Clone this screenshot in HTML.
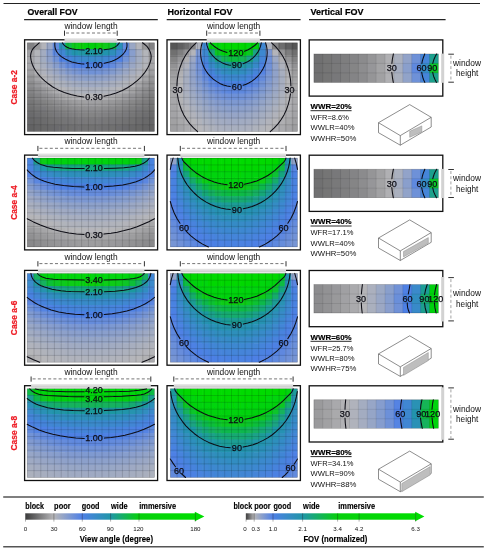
<!DOCTYPE html><html><head><meta charset="utf-8"><title>FOV</title><style>html,body{margin:0;padding:0;background:#fff}svg{display:block}</style></head><body><svg width="488" height="550" viewBox="0 0 488 550" font-family='"Liberation Sans", Arial, sans-serif'>
<defs><linearGradient id="wing" x1="0" y1="0" x2="0" y2="1"><stop offset="0" stop-color="#ebebeb"/><stop offset="1" stop-color="#c6c6c6"/></linearGradient>
<linearGradient id="gang" x1="0" y1="0" x2="1" y2="0"><stop offset="0.0000" stop-color="#3c3c3c"/><stop offset="0.1667" stop-color="#b6b6b9"/><stop offset="0.3333" stop-color="#4e80e6"/><stop offset="0.5000" stop-color="#2096a8"/><stop offset="0.6667" stop-color="#06d00c"/><stop offset="1.0000" stop-color="#00de00"/></linearGradient>
<linearGradient id="gov" x1="0" y1="0" x2="1" y2="0"><stop offset="0.0000" stop-color="#3c3c3c"/><stop offset="0.0476" stop-color="#b6b6b9"/><stop offset="0.1587" stop-color="#4e80e6"/><stop offset="0.3333" stop-color="#2096a8"/><stop offset="0.5397" stop-color="#06d00c"/><stop offset="1.0000" stop-color="#00de00"/></linearGradient>
<filter id="bl" x="-5%" y="-5%" width="110%" height="110%"><feGaussianBlur stdDeviation="0.7"/></filter>
</defs>
<rect width="488" height="550" fill="#fff"/>
<path d="M3.5,3.5H480" stroke="#222" stroke-width="1"/>
<text x="27.5" y="15" font-size="8.9" font-weight="bold" fill="#000" stroke="#000" stroke-width="0.2" textLength="50" lengthAdjust="spacingAndGlyphs">Overall FOV</text>
<text x="167.5" y="15" font-size="8.9" font-weight="bold" fill="#000" stroke="#000" stroke-width="0.2" textLength="65" lengthAdjust="spacingAndGlyphs">Horizontal FOV</text>
<text x="310.4" y="15" font-size="8.9" font-weight="bold" fill="#000" stroke="#000" stroke-width="0.2" textLength="53" lengthAdjust="spacingAndGlyphs">Vertical FOV</text>
<path d="M24.1,19.7H157.8" stroke="#222" stroke-width="1.3"/>
<path d="M166.7,19.7H300.6" stroke="#222" stroke-width="1.3"/>
<path d="M309.0,19.7H445.6" stroke="#222" stroke-width="1.3"/>
<g transform="translate(0,0.00)">
<text transform="translate(17.4,87.3) rotate(-90)" font-size="8.9" font-weight="bold" fill="#ee1c25" stroke="#ee1c25" stroke-width="0.25" text-anchor="middle" textLength="34.5" lengthAdjust="spacingAndGlyphs">Case a-2</text>
<text x="91.0" y="29.1" font-size="8.3" text-anchor="middle" fill="#111" textLength="53.2" lengthAdjust="spacingAndGlyphs">window length</text>
<path d="M66.0,33.0H116.2" stroke="#666" stroke-width="0.9" stroke-dasharray="3 2.2" fill="none"/>
<path d="M64.5,30.6v5.2M117.2,30.6v5.2" stroke="#333" stroke-width="1" fill="none"/>
<text x="233.6" y="29.1" font-size="8.3" text-anchor="middle" fill="#111" textLength="53.2" lengthAdjust="spacingAndGlyphs">window length</text>
<path d="M208.2,33.0H258.9" stroke="#666" stroke-width="0.9" stroke-dasharray="3 2.2" fill="none"/>
<path d="M206.7,30.6v5.2M259.9,30.6v5.2" stroke="#333" stroke-width="1" fill="none"/>
<rect x="24.60" y="39.80" width="133.00" height="94.80" fill="#fff" stroke="#111" stroke-width="1.3"/>
<clipPath id="c1"><rect x="27.20" y="42.80" width="127.30" height="88.80"/></clipPath>
<g clip-path="url(#c1)">
<g filter="url(#bl)">
<path d="M24.2,39.8h10.07v10.04h-10.07z" fill="#828284"/>
<path d="M33.56,39.8h7.07v10.04h-7.07z" fill="#99999b"/>
<path d="M39.93,39.8h7.07v10.04h-7.07z" fill="#b3b4ba"/>
<path d="M46.3,39.8h7.06v10.04h-7.06z" fill="#9aa7c5"/>
<path d="M52.66,39.8h7.07v10.04h-7.07z" fill="#638bdd"/>
<path d="M59.03,39.8h7.06v10.04h-7.06z" fill="#2c90b8"/>
<path d="M65.39,39.8h7.06v10.04h-7.06z" fill="#0fbb45"/>
<path d="M71.75,39.8h7.07v10.04h-7.07z" fill="#09ca1c"/>
<path d="M78.12,39.8h7.06v10.04h-7.06z" fill="#07ce11"/>
<path d="M84.48,39.8h7.07v10.04h-7.07z" fill="#06cf0e"/>
<path d="M90.85,39.8h7.06v10.04h-7.06z" fill="#06cf0e"/>
<path d="M97.22,39.8h7.06v10.04h-7.06z" fill="#07ce11"/>
<path d="M103.58,39.8h7.07v10.04h-7.07z" fill="#09ca1c"/>
<path d="M109.95,39.8h7.06v10.04h-7.06z" fill="#0fbb45"/>
<path d="M116.31,39.8h7.07v10.04h-7.07z" fill="#2c90b8"/>
<path d="M122.68,39.8h7.06v10.04h-7.06z" fill="#638bdd"/>
<path d="M129.04,39.8h7.06v10.04h-7.06z" fill="#9aa7c5"/>
<path d="M135.41,39.8h7.06v10.04h-7.06z" fill="#b3b4ba"/>
<path d="M141.77,39.8h7.06v10.04h-7.06z" fill="#99999b"/>
<path d="M148.13,39.8h9.37v10.04h-9.37z" fill="#828284"/>
<path d="M24.2,49.14h10.07v7.04h-10.07z" fill="#a0a0a3"/>
<path d="M33.56,49.14h7.07v7.04h-7.07z" fill="#b3b5ba"/>
<path d="M39.93,49.14h7.07v7.04h-7.07z" fill="#a3acc1"/>
<path d="M46.3,49.14h7.06v7.04h-7.06z" fill="#889ecd"/>
<path d="M52.66,49.14h7.07v7.04h-7.07z" fill="#5c88e0"/>
<path d="M59.03,49.14h7.06v7.04h-7.06z" fill="#4087d3"/>
<path d="M65.39,49.14h7.06v7.04h-7.06z" fill="#2e8fbb"/>
<path d="M71.75,49.14h7.07v7.04h-7.07z" fill="#2494ad"/>
<path d="M78.12,49.14h7.06v7.04h-7.06z" fill="#2097a5"/>
<path d="M84.48,49.14h7.07v7.04h-7.07z" fill="#1f99a0"/>
<path d="M90.85,49.14h7.06v7.04h-7.06z" fill="#1f99a0"/>
<path d="M97.22,49.14h7.06v7.04h-7.06z" fill="#2097a5"/>
<path d="M103.58,49.14h7.07v7.04h-7.07z" fill="#2494ad"/>
<path d="M109.95,49.14h7.06v7.04h-7.06z" fill="#2e8fbb"/>
<path d="M116.31,49.14h7.07v7.04h-7.07z" fill="#4087d3"/>
<path d="M122.68,49.14h7.06v7.04h-7.06z" fill="#5c88e0"/>
<path d="M129.04,49.14h7.06v7.04h-7.06z" fill="#889ecd"/>
<path d="M135.41,49.14h7.06v7.04h-7.06z" fill="#a3acc1"/>
<path d="M141.77,49.14h7.06v7.04h-7.06z" fill="#b3b5ba"/>
<path d="M148.13,49.14h9.37v7.04h-9.37z" fill="#a0a0a3"/>
<path d="M24.2,55.49h10.07v7.04h-10.07z" fill="#a8a8ab"/>
<path d="M33.56,55.49h7.07v7.04h-7.07z" fill="#b1b3bb"/>
<path d="M39.93,55.49h7.07v7.04h-7.07z" fill="#a2acc1"/>
<path d="M46.3,55.49h7.06v7.04h-7.06z" fill="#8ea1ca"/>
<path d="M52.66,55.49h7.07v7.04h-7.07z" fill="#7293d6"/>
<path d="M59.03,55.49h7.06v7.04h-7.06z" fill="#5182e5"/>
<path d="M65.39,55.49h7.06v7.04h-7.06z" fill="#4684db"/>
<path d="M71.75,55.49h7.07v7.04h-7.07z" fill="#3f87d2"/>
<path d="M78.12,55.49h7.06v7.04h-7.06z" fill="#3c89cd"/>
<path d="M84.48,55.49h7.07v7.04h-7.07z" fill="#3a8acb"/>
<path d="M90.85,55.49h7.06v7.04h-7.06z" fill="#3a8acb"/>
<path d="M97.22,55.49h7.06v7.04h-7.06z" fill="#3c89cd"/>
<path d="M103.58,55.49h7.07v7.04h-7.07z" fill="#3f87d2"/>
<path d="M109.95,55.49h7.06v7.04h-7.06z" fill="#4684db"/>
<path d="M116.31,55.49h7.07v7.04h-7.07z" fill="#5182e5"/>
<path d="M122.68,55.49h7.06v7.04h-7.06z" fill="#7293d6"/>
<path d="M129.04,55.49h7.06v7.04h-7.06z" fill="#8ea1ca"/>
<path d="M135.41,55.49h7.06v7.04h-7.06z" fill="#a2acc1"/>
<path d="M141.77,55.49h7.06v7.04h-7.06z" fill="#b1b3bb"/>
<path d="M148.13,55.49h9.37v7.04h-9.37z" fill="#a8a8ab"/>
<path d="M24.2,61.83h10.07v7.04h-10.07z" fill="#a5a5a8"/>
<path d="M33.56,61.83h7.07v7.04h-7.07z" fill="#b3b5ba"/>
<path d="M39.93,61.83h7.07v7.04h-7.07z" fill="#a8afbf"/>
<path d="M46.3,61.83h7.06v7.04h-7.06z" fill="#9aa7c5"/>
<path d="M52.66,61.83h7.07v7.04h-7.07z" fill="#889ecd"/>
<path d="M59.03,61.83h7.06v7.04h-7.06z" fill="#7594d5"/>
<path d="M65.39,61.83h7.06v7.04h-7.06z" fill="#638bdd"/>
<path d="M71.75,61.83h7.07v7.04h-7.07z" fill="#5483e3"/>
<path d="M78.12,61.83h7.06v7.04h-7.06z" fill="#4d80e5"/>
<path d="M84.48,61.83h7.07v7.04h-7.07z" fill="#4c81e3"/>
<path d="M90.85,61.83h7.06v7.04h-7.06z" fill="#4c81e3"/>
<path d="M97.22,61.83h7.06v7.04h-7.06z" fill="#4d80e5"/>
<path d="M103.58,61.83h7.07v7.04h-7.07z" fill="#5483e3"/>
<path d="M109.95,61.83h7.06v7.04h-7.06z" fill="#638bdd"/>
<path d="M116.31,61.83h7.07v7.04h-7.07z" fill="#7594d5"/>
<path d="M122.68,61.83h7.06v7.04h-7.06z" fill="#889ecd"/>
<path d="M129.04,61.83h7.06v7.04h-7.06z" fill="#9aa7c5"/>
<path d="M135.41,61.83h7.06v7.04h-7.06z" fill="#a8afbf"/>
<path d="M141.77,61.83h7.06v7.04h-7.06z" fill="#b3b5ba"/>
<path d="M148.13,61.83h9.37v7.04h-9.37z" fill="#a5a5a8"/>
<path d="M24.2,68.17h10.07v7.04h-10.07z" fill="#9e9ea1"/>
<path d="M33.56,68.17h7.07v7.04h-7.07z" fill="#b1b1b4"/>
<path d="M39.93,68.17h7.07v7.04h-7.07z" fill="#afb2bc"/>
<path d="M46.3,68.17h7.06v7.04h-7.06z" fill="#a5adc0"/>
<path d="M52.66,68.17h7.07v7.04h-7.07z" fill="#9aa7c5"/>
<path d="M59.03,68.17h7.06v7.04h-7.06z" fill="#8ea1ca"/>
<path d="M65.39,68.17h7.06v7.04h-7.06z" fill="#829bcf"/>
<path d="M71.75,68.17h7.07v7.04h-7.07z" fill="#7996d3"/>
<path d="M78.12,68.17h7.06v7.04h-7.06z" fill="#7393d6"/>
<path d="M84.48,68.17h7.07v7.04h-7.07z" fill="#7092d7"/>
<path d="M90.85,68.17h7.06v7.04h-7.06z" fill="#7092d7"/>
<path d="M97.22,68.17h7.06v7.04h-7.06z" fill="#7393d6"/>
<path d="M103.58,68.17h7.07v7.04h-7.07z" fill="#7996d3"/>
<path d="M109.95,68.17h7.06v7.04h-7.06z" fill="#829bcf"/>
<path d="M116.31,68.17h7.07v7.04h-7.07z" fill="#8ea1ca"/>
<path d="M122.68,68.17h7.06v7.04h-7.06z" fill="#9aa7c5"/>
<path d="M129.04,68.17h7.06v7.04h-7.06z" fill="#a5adc0"/>
<path d="M135.41,68.17h7.06v7.04h-7.06z" fill="#afb2bc"/>
<path d="M141.77,68.17h7.06v7.04h-7.06z" fill="#b1b1b4"/>
<path d="M148.13,68.17h9.37v7.04h-9.37z" fill="#9e9ea1"/>
<path d="M24.2,74.51h10.07v7.04h-10.07z" fill="#969698"/>
<path d="M33.56,74.51h7.07v7.04h-7.07z" fill="#a4a4a7"/>
<path d="M39.93,74.51h7.07v7.04h-7.07z" fill="#b6b6b9"/>
<path d="M46.3,74.51h7.06v7.04h-7.06z" fill="#afb2bc"/>
<path d="M52.66,74.51h7.07v7.04h-7.07z" fill="#a7aebf"/>
<path d="M59.03,74.51h7.06v7.04h-7.06z" fill="#9faac3"/>
<path d="M65.39,74.51h7.06v7.04h-7.06z" fill="#98a6c6"/>
<path d="M71.75,74.51h7.07v7.04h-7.07z" fill="#92a3c9"/>
<path d="M78.12,74.51h7.06v7.04h-7.06z" fill="#8ea1ca"/>
<path d="M84.48,74.51h7.07v7.04h-7.07z" fill="#8ba0cb"/>
<path d="M90.85,74.51h7.06v7.04h-7.06z" fill="#8ba0cb"/>
<path d="M97.22,74.51h7.06v7.04h-7.06z" fill="#8ea1ca"/>
<path d="M103.58,74.51h7.07v7.04h-7.07z" fill="#92a3c9"/>
<path d="M109.95,74.51h7.06v7.04h-7.06z" fill="#98a6c6"/>
<path d="M116.31,74.51h7.07v7.04h-7.07z" fill="#9faac3"/>
<path d="M122.68,74.51h7.06v7.04h-7.06z" fill="#a7aebf"/>
<path d="M129.04,74.51h7.06v7.04h-7.06z" fill="#afb2bc"/>
<path d="M135.41,74.51h7.06v7.04h-7.06z" fill="#b6b6b9"/>
<path d="M141.77,74.51h7.06v7.04h-7.06z" fill="#a4a4a7"/>
<path d="M148.13,74.51h9.37v7.04h-9.37z" fill="#969698"/>
<path d="M24.2,80.86h10.07v7.04h-10.07z" fill="#8d8d8f"/>
<path d="M33.56,80.86h7.07v7.04h-7.07z" fill="#98989b"/>
<path d="M39.93,80.86h7.07v7.04h-7.07z" fill="#a5a5a8"/>
<path d="M46.3,80.86h7.06v7.04h-7.06z" fill="#b4b4b7"/>
<path d="M52.66,80.86h7.07v7.04h-7.07z" fill="#b1b4bb"/>
<path d="M59.03,80.86h7.06v7.04h-7.06z" fill="#acb1bd"/>
<path d="M65.39,80.86h7.06v7.04h-7.06z" fill="#a7aebf"/>
<path d="M71.75,80.86h7.07v7.04h-7.07z" fill="#a3acc1"/>
<path d="M78.12,80.86h7.06v7.04h-7.06z" fill="#a0abc2"/>
<path d="M84.48,80.86h7.07v7.04h-7.07z" fill="#9faac3"/>
<path d="M90.85,80.86h7.06v7.04h-7.06z" fill="#9faac3"/>
<path d="M97.22,80.86h7.06v7.04h-7.06z" fill="#a0abc2"/>
<path d="M103.58,80.86h7.07v7.04h-7.07z" fill="#a3acc1"/>
<path d="M109.95,80.86h7.06v7.04h-7.06z" fill="#a7aebf"/>
<path d="M116.31,80.86h7.07v7.04h-7.07z" fill="#acb1bd"/>
<path d="M122.68,80.86h7.06v7.04h-7.06z" fill="#b1b4bb"/>
<path d="M129.04,80.86h7.06v7.04h-7.06z" fill="#b4b4b7"/>
<path d="M135.41,80.86h7.06v7.04h-7.06z" fill="#a5a5a8"/>
<path d="M141.77,80.86h7.06v7.04h-7.06z" fill="#98989b"/>
<path d="M148.13,80.86h9.37v7.04h-9.37z" fill="#8d8d8f"/>
<path d="M24.2,87.2h10.07v7.04h-10.07z" fill="#848486"/>
<path d="M33.56,87.2h7.07v7.04h-7.07z" fill="#8d8d8f"/>
<path d="M39.93,87.2h7.07v7.04h-7.07z" fill="#97979a"/>
<path d="M46.3,87.2h7.06v7.04h-7.06z" fill="#a2a2a4"/>
<path d="M52.66,87.2h7.07v7.04h-7.07z" fill="#adadb0"/>
<path d="M59.03,87.2h7.06v7.04h-7.06z" fill="#b6b6b9"/>
<path d="M65.39,87.2h7.06v7.04h-7.06z" fill="#b2b4bb"/>
<path d="M71.75,87.2h7.07v7.04h-7.07z" fill="#afb3bc"/>
<path d="M78.12,87.2h7.06v7.04h-7.06z" fill="#adb2bd"/>
<path d="M84.48,87.2h7.07v7.04h-7.07z" fill="#acb1bd"/>
<path d="M90.85,87.2h7.06v7.04h-7.06z" fill="#acb1bd"/>
<path d="M97.22,87.2h7.06v7.04h-7.06z" fill="#adb2bd"/>
<path d="M103.58,87.2h7.07v7.04h-7.07z" fill="#afb3bc"/>
<path d="M109.95,87.2h7.06v7.04h-7.06z" fill="#b2b4bb"/>
<path d="M116.31,87.2h7.07v7.04h-7.07z" fill="#b6b6b9"/>
<path d="M122.68,87.2h7.06v7.04h-7.06z" fill="#adadb0"/>
<path d="M129.04,87.2h7.06v7.04h-7.06z" fill="#a2a2a4"/>
<path d="M135.41,87.2h7.06v7.04h-7.06z" fill="#97979a"/>
<path d="M141.77,87.2h7.06v7.04h-7.06z" fill="#8d8d8f"/>
<path d="M148.13,87.2h9.37v7.04h-9.37z" fill="#848486"/>
<path d="M24.2,93.54h10.07v7.04h-10.07z" fill="#7d7d7e"/>
<path d="M33.56,93.54h7.07v7.04h-7.07z" fill="#848486"/>
<path d="M39.93,93.54h7.07v7.04h-7.07z" fill="#8c8c8e"/>
<path d="M46.3,93.54h7.06v7.04h-7.06z" fill="#939396"/>
<path d="M52.66,93.54h7.07v7.04h-7.07z" fill="#9b9b9e"/>
<path d="M59.03,93.54h7.06v7.04h-7.06z" fill="#a3a3a5"/>
<path d="M65.39,93.54h7.06v7.04h-7.06z" fill="#aaaaac"/>
<path d="M71.75,93.54h7.07v7.04h-7.07z" fill="#afafb2"/>
<path d="M78.12,93.54h7.06v7.04h-7.06z" fill="#b3b3b6"/>
<path d="M84.48,93.54h7.07v7.04h-7.07z" fill="#b5b5b8"/>
<path d="M90.85,93.54h7.06v7.04h-7.06z" fill="#b5b5b8"/>
<path d="M97.22,93.54h7.06v7.04h-7.06z" fill="#b3b3b6"/>
<path d="M103.58,93.54h7.07v7.04h-7.07z" fill="#afafb2"/>
<path d="M109.95,93.54h7.06v7.04h-7.06z" fill="#aaaaac"/>
<path d="M116.31,93.54h7.07v7.04h-7.07z" fill="#a3a3a5"/>
<path d="M122.68,93.54h7.06v7.04h-7.06z" fill="#9b9b9e"/>
<path d="M129.04,93.54h7.06v7.04h-7.06z" fill="#939396"/>
<path d="M135.41,93.54h7.06v7.04h-7.06z" fill="#8c8c8e"/>
<path d="M141.77,93.54h7.06v7.04h-7.06z" fill="#848486"/>
<path d="M148.13,93.54h9.37v7.04h-9.37z" fill="#7d7d7e"/>
<path d="M24.2,99.89h10.07v7.04h-10.07z" fill="#767677"/>
<path d="M33.56,99.89h7.07v7.04h-7.07z" fill="#7c7c7d"/>
<path d="M39.93,99.89h7.07v7.04h-7.07z" fill="#828283"/>
<path d="M46.3,99.89h7.06v7.04h-7.06z" fill="#888889"/>
<path d="M52.66,99.89h7.07v7.04h-7.07z" fill="#8e8e90"/>
<path d="M59.03,99.89h7.06v7.04h-7.06z" fill="#939395"/>
<path d="M65.39,99.89h7.06v7.04h-7.06z" fill="#98989a"/>
<path d="M71.75,99.89h7.07v7.04h-7.07z" fill="#9c9c9e"/>
<path d="M78.12,99.89h7.06v7.04h-7.06z" fill="#9f9fa1"/>
<path d="M84.48,99.89h7.07v7.04h-7.07z" fill="#a0a0a3"/>
<path d="M90.85,99.89h7.06v7.04h-7.06z" fill="#a0a0a3"/>
<path d="M97.22,99.89h7.06v7.04h-7.06z" fill="#9f9fa1"/>
<path d="M103.58,99.89h7.07v7.04h-7.07z" fill="#9c9c9e"/>
<path d="M109.95,99.89h7.06v7.04h-7.06z" fill="#98989a"/>
<path d="M116.31,99.89h7.07v7.04h-7.07z" fill="#939395"/>
<path d="M122.68,99.89h7.06v7.04h-7.06z" fill="#8e8e90"/>
<path d="M129.04,99.89h7.06v7.04h-7.06z" fill="#888889"/>
<path d="M135.41,99.89h7.06v7.04h-7.06z" fill="#828283"/>
<path d="M141.77,99.89h7.06v7.04h-7.06z" fill="#7c7c7d"/>
<path d="M148.13,99.89h9.37v7.04h-9.37z" fill="#767677"/>
<path d="M24.2,106.23h10.07v7.04h-10.07z" fill="#707071"/>
<path d="M33.56,106.23h7.07v7.04h-7.07z" fill="#757576"/>
<path d="M39.93,106.23h7.07v7.04h-7.07z" fill="#79797b"/>
<path d="M46.3,106.23h7.06v7.04h-7.06z" fill="#7e7e7f"/>
<path d="M52.66,106.23h7.07v7.04h-7.07z" fill="#828284"/>
<path d="M59.03,106.23h7.06v7.04h-7.06z" fill="#878788"/>
<path d="M65.39,106.23h7.06v7.04h-7.06z" fill="#8a8a8c"/>
<path d="M71.75,106.23h7.07v7.04h-7.07z" fill="#8d8d8f"/>
<path d="M78.12,106.23h7.06v7.04h-7.06z" fill="#8f8f91"/>
<path d="M84.48,106.23h7.07v7.04h-7.07z" fill="#909092"/>
<path d="M90.85,106.23h7.06v7.04h-7.06z" fill="#909092"/>
<path d="M97.22,106.23h7.06v7.04h-7.06z" fill="#8f8f91"/>
<path d="M103.58,106.23h7.07v7.04h-7.07z" fill="#8d8d8f"/>
<path d="M109.95,106.23h7.06v7.04h-7.06z" fill="#8a8a8c"/>
<path d="M116.31,106.23h7.07v7.04h-7.07z" fill="#878788"/>
<path d="M122.68,106.23h7.06v7.04h-7.06z" fill="#828284"/>
<path d="M129.04,106.23h7.06v7.04h-7.06z" fill="#7e7e7f"/>
<path d="M135.41,106.23h7.06v7.04h-7.06z" fill="#79797b"/>
<path d="M141.77,106.23h7.06v7.04h-7.06z" fill="#757576"/>
<path d="M148.13,106.23h9.37v7.04h-9.37z" fill="#707071"/>
<path d="M24.2,112.57h10.07v7.04h-10.07z" fill="#6b6b6c"/>
<path d="M33.56,112.57h7.07v7.04h-7.07z" fill="#6e6e70"/>
<path d="M39.93,112.57h7.07v7.04h-7.07z" fill="#727273"/>
<path d="M46.3,112.57h7.06v7.04h-7.06z" fill="#767677"/>
<path d="M52.66,112.57h7.07v7.04h-7.07z" fill="#79797b"/>
<path d="M59.03,112.57h7.06v7.04h-7.06z" fill="#7c7c7e"/>
<path d="M65.39,112.57h7.06v7.04h-7.06z" fill="#7f7f81"/>
<path d="M71.75,112.57h7.07v7.04h-7.07z" fill="#818183"/>
<path d="M78.12,112.57h7.06v7.04h-7.06z" fill="#838385"/>
<path d="M84.48,112.57h7.07v7.04h-7.07z" fill="#848485"/>
<path d="M90.85,112.57h7.06v7.04h-7.06z" fill="#848485"/>
<path d="M97.22,112.57h7.06v7.04h-7.06z" fill="#838385"/>
<path d="M103.58,112.57h7.07v7.04h-7.07z" fill="#818183"/>
<path d="M109.95,112.57h7.06v7.04h-7.06z" fill="#7f7f81"/>
<path d="M116.31,112.57h7.07v7.04h-7.07z" fill="#7c7c7e"/>
<path d="M122.68,112.57h7.06v7.04h-7.06z" fill="#79797b"/>
<path d="M129.04,112.57h7.06v7.04h-7.06z" fill="#767677"/>
<path d="M135.41,112.57h7.06v7.04h-7.06z" fill="#727273"/>
<path d="M141.77,112.57h7.06v7.04h-7.06z" fill="#6e6e70"/>
<path d="M148.13,112.57h9.37v7.04h-9.37z" fill="#6b6b6c"/>
<path d="M24.2,118.91h10.07v7.04h-10.07z" fill="#666667"/>
<path d="M33.56,118.91h7.07v7.04h-7.07z" fill="#69696a"/>
<path d="M39.93,118.91h7.07v7.04h-7.07z" fill="#6c6c6d"/>
<path d="M46.3,118.91h7.06v7.04h-7.06z" fill="#6f6f70"/>
<path d="M52.66,118.91h7.07v7.04h-7.07z" fill="#727273"/>
<path d="M59.03,118.91h7.06v7.04h-7.06z" fill="#747476"/>
<path d="M65.39,118.91h7.06v7.04h-7.06z" fill="#767678"/>
<path d="M71.75,118.91h7.07v7.04h-7.07z" fill="#787879"/>
<path d="M78.12,118.91h7.06v7.04h-7.06z" fill="#79797b"/>
<path d="M84.48,118.91h7.07v7.04h-7.07z" fill="#7a7a7b"/>
<path d="M90.85,118.91h7.06v7.04h-7.06z" fill="#7a7a7b"/>
<path d="M97.22,118.91h7.06v7.04h-7.06z" fill="#79797b"/>
<path d="M103.58,118.91h7.07v7.04h-7.07z" fill="#787879"/>
<path d="M109.95,118.91h7.06v7.04h-7.06z" fill="#767678"/>
<path d="M116.31,118.91h7.07v7.04h-7.07z" fill="#747476"/>
<path d="M122.68,118.91h7.06v7.04h-7.06z" fill="#727273"/>
<path d="M129.04,118.91h7.06v7.04h-7.06z" fill="#6f6f70"/>
<path d="M135.41,118.91h7.06v7.04h-7.06z" fill="#6c6c6d"/>
<path d="M141.77,118.91h7.06v7.04h-7.06z" fill="#69696a"/>
<path d="M148.13,118.91h9.37v7.04h-9.37z" fill="#666667"/>
<path d="M24.2,125.26h10.07v9.34h-10.07z" fill="#626263"/>
<path d="M33.56,125.26h7.07v9.34h-7.07z" fill="#656566"/>
<path d="M39.93,125.26h7.07v9.34h-7.07z" fill="#676768"/>
<path d="M46.3,125.26h7.06v9.34h-7.06z" fill="#69696a"/>
<path d="M52.66,125.26h7.07v9.34h-7.07z" fill="#6b6b6d"/>
<path d="M59.03,125.26h7.06v9.34h-7.06z" fill="#6d6d6f"/>
<path d="M65.39,125.26h7.06v9.34h-7.06z" fill="#6f6f70"/>
<path d="M71.75,125.26h7.07v9.34h-7.07z" fill="#707072"/>
<path d="M78.12,125.26h7.06v9.34h-7.06z" fill="#717173"/>
<path d="M84.48,125.26h7.07v9.34h-7.07z" fill="#727273"/>
<path d="M90.85,125.26h7.06v9.34h-7.06z" fill="#727273"/>
<path d="M97.22,125.26h7.06v9.34h-7.06z" fill="#717173"/>
<path d="M103.58,125.26h7.07v9.34h-7.07z" fill="#707072"/>
<path d="M109.95,125.26h7.06v9.34h-7.06z" fill="#6f6f70"/>
<path d="M116.31,125.26h7.07v9.34h-7.07z" fill="#6d6d6f"/>
<path d="M122.68,125.26h7.06v9.34h-7.06z" fill="#6b6b6d"/>
<path d="M129.04,125.26h7.06v9.34h-7.06z" fill="#69696a"/>
<path d="M135.41,125.26h7.06v9.34h-7.06z" fill="#676768"/>
<path d="M141.77,125.26h7.06v9.34h-7.06z" fill="#656566"/>
<path d="M148.13,125.26h9.37v9.34h-9.37z" fill="#626263"/>
</g>
</g>
<path d="M34.00,42.80V131.60M40.80,42.80V131.60M47.60,42.80V131.60M54.40,42.80V131.60M61.20,42.80V131.60M68.00,42.80V131.60M74.80,42.80V131.60M81.60,42.80V131.60M88.40,42.80V131.60M95.20,42.80V131.60M102.00,42.80V131.60M108.80,42.80V131.60M115.60,42.80V131.60M122.40,42.80V131.60M129.20,42.80V131.60M136.00,42.80V131.60M142.80,42.80V131.60M149.60,42.80V131.60M27.20,49.63H154.50M27.20,56.46H154.50M27.20,63.29H154.50M27.20,70.12H154.50M27.20,76.95H154.50M27.20,83.78H154.50M27.20,90.62H154.50M27.20,97.45H154.50M27.20,104.28H154.50M27.20,111.11H154.50M27.20,117.94H154.50M27.20,124.77H154.50" stroke="#000" stroke-opacity="0.2" stroke-width="0.7" fill="none"/>
<rect x="27.20" y="42.80" width="127.30" height="88.80" fill="none" stroke="#000" stroke-opacity="0.3" stroke-width="0.6"/>
<rect x="64.50" y="38.10" width="52.70" height="3.7" fill="url(#wing)"/>
<g fill="none" stroke="#0c0c14" stroke-width="1.05" stroke-linejoin="round" stroke-linecap="round">
<path d="M142.5,42.8L144.2,44L145.8,45.3L147.2,46.7L148.4,48.4L149.4,50.1L150.2,51.9L150.8,53.8L151.1,55.7L151.1,57.6L150.9,59.6L150.4,61.5L149.8,63.4L149,65.3L147.8,67.7L146.4,70.1L144.9,72.3L141.5,76.5L139.7,78.4L137.2,80.7L132.5,84.4L127.5,87.7L122.3,90.5L119.2,91.8L116.1,93L110.4,94.8L103.9,96.2"/>
<path d="M83.8,97L77.2,96.1L70.7,94.6L64.3,92.6L61.3,91.3L58.2,89.9L55.3,88.4L52.5,86.7L47.6,83.2L45,81.1L42.5,78.9L40.2,76.5L38.4,74.4L36.4,71.8L34.9,69.5L33.6,67.2L32.5,64.7L31.6,62.2L31.1,60.2L30.7,57.6L30.6,55.6L30.9,53.7L31.2,52.4L31.9,50.6L32.5,49.5L33.3,48.4L34.7,46.8L39.2,42.8"/>
<path d="M126.8,42.8L127,44.2L127,46.2L126.8,47.5L126.2,49.4L125.6,50.6L124.6,52.2L123.4,53.8L122,55.2L120.5,56.5L118.4,58L116.7,59L114.3,60.2L111.9,61.2L109.4,62L104.2,63.3"/>
<path d="M83.9,64.1L80.7,63.8L77.5,63.3L74.3,62.6L71.8,61.9L68.7,60.7L66.2,59.6L63.9,58.3L61.6,56.9L59.6,55.2L58.3,53.8L57.1,52.2L56.1,50.6L55.4,48.8L55,47L54.8,44.9L54.9,42.8"/>
<path d="M119.3,42.9L118.1,44.5L116.7,45.8L115.2,46.9L113.5,47.8L111.7,48.4L109.3,49L104.1,49.7"/>
<path d="M84.1,50.1L79.6,49.8L75.7,49.4L71.8,48.8L69.4,48.2L67.1,47.2L65.5,46.3L63.6,44.6L62.4,42.9"/>
</g>
<g font-size="9.6" fill="#0c0c14" stroke="#0c0c14" stroke-width="0.25" text-anchor="middle">
<text x="94.1" y="53.5" textLength="17.6" lengthAdjust="spacingAndGlyphs">2.10</text>
<text x="94.1" y="68.2" textLength="17.6" lengthAdjust="spacingAndGlyphs">1.00</text>
<text x="94.1" y="100.2" textLength="17.6" lengthAdjust="spacingAndGlyphs">0.30</text>
</g>
<rect x="167.00" y="39.80" width="133.40" height="94.80" fill="#fff" stroke="#111" stroke-width="1.3"/>
<clipPath id="c2"><rect x="170.30" y="42.80" width="127.20" height="88.80"/></clipPath>
<g clip-path="url(#c2)">
<g filter="url(#bl)">
<path d="M167.3,39.8h10.06v10.04h-10.06z" fill="#565657"/>
<path d="M176.66,39.8h7.06v10.04h-7.06z" fill="#5f5f60"/>
<path d="M183.02,39.8h7.06v10.04h-7.06z" fill="#6d6d6e"/>
<path d="M189.38,39.8h7.06v10.04h-7.06z" fill="#868688"/>
<path d="M195.74,39.8h7.06v10.04h-7.06z" fill="#aeb2bd"/>
<path d="M202.1,39.8h7.06v10.04h-7.06z" fill="#3f87d2"/>
<path d="M208.46,39.8h7.06v10.04h-7.06z" fill="#06d00c"/>
<path d="M214.82,39.8h7.06v10.04h-7.06z" fill="#04d507"/>
<path d="M221.18,39.8h7.06v10.04h-7.06z" fill="#03d706"/>
<path d="M227.54,39.8h7.06v10.04h-7.06z" fill="#03d805"/>
<path d="M233.9,39.8h7.06v10.04h-7.06z" fill="#03d805"/>
<path d="M240.26,39.8h7.06v10.04h-7.06z" fill="#03d706"/>
<path d="M246.62,39.8h7.06v10.04h-7.06z" fill="#04d507"/>
<path d="M252.98,39.8h7.06v10.04h-7.06z" fill="#06d00c"/>
<path d="M259.34,39.8h7.06v10.04h-7.06z" fill="#3f87d2"/>
<path d="M265.7,39.8h7.06v10.04h-7.06z" fill="#aeb2bd"/>
<path d="M272.06,39.8h7.06v10.04h-7.06z" fill="#868688"/>
<path d="M278.42,39.8h7.06v10.04h-7.06z" fill="#6d6d6e"/>
<path d="M284.78,39.8h7.06v10.04h-7.06z" fill="#5f5f60"/>
<path d="M291.14,39.8h9.36v10.04h-9.36z" fill="#565657"/>
<path d="M167.3,49.14h10.06v7.04h-10.06z" fill="#6f6f70"/>
<path d="M176.66,49.14h7.06v7.04h-7.06z" fill="#7e7e7f"/>
<path d="M183.02,49.14h7.06v7.04h-7.06z" fill="#959597"/>
<path d="M189.38,49.14h7.06v7.04h-7.06z" fill="#b3b4ba"/>
<path d="M195.74,49.14h7.06v7.04h-7.06z" fill="#7d98d2"/>
<path d="M202.1,49.14h7.06v7.04h-7.06z" fill="#3e88d0"/>
<path d="M208.46,49.14h7.06v7.04h-7.06z" fill="#1aa384"/>
<path d="M214.82,49.14h7.06v7.04h-7.06z" fill="#0ac723"/>
<path d="M221.18,49.14h7.06v7.04h-7.06z" fill="#05d10b"/>
<path d="M227.54,49.14h7.06v7.04h-7.06z" fill="#05d20a"/>
<path d="M233.9,49.14h7.06v7.04h-7.06z" fill="#05d20a"/>
<path d="M240.26,49.14h7.06v7.04h-7.06z" fill="#05d10b"/>
<path d="M246.62,49.14h7.06v7.04h-7.06z" fill="#0ac723"/>
<path d="M252.98,49.14h7.06v7.04h-7.06z" fill="#1aa384"/>
<path d="M259.34,49.14h7.06v7.04h-7.06z" fill="#3e88d0"/>
<path d="M265.7,49.14h7.06v7.04h-7.06z" fill="#7d98d2"/>
<path d="M272.06,49.14h7.06v7.04h-7.06z" fill="#b3b4ba"/>
<path d="M278.42,49.14h7.06v7.04h-7.06z" fill="#959597"/>
<path d="M284.78,49.14h7.06v7.04h-7.06z" fill="#7e7e7f"/>
<path d="M291.14,49.14h9.36v7.04h-9.36z" fill="#6f6f70"/>
<path d="M167.3,55.49h10.06v7.04h-10.06z" fill="#838384"/>
<path d="M176.66,55.49h7.06v7.04h-7.06z" fill="#959597"/>
<path d="M183.02,55.49h7.06v7.04h-7.06z" fill="#afafb2"/>
<path d="M189.38,55.49h7.06v7.04h-7.06z" fill="#9ca8c4"/>
<path d="M195.74,55.49h7.06v7.04h-7.06z" fill="#6f91d8"/>
<path d="M202.1,55.49h7.06v7.04h-7.06z" fill="#4485d8"/>
<path d="M208.46,55.49h7.06v7.04h-7.06z" fill="#2a91b5"/>
<path d="M214.82,55.49h7.06v7.04h-7.06z" fill="#1aa483"/>
<path d="M221.18,55.49h7.06v7.04h-7.06z" fill="#12b456"/>
<path d="M227.54,55.49h7.06v7.04h-7.06z" fill="#0fbc41"/>
<path d="M233.9,55.49h7.06v7.04h-7.06z" fill="#0fbc41"/>
<path d="M240.26,55.49h7.06v7.04h-7.06z" fill="#12b456"/>
<path d="M246.62,55.49h7.06v7.04h-7.06z" fill="#1aa483"/>
<path d="M252.98,55.49h7.06v7.04h-7.06z" fill="#2a91b5"/>
<path d="M259.34,55.49h7.06v7.04h-7.06z" fill="#4485d8"/>
<path d="M265.7,55.49h7.06v7.04h-7.06z" fill="#6f91d8"/>
<path d="M272.06,55.49h7.06v7.04h-7.06z" fill="#9ca8c4"/>
<path d="M278.42,55.49h7.06v7.04h-7.06z" fill="#afafb2"/>
<path d="M284.78,55.49h7.06v7.04h-7.06z" fill="#959597"/>
<path d="M291.14,55.49h9.36v7.04h-9.36z" fill="#838384"/>
<path d="M167.3,61.83h10.06v7.04h-10.06z" fill="#929294"/>
<path d="M176.66,61.83h7.06v7.04h-7.06z" fill="#a5a5a8"/>
<path d="M183.02,61.83h7.06v7.04h-7.06z" fill="#afb2bc"/>
<path d="M189.38,61.83h7.06v7.04h-7.06z" fill="#92a3c8"/>
<path d="M195.74,61.83h7.06v7.04h-7.06z" fill="#6f91d8"/>
<path d="M202.1,61.83h7.06v7.04h-7.06z" fill="#4b82e1"/>
<path d="M208.46,61.83h7.06v7.04h-7.06z" fill="#398ac9"/>
<path d="M214.82,61.83h7.06v7.04h-7.06z" fill="#2a91b5"/>
<path d="M221.18,61.83h7.06v7.04h-7.06z" fill="#2097a6"/>
<path d="M227.54,61.83h7.06v7.04h-7.06z" fill="#1d9d95"/>
<path d="M233.9,61.83h7.06v7.04h-7.06z" fill="#1d9d95"/>
<path d="M240.26,61.83h7.06v7.04h-7.06z" fill="#2097a6"/>
<path d="M246.62,61.83h7.06v7.04h-7.06z" fill="#2a91b5"/>
<path d="M252.98,61.83h7.06v7.04h-7.06z" fill="#398ac9"/>
<path d="M259.34,61.83h7.06v7.04h-7.06z" fill="#4b82e1"/>
<path d="M265.7,61.83h7.06v7.04h-7.06z" fill="#6f91d8"/>
<path d="M272.06,61.83h7.06v7.04h-7.06z" fill="#92a3c8"/>
<path d="M278.42,61.83h7.06v7.04h-7.06z" fill="#afb2bc"/>
<path d="M284.78,61.83h7.06v7.04h-7.06z" fill="#a5a5a8"/>
<path d="M291.14,61.83h9.36v7.04h-9.36z" fill="#929294"/>
<path d="M167.3,68.17h10.06v7.04h-10.06z" fill="#9c9c9e"/>
<path d="M176.66,68.17h7.06v7.04h-7.06z" fill="#afafb2"/>
<path d="M183.02,68.17h7.06v7.04h-7.06z" fill="#a8afbf"/>
<path d="M189.38,68.17h7.06v7.04h-7.06z" fill="#90a2c9"/>
<path d="M195.74,68.17h7.06v7.04h-7.06z" fill="#7494d6"/>
<path d="M202.1,68.17h7.06v7.04h-7.06z" fill="#5684e3"/>
<path d="M208.46,68.17h7.06v7.04h-7.06z" fill="#4585d9"/>
<path d="M214.82,68.17h7.06v7.04h-7.06z" fill="#3a8acb"/>
<path d="M221.18,68.17h7.06v7.04h-7.06z" fill="#328dc0"/>
<path d="M227.54,68.17h7.06v7.04h-7.06z" fill="#2e8fbb"/>
<path d="M233.9,68.17h7.06v7.04h-7.06z" fill="#2e8fbb"/>
<path d="M240.26,68.17h7.06v7.04h-7.06z" fill="#328dc0"/>
<path d="M246.62,68.17h7.06v7.04h-7.06z" fill="#3a8acb"/>
<path d="M252.98,68.17h7.06v7.04h-7.06z" fill="#4585d9"/>
<path d="M259.34,68.17h7.06v7.04h-7.06z" fill="#5684e3"/>
<path d="M265.7,68.17h7.06v7.04h-7.06z" fill="#7494d6"/>
<path d="M272.06,68.17h7.06v7.04h-7.06z" fill="#90a2c9"/>
<path d="M278.42,68.17h7.06v7.04h-7.06z" fill="#a8afbf"/>
<path d="M284.78,68.17h7.06v7.04h-7.06z" fill="#afafb2"/>
<path d="M291.14,68.17h9.36v7.04h-9.36z" fill="#9c9c9e"/>
<path d="M167.3,74.51h10.06v7.04h-10.06z" fill="#a3a3a5"/>
<path d="M176.66,74.51h7.06v7.04h-7.06z" fill="#b4b4b7"/>
<path d="M183.02,74.51h7.06v7.04h-7.06z" fill="#a6aec0"/>
<path d="M189.38,74.51h7.06v7.04h-7.06z" fill="#92a3c9"/>
<path d="M195.74,74.51h7.06v7.04h-7.06z" fill="#7c98d2"/>
<path d="M202.1,74.51h7.06v7.04h-7.06z" fill="#658cdc"/>
<path d="M208.46,74.51h7.06v7.04h-7.06z" fill="#4f80e6"/>
<path d="M214.82,74.51h7.06v7.04h-7.06z" fill="#4684db"/>
<path d="M221.18,74.51h7.06v7.04h-7.06z" fill="#4087d4"/>
<path d="M227.54,74.51h7.06v7.04h-7.06z" fill="#3d88cf"/>
<path d="M233.9,74.51h7.06v7.04h-7.06z" fill="#3d88cf"/>
<path d="M240.26,74.51h7.06v7.04h-7.06z" fill="#4087d4"/>
<path d="M246.62,74.51h7.06v7.04h-7.06z" fill="#4684db"/>
<path d="M252.98,74.51h7.06v7.04h-7.06z" fill="#4f80e6"/>
<path d="M259.34,74.51h7.06v7.04h-7.06z" fill="#658cdc"/>
<path d="M265.7,74.51h7.06v7.04h-7.06z" fill="#7c98d2"/>
<path d="M272.06,74.51h7.06v7.04h-7.06z" fill="#92a3c9"/>
<path d="M278.42,74.51h7.06v7.04h-7.06z" fill="#a6aec0"/>
<path d="M284.78,74.51h7.06v7.04h-7.06z" fill="#b4b4b7"/>
<path d="M291.14,74.51h9.36v7.04h-9.36z" fill="#a3a3a5"/>
<path d="M167.3,80.86h10.06v7.04h-10.06z" fill="#a7a7a9"/>
<path d="M176.66,80.86h7.06v7.04h-7.06z" fill="#b6b6b9"/>
<path d="M183.02,80.86h7.06v7.04h-7.06z" fill="#a7aec0"/>
<path d="M189.38,80.86h7.06v7.04h-7.06z" fill="#96a5c7"/>
<path d="M195.74,80.86h7.06v7.04h-7.06z" fill="#849ccf"/>
<path d="M202.1,80.86h7.06v7.04h-7.06z" fill="#7293d6"/>
<path d="M208.46,80.86h7.06v7.04h-7.06z" fill="#618ade"/>
<path d="M214.82,80.86h7.06v7.04h-7.06z" fill="#5483e4"/>
<path d="M221.18,80.86h7.06v7.04h-7.06z" fill="#4c81e3"/>
<path d="M227.54,80.86h7.06v7.04h-7.06z" fill="#4a82e0"/>
<path d="M233.9,80.86h7.06v7.04h-7.06z" fill="#4a82e0"/>
<path d="M240.26,80.86h7.06v7.04h-7.06z" fill="#4c81e3"/>
<path d="M246.62,80.86h7.06v7.04h-7.06z" fill="#5483e4"/>
<path d="M252.98,80.86h7.06v7.04h-7.06z" fill="#618ade"/>
<path d="M259.34,80.86h7.06v7.04h-7.06z" fill="#7293d6"/>
<path d="M265.7,80.86h7.06v7.04h-7.06z" fill="#849ccf"/>
<path d="M272.06,80.86h7.06v7.04h-7.06z" fill="#96a5c7"/>
<path d="M278.42,80.86h7.06v7.04h-7.06z" fill="#a7aec0"/>
<path d="M284.78,80.86h7.06v7.04h-7.06z" fill="#b6b6b9"/>
<path d="M291.14,80.86h9.36v7.04h-9.36z" fill="#a7a7a9"/>
<path d="M167.3,87.2h10.06v7.04h-10.06z" fill="#a8a8ab"/>
<path d="M176.66,87.2h7.06v7.04h-7.06z" fill="#b6b6b9"/>
<path d="M183.02,87.2h7.06v7.04h-7.06z" fill="#a9afbf"/>
<path d="M189.38,87.2h7.06v7.04h-7.06z" fill="#9ba8c5"/>
<path d="M195.74,87.2h7.06v7.04h-7.06z" fill="#8ca0cb"/>
<path d="M202.1,87.2h7.06v7.04h-7.06z" fill="#7e99d1"/>
<path d="M208.46,87.2h7.06v7.04h-7.06z" fill="#7192d7"/>
<path d="M214.82,87.2h7.06v7.04h-7.06z" fill="#678ddb"/>
<path d="M221.18,87.2h7.06v7.04h-7.06z" fill="#5f89df"/>
<path d="M227.54,87.2h7.06v7.04h-7.06z" fill="#5b87e0"/>
<path d="M233.9,87.2h7.06v7.04h-7.06z" fill="#5b87e0"/>
<path d="M240.26,87.2h7.06v7.04h-7.06z" fill="#5f89df"/>
<path d="M246.62,87.2h7.06v7.04h-7.06z" fill="#678ddb"/>
<path d="M252.98,87.2h7.06v7.04h-7.06z" fill="#7192d7"/>
<path d="M259.34,87.2h7.06v7.04h-7.06z" fill="#7e99d1"/>
<path d="M265.7,87.2h7.06v7.04h-7.06z" fill="#8ca0cb"/>
<path d="M272.06,87.2h7.06v7.04h-7.06z" fill="#9ba8c5"/>
<path d="M278.42,87.2h7.06v7.04h-7.06z" fill="#a9afbf"/>
<path d="M284.78,87.2h7.06v7.04h-7.06z" fill="#b6b6b9"/>
<path d="M291.14,87.2h9.36v7.04h-9.36z" fill="#a8a8ab"/>
<path d="M167.3,93.54h10.06v7.04h-10.06z" fill="#a8a8ab"/>
<path d="M176.66,93.54h7.06v7.04h-7.06z" fill="#b4b4b7"/>
<path d="M183.02,93.54h7.06v7.04h-7.06z" fill="#acb1bd"/>
<path d="M189.38,93.54h7.06v7.04h-7.06z" fill="#a0abc2"/>
<path d="M195.74,93.54h7.06v7.04h-7.06z" fill="#95a5c7"/>
<path d="M202.1,93.54h7.06v7.04h-7.06z" fill="#899fcc"/>
<path d="M208.46,93.54h7.06v7.04h-7.06z" fill="#7f9ad1"/>
<path d="M214.82,93.54h7.06v7.04h-7.06z" fill="#7795d4"/>
<path d="M221.18,93.54h7.06v7.04h-7.06z" fill="#7192d7"/>
<path d="M227.54,93.54h7.06v7.04h-7.06z" fill="#6e91d8"/>
<path d="M233.9,93.54h7.06v7.04h-7.06z" fill="#6e91d8"/>
<path d="M240.26,93.54h7.06v7.04h-7.06z" fill="#7192d7"/>
<path d="M246.62,93.54h7.06v7.04h-7.06z" fill="#7795d4"/>
<path d="M252.98,93.54h7.06v7.04h-7.06z" fill="#7f9ad1"/>
<path d="M259.34,93.54h7.06v7.04h-7.06z" fill="#899fcc"/>
<path d="M265.7,93.54h7.06v7.04h-7.06z" fill="#95a5c7"/>
<path d="M272.06,93.54h7.06v7.04h-7.06z" fill="#a0abc2"/>
<path d="M278.42,93.54h7.06v7.04h-7.06z" fill="#acb1bd"/>
<path d="M284.78,93.54h7.06v7.04h-7.06z" fill="#b4b4b7"/>
<path d="M291.14,93.54h9.36v7.04h-9.36z" fill="#a8a8ab"/>
<path d="M167.3,99.89h10.06v7.04h-10.06z" fill="#a7a7aa"/>
<path d="M176.66,99.89h7.06v7.04h-7.06z" fill="#b2b2b5"/>
<path d="M183.02,99.89h7.06v7.04h-7.06z" fill="#b0b3bc"/>
<path d="M189.38,99.89h7.06v7.04h-7.06z" fill="#a6aec0"/>
<path d="M195.74,99.89h7.06v7.04h-7.06z" fill="#9ca9c4"/>
<path d="M202.1,99.89h7.06v7.04h-7.06z" fill="#93a4c8"/>
<path d="M208.46,99.89h7.06v7.04h-7.06z" fill="#8ba0cc"/>
<path d="M214.82,99.89h7.06v7.04h-7.06z" fill="#859cce"/>
<path d="M221.18,99.89h7.06v7.04h-7.06z" fill="#809ad0"/>
<path d="M227.54,99.89h7.06v7.04h-7.06z" fill="#7e99d1"/>
<path d="M233.9,99.89h7.06v7.04h-7.06z" fill="#7e99d1"/>
<path d="M240.26,99.89h7.06v7.04h-7.06z" fill="#809ad0"/>
<path d="M246.62,99.89h7.06v7.04h-7.06z" fill="#859cce"/>
<path d="M252.98,99.89h7.06v7.04h-7.06z" fill="#8ba0cc"/>
<path d="M259.34,99.89h7.06v7.04h-7.06z" fill="#93a4c8"/>
<path d="M265.7,99.89h7.06v7.04h-7.06z" fill="#9ca9c4"/>
<path d="M272.06,99.89h7.06v7.04h-7.06z" fill="#a6aec0"/>
<path d="M278.42,99.89h7.06v7.04h-7.06z" fill="#b0b3bc"/>
<path d="M284.78,99.89h7.06v7.04h-7.06z" fill="#b2b2b5"/>
<path d="M291.14,99.89h9.36v7.04h-9.36z" fill="#a7a7aa"/>
<path d="M167.3,106.23h10.06v7.04h-10.06z" fill="#a5a5a8"/>
<path d="M176.66,106.23h7.06v7.04h-7.06z" fill="#afafb2"/>
<path d="M183.02,106.23h7.06v7.04h-7.06z" fill="#b4b5ba"/>
<path d="M189.38,106.23h7.06v7.04h-7.06z" fill="#acb1bd"/>
<path d="M195.74,106.23h7.06v7.04h-7.06z" fill="#a4adc1"/>
<path d="M202.1,106.23h7.06v7.04h-7.06z" fill="#9ca9c4"/>
<path d="M208.46,106.23h7.06v7.04h-7.06z" fill="#96a5c7"/>
<path d="M214.82,106.23h7.06v7.04h-7.06z" fill="#90a2c9"/>
<path d="M221.18,106.23h7.06v7.04h-7.06z" fill="#8da1cb"/>
<path d="M227.54,106.23h7.06v7.04h-7.06z" fill="#8ba0cc"/>
<path d="M233.9,106.23h7.06v7.04h-7.06z" fill="#8ba0cc"/>
<path d="M240.26,106.23h7.06v7.04h-7.06z" fill="#8da1cb"/>
<path d="M246.62,106.23h7.06v7.04h-7.06z" fill="#90a2c9"/>
<path d="M252.98,106.23h7.06v7.04h-7.06z" fill="#96a5c7"/>
<path d="M259.34,106.23h7.06v7.04h-7.06z" fill="#9ca9c4"/>
<path d="M265.7,106.23h7.06v7.04h-7.06z" fill="#a4adc1"/>
<path d="M272.06,106.23h7.06v7.04h-7.06z" fill="#acb1bd"/>
<path d="M278.42,106.23h7.06v7.04h-7.06z" fill="#b4b5ba"/>
<path d="M284.78,106.23h7.06v7.04h-7.06z" fill="#afafb2"/>
<path d="M291.14,106.23h9.36v7.04h-9.36z" fill="#a5a5a8"/>
<path d="M167.3,112.57h10.06v7.04h-10.06z" fill="#a3a3a6"/>
<path d="M176.66,112.57h7.06v7.04h-7.06z" fill="#ababae"/>
<path d="M183.02,112.57h7.06v7.04h-7.06z" fill="#b4b4b6"/>
<path d="M189.38,112.57h7.06v7.04h-7.06z" fill="#b1b3bb"/>
<path d="M195.74,112.57h7.06v7.04h-7.06z" fill="#aab0be"/>
<path d="M202.1,112.57h7.06v7.04h-7.06z" fill="#a4adc1"/>
<path d="M208.46,112.57h7.06v7.04h-7.06z" fill="#9faac3"/>
<path d="M214.82,112.57h7.06v7.04h-7.06z" fill="#9ba8c5"/>
<path d="M221.18,112.57h7.06v7.04h-7.06z" fill="#98a6c6"/>
<path d="M227.54,112.57h7.06v7.04h-7.06z" fill="#96a5c7"/>
<path d="M233.9,112.57h7.06v7.04h-7.06z" fill="#96a5c7"/>
<path d="M240.26,112.57h7.06v7.04h-7.06z" fill="#98a6c6"/>
<path d="M246.62,112.57h7.06v7.04h-7.06z" fill="#9ba8c5"/>
<path d="M252.98,112.57h7.06v7.04h-7.06z" fill="#9faac3"/>
<path d="M259.34,112.57h7.06v7.04h-7.06z" fill="#a4adc1"/>
<path d="M265.7,112.57h7.06v7.04h-7.06z" fill="#aab0be"/>
<path d="M272.06,112.57h7.06v7.04h-7.06z" fill="#b1b3bb"/>
<path d="M278.42,112.57h7.06v7.04h-7.06z" fill="#b4b4b6"/>
<path d="M284.78,112.57h7.06v7.04h-7.06z" fill="#ababae"/>
<path d="M291.14,112.57h9.36v7.04h-9.36z" fill="#a3a3a6"/>
<path d="M167.3,118.91h10.06v7.04h-10.06z" fill="#a1a1a3"/>
<path d="M176.66,118.91h7.06v7.04h-7.06z" fill="#a8a8aa"/>
<path d="M183.02,118.91h7.06v7.04h-7.06z" fill="#afafb2"/>
<path d="M189.38,118.91h7.06v7.04h-7.06z" fill="#b6b6b9"/>
<path d="M195.74,118.91h7.06v7.04h-7.06z" fill="#b1b3bb"/>
<path d="M202.1,118.91h7.06v7.04h-7.06z" fill="#abb1be"/>
<path d="M208.46,118.91h7.06v7.04h-7.06z" fill="#a7aebf"/>
<path d="M214.82,118.91h7.06v7.04h-7.06z" fill="#a3acc1"/>
<path d="M221.18,118.91h7.06v7.04h-7.06z" fill="#a1abc2"/>
<path d="M227.54,118.91h7.06v7.04h-7.06z" fill="#a0aac3"/>
<path d="M233.9,118.91h7.06v7.04h-7.06z" fill="#a0aac3"/>
<path d="M240.26,118.91h7.06v7.04h-7.06z" fill="#a1abc2"/>
<path d="M246.62,118.91h7.06v7.04h-7.06z" fill="#a3acc1"/>
<path d="M252.98,118.91h7.06v7.04h-7.06z" fill="#a7aebf"/>
<path d="M259.34,118.91h7.06v7.04h-7.06z" fill="#abb1be"/>
<path d="M265.7,118.91h7.06v7.04h-7.06z" fill="#b1b3bb"/>
<path d="M272.06,118.91h7.06v7.04h-7.06z" fill="#b6b6b9"/>
<path d="M278.42,118.91h7.06v7.04h-7.06z" fill="#afafb2"/>
<path d="M284.78,118.91h7.06v7.04h-7.06z" fill="#a8a8aa"/>
<path d="M291.14,118.91h9.36v7.04h-9.36z" fill="#a1a1a3"/>
<path d="M167.3,125.26h10.06v9.34h-10.06z" fill="#9e9ea0"/>
<path d="M176.66,125.26h7.06v9.34h-7.06z" fill="#a4a4a7"/>
<path d="M183.02,125.26h7.06v9.34h-7.06z" fill="#aaaaad"/>
<path d="M189.38,125.26h7.06v9.34h-7.06z" fill="#b0b0b3"/>
<path d="M195.74,125.26h7.06v9.34h-7.06z" fill="#b6b6b9"/>
<path d="M202.1,125.26h7.06v9.34h-7.06z" fill="#b2b4bb"/>
<path d="M208.46,125.26h7.06v9.34h-7.06z" fill="#aeb2bc"/>
<path d="M214.82,125.26h7.06v9.34h-7.06z" fill="#abb0be"/>
<path d="M221.18,125.26h7.06v9.34h-7.06z" fill="#a9afbf"/>
<path d="M227.54,125.26h7.06v9.34h-7.06z" fill="#a8afbf"/>
<path d="M233.9,125.26h7.06v9.34h-7.06z" fill="#a8afbf"/>
<path d="M240.26,125.26h7.06v9.34h-7.06z" fill="#a9afbf"/>
<path d="M246.62,125.26h7.06v9.34h-7.06z" fill="#abb0be"/>
<path d="M252.98,125.26h7.06v9.34h-7.06z" fill="#aeb2bc"/>
<path d="M259.34,125.26h7.06v9.34h-7.06z" fill="#b2b4bb"/>
<path d="M265.7,125.26h7.06v9.34h-7.06z" fill="#b6b6b9"/>
<path d="M272.06,125.26h7.06v9.34h-7.06z" fill="#b0b0b3"/>
<path d="M278.42,125.26h7.06v9.34h-7.06z" fill="#aaaaad"/>
<path d="M284.78,125.26h7.06v9.34h-7.06z" fill="#a4a4a7"/>
<path d="M291.14,125.26h9.36v9.34h-9.36z" fill="#9e9ea0"/>
</g>
</g>
<path d="M177.10,42.80V131.60M183.90,42.80V131.60M190.70,42.80V131.60M197.50,42.80V131.60M204.30,42.80V131.60M211.10,42.80V131.60M217.90,42.80V131.60M224.70,42.80V131.60M231.50,42.80V131.60M238.30,42.80V131.60M245.10,42.80V131.60M251.90,42.80V131.60M258.70,42.80V131.60M265.50,42.80V131.60M272.30,42.80V131.60M279.10,42.80V131.60M285.90,42.80V131.60M292.70,42.80V131.60M170.30,49.63H297.50M170.30,56.46H297.50M170.30,63.29H297.50M170.30,70.12H297.50M170.30,76.95H297.50M170.30,83.78H297.50M170.30,90.62H297.50M170.30,97.45H297.50M170.30,104.28H297.50M170.30,111.11H297.50M170.30,117.94H297.50M170.30,124.77H297.50" stroke="#000" stroke-opacity="0.2" stroke-width="0.7" fill="none"/>
<rect x="170.30" y="42.80" width="127.20" height="88.80" fill="none" stroke="#000" stroke-opacity="0.3" stroke-width="0.6"/>
<rect x="206.70" y="38.10" width="53.20" height="3.7" fill="url(#wing)"/>
<g fill="none" stroke="#0c0c14" stroke-width="1.05" stroke-linejoin="round" stroke-linecap="round">
<path d="M271.6,42.9L275.6,46.7L277.6,49L279.5,51.3L281.2,53.8L282.8,56.3L285.6,61.6L287.7,67.2L288.6,70.1L289.5,73.6L290.5,79.5L290.7,82.4L290.9,86"/>
<path d="M290.5,93.8L289.5,99.7L288.1,104.9L286.3,110L284,114.9L281.2,119.5L278,123.9L274.3,127.9L270.2,131.6"/>
<path d="M197.6,131.6L193.5,127.9L189.8,123.9L186.6,119.5L183.8,114.9L181.5,110L179.7,104.9L178.3,99.7L177.3,93.8"/>
<path d="M176.9,86L177.1,82.4L177.3,79.5L178.3,73.6L179.2,70.1L180.1,67.2L182.2,61.6L185,56.3L186.6,53.8L188.3,51.3L190.2,49L192.2,46.7L196.2,42.9"/>
<path d="M265.6,42.8L266.5,46L267,49.2L267.2,52.5L267,55.8L266.5,59.1L265.7,62.3L264.4,66L262.9,69L261.2,71.8L259.3,74.5L257.1,76.9L254.6,79.1L252,81.1L249.2,82.8L246.2,84.2L243.1,85.3"/>
<path d="M230.3,86.6L227.1,86L223.4,85L219.8,83.4L216.4,81.4L213.2,79.1L210.3,76.4L207.7,73.4L205.9,70.7L204.2,67.8L202.7,64.2L201.5,60.4L200.9,57.2L200.6,53.2L200.7,49.9L201.3,46L202.2,42.8"/>
<path d="M261.3,42.8L260.5,46.4L259.4,49.2L257.7,52.4L255.5,55.3L253,57.9L250.1,60.2L247,62.1L243.1,63.8"/>
<path d="M230.6,65.2L228.8,65L226.4,64.4L222.5,62.9L218.7,60.9L216.7,59.5L214.8,57.9L213.1,56.2L211.5,54.3L210.1,52.4L209.2,50.8L208.1,48.6L207.5,46.9L206.9,45.2L206.5,42.8"/>
<path d="M257.5,42.8L254.7,45.5L251.5,47.8L248.1,49.7L244.5,51.3"/>
<path d="M227,52.4L222.7,51.1L220.7,50.2L218.2,49L215.8,47.5L214,46.2L211.9,44.4L210.3,42.8"/>
</g>
<g font-size="9.6" fill="#0c0c14" stroke="#0c0c14" stroke-width="0.25" text-anchor="middle">
<text x="235.9" y="55.7" textLength="15.2" lengthAdjust="spacingAndGlyphs">120</text>
<text x="236.9" y="67.8" textLength="10.1" lengthAdjust="spacingAndGlyphs">90</text>
<text x="236.9" y="90.3" textLength="10.1" lengthAdjust="spacingAndGlyphs">60</text>
<text x="177.5" y="93.4" textLength="10.1" lengthAdjust="spacingAndGlyphs">30</text>
<text x="289.5" y="93.4" textLength="10.1" lengthAdjust="spacingAndGlyphs">30</text>
</g>
<rect x="309.20" y="39.90" width="133.60" height="56.20" fill="#fff" stroke="#111" stroke-width="1.3"/>
<rect x="441.2" y="53.60" width="3" height="29.20" fill="#d2d2d2"/>
<clipPath id="c3"><rect x="313.90" y="53.90" width="124.50" height="28.50"/></clipPath>
<g clip-path="url(#c3)">
<g filter="url(#bl)">
<path d="M310.9,50.9h12.59v13.2h-12.59z" fill="#707071"/>
<path d="M322.79,50.9h9.59v13.2h-9.59z" fill="#747475"/>
<path d="M331.69,50.9h9.59v13.2h-9.59z" fill="#78787a"/>
<path d="M340.58,50.9h9.59v13.2h-9.59z" fill="#7e7e7f"/>
<path d="M349.47,50.9h9.59v13.2h-9.59z" fill="#848486"/>
<path d="M358.36,50.9h9.59v13.2h-9.59z" fill="#8b8b8d"/>
<path d="M367.26,50.9h9.59v13.2h-9.59z" fill="#959597"/>
<path d="M376.15,50.9h9.59v13.2h-9.59z" fill="#a1a1a3"/>
<path d="M385.04,50.9h9.59v13.2h-9.59z" fill="#b0b0b3"/>
<path d="M393.94,50.9h9.59v13.2h-9.59z" fill="#aab0be"/>
<path d="M402.83,50.9h9.59v13.2h-9.59z" fill="#92a3c9"/>
<path d="M411.72,50.9h9.59v13.2h-9.59z" fill="#6e91d8"/>
<path d="M420.61,50.9h9.59v13.2h-9.59z" fill="#4485d8"/>
<path d="M429.51,50.9h11.89v13.2h-11.89z" fill="#1ca08d"/>
<path d="M310.9,63.4h12.59v10.2h-12.59z" fill="#707071"/>
<path d="M322.79,63.4h9.59v10.2h-9.59z" fill="#747475"/>
<path d="M331.69,63.4h9.59v10.2h-9.59z" fill="#79797a"/>
<path d="M340.58,63.4h9.59v10.2h-9.59z" fill="#7e7e80"/>
<path d="M349.47,63.4h9.59v10.2h-9.59z" fill="#858586"/>
<path d="M358.36,63.4h9.59v10.2h-9.59z" fill="#8d8d8f"/>
<path d="M367.26,63.4h9.59v10.2h-9.59z" fill="#969699"/>
<path d="M376.15,63.4h9.59v10.2h-9.59z" fill="#a3a3a5"/>
<path d="M385.04,63.4h9.59v10.2h-9.59z" fill="#b3b3b6"/>
<path d="M393.94,63.4h9.59v10.2h-9.59z" fill="#a5adc0"/>
<path d="M402.83,63.4h9.59v10.2h-9.59z" fill="#8a9fcc"/>
<path d="M411.72,63.4h9.59v10.2h-9.59z" fill="#5f89df"/>
<path d="M420.61,63.4h9.59v10.2h-9.59z" fill="#368cc5"/>
<path d="M429.51,63.4h11.89v10.2h-11.89z" fill="#0bc52a"/>
<path d="M310.9,72.9h12.59v12.5h-12.59z" fill="#707071"/>
<path d="M322.79,72.9h9.59v12.5h-9.59z" fill="#747475"/>
<path d="M331.69,72.9h9.59v12.5h-9.59z" fill="#78787a"/>
<path d="M340.58,72.9h9.59v12.5h-9.59z" fill="#7e7e7f"/>
<path d="M349.47,72.9h9.59v12.5h-9.59z" fill="#848486"/>
<path d="M358.36,72.9h9.59v12.5h-9.59z" fill="#8b8b8d"/>
<path d="M367.26,72.9h9.59v12.5h-9.59z" fill="#959597"/>
<path d="M376.15,72.9h9.59v12.5h-9.59z" fill="#a1a1a3"/>
<path d="M385.04,72.9h9.59v12.5h-9.59z" fill="#b0b0b3"/>
<path d="M393.94,72.9h9.59v12.5h-9.59z" fill="#aab0be"/>
<path d="M402.83,72.9h9.59v12.5h-9.59z" fill="#91a3c9"/>
<path d="M411.72,72.9h9.59v12.5h-9.59z" fill="#6e91d8"/>
<path d="M420.61,72.9h9.59v12.5h-9.59z" fill="#4485d8"/>
<path d="M429.51,72.9h11.89v12.5h-11.89z" fill="#1ba18b"/>
</g>
</g>
<path d="M322.79,53.90V82.40M331.69,53.90V82.40M340.58,53.90V82.40M349.47,53.90V82.40M358.36,53.90V82.40M367.26,53.90V82.40M376.15,53.90V82.40M385.04,53.90V82.40M393.94,53.90V82.40M402.83,53.90V82.40M411.72,53.90V82.40M420.61,53.90V82.40M429.51,53.90V82.40M313.90,63.40H438.40M313.90,72.90H438.40" stroke="#000" stroke-opacity="0.13" stroke-width="0.7" fill="none"/>
<rect x="313.90" y="53.90" width="124.50" height="28.50" fill="none" stroke="#000" stroke-opacity="0.3" stroke-width="0.6"/>
<g fill="none" stroke="#0c0c14" stroke-width="1.05" stroke-linejoin="round" stroke-linecap="round">
<path d="M393.3,82.4L392.4,77.3L391.8,72.2"/>
<path d="M391.9,63.4L392.4,59L393.4,53.9"/>
<path d="M424.8,82.4L423.5,79.5L422.8,77.3L422.1,74.4L421.7,72.2"/>
<path d="M421.9,63.4L422.3,61.2L423.1,58.3L424.8,53.9"/>
<path d="M436.5,82.4L435,79.5L434,77.3L433.3,75.1L432.7,72.2"/>
<path d="M432.8,63.4L433.4,61.2L434.1,59L435.4,56.1L436.7,53.9"/>
</g>
<g font-size="9.6" fill="#0c0c14" stroke="#0c0c14" stroke-width="0.25" text-anchor="middle">
<text x="391.7" y="71.3" textLength="10.1" lengthAdjust="spacingAndGlyphs">30</text>
<text x="421.5" y="71.3" textLength="10.1" lengthAdjust="spacingAndGlyphs">60</text>
<text x="432.3" y="71.3" textLength="10.1" lengthAdjust="spacingAndGlyphs">90</text>
</g>
<path d="M450.9,55.7V81.2" stroke="#8a8a8a" stroke-width="0.8" stroke-dasharray="3 2.2" fill="none"/>
<path d="M448.3,54.2h5.6M448.3,82.2h5.6" stroke="#333" stroke-width="1" fill="none"/>
<text x="467" y="65.8" font-size="8.6" text-anchor="middle" fill="#111" textLength="28" lengthAdjust="spacingAndGlyphs">window</text>
<text x="467.2" y="76.4" font-size="8.6" text-anchor="middle" fill="#111" textLength="22.4" lengthAdjust="spacingAndGlyphs">height</text>
<text x="310.5" y="109.2" font-size="8.1" font-weight="bold" fill="#000" stroke="#000" stroke-width="0.2" textLength="41.1" lengthAdjust="spacingAndGlyphs">WWR=20%</text>
<path d="M310.5,110.7h41.1" stroke="#111" stroke-width="0.9"/>
<text x="310.5" y="120.0" font-size="8.1" fill="#111" textLength="38.3" lengthAdjust="spacingAndGlyphs">WFR=8.6%</text>
<text x="310.5" y="130.4" font-size="8.1" fill="#111" textLength="44" lengthAdjust="spacingAndGlyphs">WWLR=40%</text>
<text x="310.5" y="140.8" font-size="8.1" fill="#111" textLength="45.9" lengthAdjust="spacingAndGlyphs">WWHR=50%</text>
<path d="M378.5,122.7L409.7,104.6L431.2,117.3L400.3,135.6ZM378.5,122.7L378.5,132.7L400.3,145.2L431.2,127.0M400.3,135.6L400.3,145.2" fill="#fff" stroke="#505050" stroke-width="0.65" stroke-linejoin="round"/>
<path d="M431.2,117.3L431.2,127.0" fill="none" stroke="#505050" stroke-width="0.65"/>
<path d="M409.7,131.3L421.8,125.9L421.8,131.9L409.7,137.3Z" fill="#bebebe" stroke="#909090" stroke-width="0.5"/>
</g>
<g transform="translate(0,115.30)">
<text transform="translate(17.4,87.3) rotate(-90)" font-size="8.9" font-weight="bold" fill="#ee1c25" stroke="#ee1c25" stroke-width="0.25" text-anchor="middle" textLength="34.5" lengthAdjust="spacingAndGlyphs">Case a-4</text>
<text x="91.0" y="29.1" font-size="8.3" text-anchor="middle" fill="#111" textLength="53.2" lengthAdjust="spacingAndGlyphs">window length</text>
<path d="M39.4,33.0H143.4" stroke="#666" stroke-width="0.9" stroke-dasharray="3 2.2" fill="none"/>
<path d="M37.9,30.6v5.2M144.4,30.6v5.2" stroke="#333" stroke-width="1" fill="none"/>
<text x="233.6" y="29.1" font-size="8.3" text-anchor="middle" fill="#111" textLength="53.2" lengthAdjust="spacingAndGlyphs">window length</text>
<path d="M181.8,33.0H285.0" stroke="#666" stroke-width="0.9" stroke-dasharray="3 2.2" fill="none"/>
<path d="M180.3,30.6v5.2M286.0,30.6v5.2" stroke="#333" stroke-width="1" fill="none"/>
<rect x="24.60" y="39.80" width="133.00" height="94.80" fill="#fff" stroke="#111" stroke-width="1.3"/>
<clipPath id="c4"><rect x="27.20" y="42.80" width="127.30" height="88.80"/></clipPath>
<g clip-path="url(#c4)">
<g filter="url(#bl)">
<path d="M24.2,39.8h10.07v10.04h-10.07z" fill="#4883de"/>
<path d="M33.56,39.8h7.07v10.04h-7.07z" fill="#1ba08d"/>
<path d="M39.93,39.8h7.07v10.04h-7.07z" fill="#08cc16"/>
<path d="M46.3,39.8h7.06v10.04h-7.06z" fill="#06d10b"/>
<path d="M52.66,39.8h7.07v10.04h-7.07z" fill="#05d10b"/>
<path d="M59.03,39.8h7.06v10.04h-7.06z" fill="#05d10b"/>
<path d="M65.39,39.8h7.06v10.04h-7.06z" fill="#05d10b"/>
<path d="M71.75,39.8h7.07v10.04h-7.07z" fill="#05d20b"/>
<path d="M78.12,39.8h7.06v10.04h-7.06z" fill="#05d20b"/>
<path d="M84.48,39.8h7.07v10.04h-7.07z" fill="#05d20b"/>
<path d="M90.85,39.8h7.06v10.04h-7.06z" fill="#05d20b"/>
<path d="M97.22,39.8h7.06v10.04h-7.06z" fill="#05d20b"/>
<path d="M103.58,39.8h7.07v10.04h-7.07z" fill="#05d20b"/>
<path d="M109.95,39.8h7.06v10.04h-7.06z" fill="#05d10b"/>
<path d="M116.31,39.8h7.07v10.04h-7.07z" fill="#05d10b"/>
<path d="M122.68,39.8h7.06v10.04h-7.06z" fill="#05d10b"/>
<path d="M129.04,39.8h7.06v10.04h-7.06z" fill="#06d10b"/>
<path d="M135.41,39.8h7.06v10.04h-7.06z" fill="#08cc16"/>
<path d="M141.77,39.8h7.06v10.04h-7.06z" fill="#1ba08d"/>
<path d="M148.13,39.8h9.37v10.04h-9.37z" fill="#4883de"/>
<path d="M24.2,49.14h10.07v7.04h-10.07z" fill="#4883de"/>
<path d="M33.56,49.14h7.07v7.04h-7.07z" fill="#348cc3"/>
<path d="M39.93,49.14h7.07v7.04h-7.07z" fill="#2395ac"/>
<path d="M46.3,49.14h7.06v7.04h-7.06z" fill="#1d9d96"/>
<path d="M52.66,49.14h7.07v7.04h-7.07z" fill="#1ba289"/>
<path d="M59.03,49.14h7.06v7.04h-7.06z" fill="#1aa483"/>
<path d="M65.39,49.14h7.06v7.04h-7.06z" fill="#19a57f"/>
<path d="M71.75,49.14h7.07v7.04h-7.07z" fill="#19a67d"/>
<path d="M78.12,49.14h7.06v7.04h-7.06z" fill="#19a67c"/>
<path d="M84.48,49.14h7.07v7.04h-7.07z" fill="#19a77c"/>
<path d="M90.85,49.14h7.06v7.04h-7.06z" fill="#19a77c"/>
<path d="M97.22,49.14h7.06v7.04h-7.06z" fill="#19a67c"/>
<path d="M103.58,49.14h7.07v7.04h-7.07z" fill="#19a67d"/>
<path d="M109.95,49.14h7.06v7.04h-7.06z" fill="#19a57f"/>
<path d="M116.31,49.14h7.07v7.04h-7.07z" fill="#1aa483"/>
<path d="M122.68,49.14h7.06v7.04h-7.06z" fill="#1ba289"/>
<path d="M129.04,49.14h7.06v7.04h-7.06z" fill="#1d9d96"/>
<path d="M135.41,49.14h7.06v7.04h-7.06z" fill="#2395ac"/>
<path d="M141.77,49.14h7.06v7.04h-7.06z" fill="#348cc3"/>
<path d="M148.13,49.14h9.37v7.04h-9.37z" fill="#4883de"/>
<path d="M24.2,55.49h10.07v7.04h-10.07z" fill="#5684e2"/>
<path d="M33.56,55.49h7.07v7.04h-7.07z" fill="#4684db"/>
<path d="M39.93,55.49h7.07v7.04h-7.07z" fill="#3d88cf"/>
<path d="M46.3,55.49h7.06v7.04h-7.06z" fill="#378bc7"/>
<path d="M52.66,55.49h7.07v7.04h-7.07z" fill="#338dc1"/>
<path d="M59.03,55.49h7.06v7.04h-7.06z" fill="#308ebe"/>
<path d="M65.39,55.49h7.06v7.04h-7.06z" fill="#2f8fbc"/>
<path d="M71.75,55.49h7.07v7.04h-7.07z" fill="#2e8fbb"/>
<path d="M78.12,55.49h7.06v7.04h-7.06z" fill="#2e8fba"/>
<path d="M84.48,55.49h7.07v7.04h-7.07z" fill="#2d90ba"/>
<path d="M90.85,55.49h7.06v7.04h-7.06z" fill="#2d90ba"/>
<path d="M97.22,55.49h7.06v7.04h-7.06z" fill="#2e8fba"/>
<path d="M103.58,55.49h7.07v7.04h-7.07z" fill="#2e8fbb"/>
<path d="M109.95,55.49h7.06v7.04h-7.06z" fill="#2f8fbc"/>
<path d="M116.31,55.49h7.07v7.04h-7.07z" fill="#308ebe"/>
<path d="M122.68,55.49h7.06v7.04h-7.06z" fill="#338dc1"/>
<path d="M129.04,55.49h7.06v7.04h-7.06z" fill="#378bc7"/>
<path d="M135.41,55.49h7.06v7.04h-7.06z" fill="#3d88cf"/>
<path d="M141.77,55.49h7.06v7.04h-7.06z" fill="#4684db"/>
<path d="M148.13,55.49h9.37v7.04h-9.37z" fill="#5684e2"/>
<path d="M24.2,61.83h10.07v7.04h-10.07z" fill="#7092d7"/>
<path d="M33.56,61.83h7.07v7.04h-7.07z" fill="#5b87e0"/>
<path d="M39.93,61.83h7.07v7.04h-7.07z" fill="#4c81e4"/>
<path d="M46.3,61.83h7.06v7.04h-7.06z" fill="#4883de"/>
<path d="M52.66,61.83h7.07v7.04h-7.07z" fill="#4584d9"/>
<path d="M59.03,61.83h7.06v7.04h-7.06z" fill="#4385d7"/>
<path d="M65.39,61.83h7.06v7.04h-7.06z" fill="#4186d5"/>
<path d="M71.75,61.83h7.07v7.04h-7.07z" fill="#4087d4"/>
<path d="M78.12,61.83h7.06v7.04h-7.06z" fill="#4087d3"/>
<path d="M84.48,61.83h7.07v7.04h-7.07z" fill="#4087d2"/>
<path d="M90.85,61.83h7.06v7.04h-7.06z" fill="#4087d2"/>
<path d="M97.22,61.83h7.06v7.04h-7.06z" fill="#4087d3"/>
<path d="M103.58,61.83h7.07v7.04h-7.07z" fill="#4087d4"/>
<path d="M109.95,61.83h7.06v7.04h-7.06z" fill="#4186d5"/>
<path d="M116.31,61.83h7.07v7.04h-7.07z" fill="#4385d7"/>
<path d="M122.68,61.83h7.06v7.04h-7.06z" fill="#4584d9"/>
<path d="M129.04,61.83h7.06v7.04h-7.06z" fill="#4883de"/>
<path d="M135.41,61.83h7.06v7.04h-7.06z" fill="#4c81e4"/>
<path d="M141.77,61.83h7.06v7.04h-7.06z" fill="#5b87e0"/>
<path d="M148.13,61.83h9.37v7.04h-9.37z" fill="#7092d7"/>
<path d="M24.2,68.17h10.07v7.04h-10.07z" fill="#849cce"/>
<path d="M33.56,68.17h7.07v7.04h-7.07z" fill="#7795d4"/>
<path d="M39.93,68.17h7.07v7.04h-7.07z" fill="#6a8eda"/>
<path d="M46.3,68.17h7.06v7.04h-7.06z" fill="#5f89df"/>
<path d="M52.66,68.17h7.07v7.04h-7.07z" fill="#5684e2"/>
<path d="M59.03,68.17h7.06v7.04h-7.06z" fill="#5081e5"/>
<path d="M65.39,68.17h7.06v7.04h-7.06z" fill="#4d80e5"/>
<path d="M71.75,68.17h7.07v7.04h-7.07z" fill="#4d81e4"/>
<path d="M78.12,68.17h7.06v7.04h-7.06z" fill="#4c81e3"/>
<path d="M84.48,68.17h7.07v7.04h-7.07z" fill="#4c81e3"/>
<path d="M90.85,68.17h7.06v7.04h-7.06z" fill="#4c81e3"/>
<path d="M97.22,68.17h7.06v7.04h-7.06z" fill="#4c81e3"/>
<path d="M103.58,68.17h7.07v7.04h-7.07z" fill="#4d81e4"/>
<path d="M109.95,68.17h7.06v7.04h-7.06z" fill="#4d80e5"/>
<path d="M116.31,68.17h7.07v7.04h-7.07z" fill="#5081e5"/>
<path d="M122.68,68.17h7.06v7.04h-7.06z" fill="#5684e2"/>
<path d="M129.04,68.17h7.06v7.04h-7.06z" fill="#5f89df"/>
<path d="M135.41,68.17h7.06v7.04h-7.06z" fill="#6a8eda"/>
<path d="M141.77,68.17h7.06v7.04h-7.06z" fill="#7795d4"/>
<path d="M148.13,68.17h9.37v7.04h-9.37z" fill="#849cce"/>
<path d="M24.2,74.51h10.07v7.04h-10.07z" fill="#94a4c8"/>
<path d="M33.56,74.51h7.07v7.04h-7.07z" fill="#8a9fcc"/>
<path d="M39.93,74.51h7.07v7.04h-7.07z" fill="#819bd0"/>
<path d="M46.3,74.51h7.06v7.04h-7.06z" fill="#7997d3"/>
<path d="M52.66,74.51h7.07v7.04h-7.07z" fill="#7393d6"/>
<path d="M59.03,74.51h7.06v7.04h-7.06z" fill="#6e91d8"/>
<path d="M65.39,74.51h7.06v7.04h-7.06z" fill="#6a8fda"/>
<path d="M71.75,74.51h7.07v7.04h-7.07z" fill="#678ddb"/>
<path d="M78.12,74.51h7.06v7.04h-7.06z" fill="#668cdc"/>
<path d="M84.48,74.51h7.07v7.04h-7.07z" fill="#658cdc"/>
<path d="M90.85,74.51h7.06v7.04h-7.06z" fill="#658cdc"/>
<path d="M97.22,74.51h7.06v7.04h-7.06z" fill="#668cdc"/>
<path d="M103.58,74.51h7.07v7.04h-7.07z" fill="#678ddb"/>
<path d="M109.95,74.51h7.06v7.04h-7.06z" fill="#6a8fda"/>
<path d="M116.31,74.51h7.07v7.04h-7.07z" fill="#6e91d8"/>
<path d="M122.68,74.51h7.06v7.04h-7.06z" fill="#7393d6"/>
<path d="M129.04,74.51h7.06v7.04h-7.06z" fill="#7997d3"/>
<path d="M135.41,74.51h7.06v7.04h-7.06z" fill="#819bd0"/>
<path d="M141.77,74.51h7.06v7.04h-7.06z" fill="#8a9fcc"/>
<path d="M148.13,74.51h9.37v7.04h-9.37z" fill="#94a4c8"/>
<path d="M24.2,80.86h10.07v7.04h-10.07z" fill="#a0aac3"/>
<path d="M33.56,80.86h7.07v7.04h-7.07z" fill="#99a7c6"/>
<path d="M39.93,80.86h7.07v7.04h-7.07z" fill="#92a3c8"/>
<path d="M46.3,80.86h7.06v7.04h-7.06z" fill="#8ca0cb"/>
<path d="M52.66,80.86h7.07v7.04h-7.07z" fill="#879ecd"/>
<path d="M59.03,80.86h7.06v7.04h-7.06z" fill="#839ccf"/>
<path d="M65.39,80.86h7.06v7.04h-7.06z" fill="#809ad0"/>
<path d="M71.75,80.86h7.07v7.04h-7.07z" fill="#7e99d1"/>
<path d="M78.12,80.86h7.06v7.04h-7.06z" fill="#7d98d2"/>
<path d="M84.48,80.86h7.07v7.04h-7.07z" fill="#7c98d2"/>
<path d="M90.85,80.86h7.06v7.04h-7.06z" fill="#7c98d2"/>
<path d="M97.22,80.86h7.06v7.04h-7.06z" fill="#7d98d2"/>
<path d="M103.58,80.86h7.07v7.04h-7.07z" fill="#7e99d1"/>
<path d="M109.95,80.86h7.06v7.04h-7.06z" fill="#809ad0"/>
<path d="M116.31,80.86h7.07v7.04h-7.07z" fill="#839ccf"/>
<path d="M122.68,80.86h7.06v7.04h-7.06z" fill="#879ecd"/>
<path d="M129.04,80.86h7.06v7.04h-7.06z" fill="#8ca0cb"/>
<path d="M135.41,80.86h7.06v7.04h-7.06z" fill="#92a3c8"/>
<path d="M141.77,80.86h7.06v7.04h-7.06z" fill="#99a7c6"/>
<path d="M148.13,80.86h9.37v7.04h-9.37z" fill="#a0aac3"/>
<path d="M24.2,87.2h10.07v7.04h-10.07z" fill="#a9afbf"/>
<path d="M33.56,87.2h7.07v7.04h-7.07z" fill="#a4adc1"/>
<path d="M39.93,87.2h7.07v7.04h-7.07z" fill="#9faac3"/>
<path d="M46.3,87.2h7.06v7.04h-7.06z" fill="#9ba8c5"/>
<path d="M52.66,87.2h7.07v7.04h-7.07z" fill="#97a6c7"/>
<path d="M59.03,87.2h7.06v7.04h-7.06z" fill="#93a4c8"/>
<path d="M65.39,87.2h7.06v7.04h-7.06z" fill="#91a3c9"/>
<path d="M71.75,87.2h7.07v7.04h-7.07z" fill="#8fa2ca"/>
<path d="M78.12,87.2h7.06v7.04h-7.06z" fill="#8ea1ca"/>
<path d="M84.48,87.2h7.07v7.04h-7.07z" fill="#8da1cb"/>
<path d="M90.85,87.2h7.06v7.04h-7.06z" fill="#8da1cb"/>
<path d="M97.22,87.2h7.06v7.04h-7.06z" fill="#8ea1ca"/>
<path d="M103.58,87.2h7.07v7.04h-7.07z" fill="#8fa2ca"/>
<path d="M109.95,87.2h7.06v7.04h-7.06z" fill="#91a3c9"/>
<path d="M116.31,87.2h7.07v7.04h-7.07z" fill="#93a4c8"/>
<path d="M122.68,87.2h7.06v7.04h-7.06z" fill="#97a6c7"/>
<path d="M129.04,87.2h7.06v7.04h-7.06z" fill="#9ba8c5"/>
<path d="M135.41,87.2h7.06v7.04h-7.06z" fill="#9faac3"/>
<path d="M141.77,87.2h7.06v7.04h-7.06z" fill="#a4adc1"/>
<path d="M148.13,87.2h9.37v7.04h-9.37z" fill="#a9afbf"/>
<path d="M24.2,93.54h10.07v7.04h-10.07z" fill="#b1b3bb"/>
<path d="M33.56,93.54h7.07v7.04h-7.07z" fill="#adb1bd"/>
<path d="M39.93,93.54h7.07v7.04h-7.07z" fill="#a9afbf"/>
<path d="M46.3,93.54h7.06v7.04h-7.06z" fill="#a5adc0"/>
<path d="M52.66,93.54h7.07v7.04h-7.07z" fill="#a2acc1"/>
<path d="M59.03,93.54h7.06v7.04h-7.06z" fill="#a0aac3"/>
<path d="M65.39,93.54h7.06v7.04h-7.06z" fill="#9ea9c3"/>
<path d="M71.75,93.54h7.07v7.04h-7.07z" fill="#9ca9c4"/>
<path d="M78.12,93.54h7.06v7.04h-7.06z" fill="#9ba8c5"/>
<path d="M84.48,93.54h7.07v7.04h-7.07z" fill="#9ba8c5"/>
<path d="M90.85,93.54h7.06v7.04h-7.06z" fill="#9ba8c5"/>
<path d="M97.22,93.54h7.06v7.04h-7.06z" fill="#9ba8c5"/>
<path d="M103.58,93.54h7.07v7.04h-7.07z" fill="#9ca9c4"/>
<path d="M109.95,93.54h7.06v7.04h-7.06z" fill="#9ea9c3"/>
<path d="M116.31,93.54h7.07v7.04h-7.07z" fill="#a0aac3"/>
<path d="M122.68,93.54h7.06v7.04h-7.06z" fill="#a2acc1"/>
<path d="M129.04,93.54h7.06v7.04h-7.06z" fill="#a5adc0"/>
<path d="M135.41,93.54h7.06v7.04h-7.06z" fill="#a9afbf"/>
<path d="M141.77,93.54h7.06v7.04h-7.06z" fill="#adb1bd"/>
<path d="M148.13,93.54h9.37v7.04h-9.37z" fill="#b1b3bb"/>
<path d="M24.2,99.89h10.07v7.04h-10.07z" fill="#b4b4b7"/>
<path d="M33.56,99.89h7.07v7.04h-7.07z" fill="#b4b5ba"/>
<path d="M39.93,99.89h7.07v7.04h-7.07z" fill="#b1b3bb"/>
<path d="M46.3,99.89h7.06v7.04h-7.06z" fill="#aeb2bc"/>
<path d="M52.66,99.89h7.07v7.04h-7.07z" fill="#acb1be"/>
<path d="M59.03,99.89h7.06v7.04h-7.06z" fill="#aab0be"/>
<path d="M65.39,99.89h7.06v7.04h-7.06z" fill="#a8afbf"/>
<path d="M71.75,99.89h7.07v7.04h-7.07z" fill="#a7aec0"/>
<path d="M78.12,99.89h7.06v7.04h-7.06z" fill="#a6aec0"/>
<path d="M84.48,99.89h7.07v7.04h-7.07z" fill="#a5adc0"/>
<path d="M90.85,99.89h7.06v7.04h-7.06z" fill="#a5adc0"/>
<path d="M97.22,99.89h7.06v7.04h-7.06z" fill="#a6aec0"/>
<path d="M103.58,99.89h7.07v7.04h-7.07z" fill="#a7aec0"/>
<path d="M109.95,99.89h7.06v7.04h-7.06z" fill="#a8afbf"/>
<path d="M116.31,99.89h7.07v7.04h-7.07z" fill="#aab0be"/>
<path d="M122.68,99.89h7.06v7.04h-7.06z" fill="#acb1be"/>
<path d="M129.04,99.89h7.06v7.04h-7.06z" fill="#aeb2bc"/>
<path d="M135.41,99.89h7.06v7.04h-7.06z" fill="#b1b3bb"/>
<path d="M141.77,99.89h7.06v7.04h-7.06z" fill="#b4b5ba"/>
<path d="M148.13,99.89h9.37v7.04h-9.37z" fill="#b4b4b7"/>
<path d="M24.2,106.23h10.07v7.04h-10.07z" fill="#a6a6a8"/>
<path d="M33.56,106.23h7.07v7.04h-7.07z" fill="#adadaf"/>
<path d="M39.93,106.23h7.07v7.04h-7.07z" fill="#b3b3b6"/>
<path d="M46.3,106.23h7.06v7.04h-7.06z" fill="#b5b5b9"/>
<path d="M52.66,106.23h7.07v7.04h-7.07z" fill="#b3b4ba"/>
<path d="M59.03,106.23h7.06v7.04h-7.06z" fill="#b1b4bb"/>
<path d="M65.39,106.23h7.06v7.04h-7.06z" fill="#b0b3bc"/>
<path d="M71.75,106.23h7.07v7.04h-7.07z" fill="#afb2bc"/>
<path d="M78.12,106.23h7.06v7.04h-7.06z" fill="#aeb2bc"/>
<path d="M84.48,106.23h7.07v7.04h-7.07z" fill="#aeb2bd"/>
<path d="M90.85,106.23h7.06v7.04h-7.06z" fill="#aeb2bd"/>
<path d="M97.22,106.23h7.06v7.04h-7.06z" fill="#aeb2bc"/>
<path d="M103.58,106.23h7.07v7.04h-7.07z" fill="#afb2bc"/>
<path d="M109.95,106.23h7.06v7.04h-7.06z" fill="#b0b3bc"/>
<path d="M116.31,106.23h7.07v7.04h-7.07z" fill="#b1b4bb"/>
<path d="M122.68,106.23h7.06v7.04h-7.06z" fill="#b3b4ba"/>
<path d="M129.04,106.23h7.06v7.04h-7.06z" fill="#b5b5b9"/>
<path d="M135.41,106.23h7.06v7.04h-7.06z" fill="#b3b3b6"/>
<path d="M141.77,106.23h7.06v7.04h-7.06z" fill="#adadaf"/>
<path d="M148.13,106.23h9.37v7.04h-9.37z" fill="#a6a6a8"/>
<path d="M24.2,112.57h10.07v7.04h-10.07z" fill="#9a9a9c"/>
<path d="M33.56,112.57h7.07v7.04h-7.07z" fill="#a0a0a2"/>
<path d="M39.93,112.57h7.07v7.04h-7.07z" fill="#a5a5a7"/>
<path d="M46.3,112.57h7.06v7.04h-7.06z" fill="#aaaaac"/>
<path d="M52.66,112.57h7.07v7.04h-7.07z" fill="#aeaeb1"/>
<path d="M59.03,112.57h7.06v7.04h-7.06z" fill="#b2b2b4"/>
<path d="M65.39,112.57h7.06v7.04h-7.06z" fill="#b5b5b8"/>
<path d="M71.75,112.57h7.07v7.04h-7.07z" fill="#b6b6b9"/>
<path d="M78.12,112.57h7.06v7.04h-7.06z" fill="#b5b6b9"/>
<path d="M84.48,112.57h7.07v7.04h-7.07z" fill="#b5b5ba"/>
<path d="M90.85,112.57h7.06v7.04h-7.06z" fill="#b5b5ba"/>
<path d="M97.22,112.57h7.06v7.04h-7.06z" fill="#b5b6b9"/>
<path d="M103.58,112.57h7.07v7.04h-7.07z" fill="#b6b6b9"/>
<path d="M109.95,112.57h7.06v7.04h-7.06z" fill="#b5b5b8"/>
<path d="M116.31,112.57h7.07v7.04h-7.07z" fill="#b2b2b4"/>
<path d="M122.68,112.57h7.06v7.04h-7.06z" fill="#aeaeb1"/>
<path d="M129.04,112.57h7.06v7.04h-7.06z" fill="#aaaaac"/>
<path d="M135.41,112.57h7.06v7.04h-7.06z" fill="#a5a5a7"/>
<path d="M141.77,112.57h7.06v7.04h-7.06z" fill="#a0a0a2"/>
<path d="M148.13,112.57h9.37v7.04h-9.37z" fill="#9a9a9c"/>
<path d="M24.2,118.91h10.07v7.04h-10.07z" fill="#909092"/>
<path d="M33.56,118.91h7.07v7.04h-7.07z" fill="#959597"/>
<path d="M39.93,118.91h7.07v7.04h-7.07z" fill="#99999b"/>
<path d="M46.3,118.91h7.06v7.04h-7.06z" fill="#9d9d9f"/>
<path d="M52.66,118.91h7.07v7.04h-7.07z" fill="#a0a0a3"/>
<path d="M59.03,118.91h7.06v7.04h-7.06z" fill="#a3a3a6"/>
<path d="M65.39,118.91h7.06v7.04h-7.06z" fill="#a6a6a8"/>
<path d="M71.75,118.91h7.07v7.04h-7.07z" fill="#a8a8aa"/>
<path d="M78.12,118.91h7.06v7.04h-7.06z" fill="#a9a9ac"/>
<path d="M84.48,118.91h7.07v7.04h-7.07z" fill="#aaaaac"/>
<path d="M90.85,118.91h7.06v7.04h-7.06z" fill="#aaaaac"/>
<path d="M97.22,118.91h7.06v7.04h-7.06z" fill="#a9a9ac"/>
<path d="M103.58,118.91h7.07v7.04h-7.07z" fill="#a8a8aa"/>
<path d="M109.95,118.91h7.06v7.04h-7.06z" fill="#a6a6a8"/>
<path d="M116.31,118.91h7.07v7.04h-7.07z" fill="#a3a3a6"/>
<path d="M122.68,118.91h7.06v7.04h-7.06z" fill="#a0a0a3"/>
<path d="M129.04,118.91h7.06v7.04h-7.06z" fill="#9d9d9f"/>
<path d="M135.41,118.91h7.06v7.04h-7.06z" fill="#99999b"/>
<path d="M141.77,118.91h7.06v7.04h-7.06z" fill="#959597"/>
<path d="M148.13,118.91h9.37v7.04h-9.37z" fill="#909092"/>
<path d="M24.2,125.26h10.07v9.34h-10.07z" fill="#88888a"/>
<path d="M33.56,125.26h7.07v9.34h-7.07z" fill="#8b8b8d"/>
<path d="M39.93,125.26h7.07v9.34h-7.07z" fill="#8f8f91"/>
<path d="M46.3,125.26h7.06v9.34h-7.06z" fill="#929294"/>
<path d="M52.66,125.26h7.07v9.34h-7.07z" fill="#959597"/>
<path d="M59.03,125.26h7.06v9.34h-7.06z" fill="#97979a"/>
<path d="M65.39,125.26h7.06v9.34h-7.06z" fill="#99999c"/>
<path d="M71.75,125.26h7.07v9.34h-7.07z" fill="#9b9b9d"/>
<path d="M78.12,125.26h7.06v9.34h-7.06z" fill="#9c9c9e"/>
<path d="M84.48,125.26h7.07v9.34h-7.07z" fill="#9d9d9f"/>
<path d="M90.85,125.26h7.06v9.34h-7.06z" fill="#9d9d9f"/>
<path d="M97.22,125.26h7.06v9.34h-7.06z" fill="#9c9c9e"/>
<path d="M103.58,125.26h7.07v9.34h-7.07z" fill="#9b9b9d"/>
<path d="M109.95,125.26h7.06v9.34h-7.06z" fill="#99999c"/>
<path d="M116.31,125.26h7.07v9.34h-7.07z" fill="#97979a"/>
<path d="M122.68,125.26h7.06v9.34h-7.06z" fill="#959597"/>
<path d="M129.04,125.26h7.06v9.34h-7.06z" fill="#929294"/>
<path d="M135.41,125.26h7.06v9.34h-7.06z" fill="#8f8f91"/>
<path d="M141.77,125.26h7.06v9.34h-7.06z" fill="#8b8b8d"/>
<path d="M148.13,125.26h9.37v9.34h-9.37z" fill="#88888a"/>
</g>
</g>
<path d="M34.00,42.80V131.60M40.80,42.80V131.60M47.60,42.80V131.60M54.40,42.80V131.60M61.20,42.80V131.60M68.00,42.80V131.60M74.80,42.80V131.60M81.60,42.80V131.60M88.40,42.80V131.60M95.20,42.80V131.60M102.00,42.80V131.60M108.80,42.80V131.60M115.60,42.80V131.60M122.40,42.80V131.60M129.20,42.80V131.60M136.00,42.80V131.60M142.80,42.80V131.60M149.60,42.80V131.60M27.20,49.63H154.50M27.20,56.46H154.50M27.20,63.29H154.50M27.20,70.12H154.50M27.20,76.95H154.50M27.20,83.78H154.50M27.20,90.62H154.50M27.20,97.45H154.50M27.20,104.28H154.50M27.20,111.11H154.50M27.20,117.94H154.50M27.20,124.77H154.50" stroke="#000" stroke-opacity="0.2" stroke-width="0.7" fill="none"/>
<rect x="27.20" y="42.80" width="127.30" height="88.80" fill="none" stroke="#000" stroke-opacity="0.3" stroke-width="0.6"/>
<rect x="37.90" y="38.10" width="106.50" height="3.7" fill="url(#wing)"/>
<g fill="none" stroke="#0c0c14" stroke-width="1.05" stroke-linejoin="round" stroke-linecap="round">
<path d="M154.5,103.4L148.8,106.4L143,109L137.1,111.4L130.4,113.6L124.2,115.3L117.3,116.9L111,117.9L104,118.8"/>
<path d="M84.1,119.3L76.4,118.7L68.8,117.7L61.2,116.2L54.4,114.5L47,112.2L40.4,109.8L33.4,106.6L27.2,103.4"/>
<path d="M154.5,54.6L153.8,55.6L151.4,58L149.3,59.6L146.7,61.5L144.4,62.8L141.6,64.3L139.2,65.3L136.1,66.5L129.8,68.2L122.7,69.6L113.5,70.8L104.3,71.5"/>
<path d="M84,71.7L73.4,71.3L63.6,70.3L55.1,68.9L51.3,68L47.5,67L44.4,66L41.3,64.8L38.4,63.4L35.6,61.9L32.9,60L30.8,58.4L28.4,56.1L27.5,55.1L27.2,54.6"/>
<path d="M149.2,42.9L148.4,44L146.9,45.5L145.3,46.8L143.5,47.9L141.7,48.8L139.7,49.6L135.1,50.9L130.3,51.8L124,52.5L114.9,52.9L104.4,53.2"/>
<path d="M84.2,53.3L72.4,53.1L62.6,52.8L53.5,52L47.2,51.1L42.6,49.8L40.7,49.1L38.8,48.2L37.1,47.2L35.4,46L33.9,44.5L32.4,42.9"/>
</g>
<g font-size="9.6" fill="#0c0c14" stroke="#0c0c14" stroke-width="0.25" text-anchor="middle">
<text x="94.1" y="56.2" textLength="17.6" lengthAdjust="spacingAndGlyphs">2.10</text>
<text x="94.1" y="74.8" textLength="17.6" lengthAdjust="spacingAndGlyphs">1.00</text>
<text x="94.1" y="122.8" textLength="17.6" lengthAdjust="spacingAndGlyphs">0.30</text>
</g>
<rect x="167.00" y="39.80" width="133.40" height="94.80" fill="#fff" stroke="#111" stroke-width="1.3"/>
<clipPath id="c5"><rect x="170.30" y="42.80" width="127.20" height="88.80"/></clipPath>
<g clip-path="url(#c5)">
<g filter="url(#bl)">
<path d="M167.3,39.8h10.06v10.04h-10.06z" fill="#91a3c9"/>
<path d="M176.66,39.8h7.06v10.04h-7.06z" fill="#2693b0"/>
<path d="M183.02,39.8h7.06v10.04h-7.06z" fill="#05d30a"/>
<path d="M189.38,39.8h7.06v10.04h-7.06z" fill="#03d706"/>
<path d="M195.74,39.8h7.06v10.04h-7.06z" fill="#02d904"/>
<path d="M202.1,39.8h7.06v10.04h-7.06z" fill="#02da04"/>
<path d="M208.46,39.8h7.06v10.04h-7.06z" fill="#02da03"/>
<path d="M214.82,39.8h7.06v10.04h-7.06z" fill="#01db03"/>
<path d="M221.18,39.8h7.06v10.04h-7.06z" fill="#01db03"/>
<path d="M227.54,39.8h7.06v10.04h-7.06z" fill="#01db03"/>
<path d="M233.9,39.8h7.06v10.04h-7.06z" fill="#01db03"/>
<path d="M240.26,39.8h7.06v10.04h-7.06z" fill="#01db03"/>
<path d="M246.62,39.8h7.06v10.04h-7.06z" fill="#01db03"/>
<path d="M252.98,39.8h7.06v10.04h-7.06z" fill="#02da03"/>
<path d="M259.34,39.8h7.06v10.04h-7.06z" fill="#02da04"/>
<path d="M265.7,39.8h7.06v10.04h-7.06z" fill="#02d904"/>
<path d="M272.06,39.8h7.06v10.04h-7.06z" fill="#03d706"/>
<path d="M278.42,39.8h7.06v10.04h-7.06z" fill="#05d30a"/>
<path d="M284.78,39.8h7.06v10.04h-7.06z" fill="#2693b0"/>
<path d="M291.14,39.8h9.36v10.04h-9.36z" fill="#91a3c9"/>
<path d="M167.3,49.14h10.06v7.04h-10.06z" fill="#5a86e1"/>
<path d="M176.66,49.14h7.06v7.04h-7.06z" fill="#2b91b6"/>
<path d="M183.02,49.14h7.06v7.04h-7.06z" fill="#0fbc42"/>
<path d="M189.38,49.14h7.06v7.04h-7.06z" fill="#05d20a"/>
<path d="M195.74,49.14h7.06v7.04h-7.06z" fill="#04d408"/>
<path d="M202.1,49.14h7.06v7.04h-7.06z" fill="#03d607"/>
<path d="M208.46,49.14h7.06v7.04h-7.06z" fill="#03d706"/>
<path d="M214.82,49.14h7.06v7.04h-7.06z" fill="#03d706"/>
<path d="M221.18,49.14h7.06v7.04h-7.06z" fill="#03d805"/>
<path d="M227.54,49.14h7.06v7.04h-7.06z" fill="#03d805"/>
<path d="M233.9,49.14h7.06v7.04h-7.06z" fill="#03d805"/>
<path d="M240.26,49.14h7.06v7.04h-7.06z" fill="#03d805"/>
<path d="M246.62,49.14h7.06v7.04h-7.06z" fill="#03d706"/>
<path d="M252.98,49.14h7.06v7.04h-7.06z" fill="#03d706"/>
<path d="M259.34,49.14h7.06v7.04h-7.06z" fill="#03d607"/>
<path d="M265.7,49.14h7.06v7.04h-7.06z" fill="#04d408"/>
<path d="M272.06,49.14h7.06v7.04h-7.06z" fill="#05d20a"/>
<path d="M278.42,49.14h7.06v7.04h-7.06z" fill="#0fbc42"/>
<path d="M284.78,49.14h7.06v7.04h-7.06z" fill="#2b91b6"/>
<path d="M291.14,49.14h9.36v7.04h-9.36z" fill="#5a86e1"/>
<path d="M167.3,55.49h10.06v7.04h-10.06z" fill="#4b81e2"/>
<path d="M176.66,55.49h7.06v7.04h-7.06z" fill="#2f8fbd"/>
<path d="M183.02,55.49h7.06v7.04h-7.06z" fill="#19a57f"/>
<path d="M189.38,55.49h7.06v7.04h-7.06z" fill="#0cc232"/>
<path d="M195.74,55.49h7.06v7.04h-7.06z" fill="#06d10b"/>
<path d="M202.1,55.49h7.06v7.04h-7.06z" fill="#05d20a"/>
<path d="M208.46,55.49h7.06v7.04h-7.06z" fill="#04d409"/>
<path d="M214.82,55.49h7.06v7.04h-7.06z" fill="#04d408"/>
<path d="M221.18,55.49h7.06v7.04h-7.06z" fill="#04d508"/>
<path d="M227.54,55.49h7.06v7.04h-7.06z" fill="#04d508"/>
<path d="M233.9,55.49h7.06v7.04h-7.06z" fill="#04d508"/>
<path d="M240.26,55.49h7.06v7.04h-7.06z" fill="#04d508"/>
<path d="M246.62,55.49h7.06v7.04h-7.06z" fill="#04d408"/>
<path d="M252.98,55.49h7.06v7.04h-7.06z" fill="#04d409"/>
<path d="M259.34,55.49h7.06v7.04h-7.06z" fill="#05d20a"/>
<path d="M265.7,55.49h7.06v7.04h-7.06z" fill="#06d10b"/>
<path d="M272.06,55.49h7.06v7.04h-7.06z" fill="#0cc232"/>
<path d="M278.42,55.49h7.06v7.04h-7.06z" fill="#19a57f"/>
<path d="M284.78,55.49h7.06v7.04h-7.06z" fill="#2f8fbd"/>
<path d="M291.14,55.49h9.36v7.04h-9.36z" fill="#4b81e2"/>
<path d="M167.3,61.83h10.06v7.04h-10.06z" fill="#4982df"/>
<path d="M176.66,61.83h7.06v7.04h-7.06z" fill="#348cc3"/>
<path d="M183.02,61.83h7.06v7.04h-7.06z" fill="#2096a7"/>
<path d="M189.38,61.83h7.06v7.04h-7.06z" fill="#16ad6a"/>
<path d="M195.74,61.83h7.06v7.04h-7.06z" fill="#0ebf3a"/>
<path d="M202.1,61.83h7.06v7.04h-7.06z" fill="#08cd15"/>
<path d="M208.46,61.83h7.06v7.04h-7.06z" fill="#06d10b"/>
<path d="M214.82,61.83h7.06v7.04h-7.06z" fill="#05d20b"/>
<path d="M221.18,61.83h7.06v7.04h-7.06z" fill="#05d20a"/>
<path d="M227.54,61.83h7.06v7.04h-7.06z" fill="#05d20a"/>
<path d="M233.9,61.83h7.06v7.04h-7.06z" fill="#05d20a"/>
<path d="M240.26,61.83h7.06v7.04h-7.06z" fill="#05d20a"/>
<path d="M246.62,61.83h7.06v7.04h-7.06z" fill="#05d20b"/>
<path d="M252.98,61.83h7.06v7.04h-7.06z" fill="#06d10b"/>
<path d="M259.34,61.83h7.06v7.04h-7.06z" fill="#08cd15"/>
<path d="M265.7,61.83h7.06v7.04h-7.06z" fill="#0ebf3a"/>
<path d="M272.06,61.83h7.06v7.04h-7.06z" fill="#16ad6a"/>
<path d="M278.42,61.83h7.06v7.04h-7.06z" fill="#2096a7"/>
<path d="M284.78,61.83h7.06v7.04h-7.06z" fill="#348cc3"/>
<path d="M291.14,61.83h9.36v7.04h-9.36z" fill="#4982df"/>
<path d="M167.3,68.17h10.06v7.04h-10.06z" fill="#4982e0"/>
<path d="M176.66,68.17h7.06v7.04h-7.06z" fill="#398aca"/>
<path d="M183.02,68.17h7.06v7.04h-7.06z" fill="#2992b4"/>
<path d="M189.38,68.17h7.06v7.04h-7.06z" fill="#1d9d95"/>
<path d="M195.74,68.17h7.06v7.04h-7.06z" fill="#16ac6c"/>
<path d="M202.1,68.17h7.06v7.04h-7.06z" fill="#10b94b"/>
<path d="M208.46,68.17h7.06v7.04h-7.06z" fill="#0cc232"/>
<path d="M214.82,68.17h7.06v7.04h-7.06z" fill="#09c820"/>
<path d="M221.18,68.17h7.06v7.04h-7.06z" fill="#08cd15"/>
<path d="M227.54,68.17h7.06v7.04h-7.06z" fill="#07cf10"/>
<path d="M233.9,68.17h7.06v7.04h-7.06z" fill="#07cf10"/>
<path d="M240.26,68.17h7.06v7.04h-7.06z" fill="#08cd15"/>
<path d="M246.62,68.17h7.06v7.04h-7.06z" fill="#09c820"/>
<path d="M252.98,68.17h7.06v7.04h-7.06z" fill="#0cc232"/>
<path d="M259.34,68.17h7.06v7.04h-7.06z" fill="#10b94b"/>
<path d="M265.7,68.17h7.06v7.04h-7.06z" fill="#16ac6c"/>
<path d="M272.06,68.17h7.06v7.04h-7.06z" fill="#1d9d95"/>
<path d="M278.42,68.17h7.06v7.04h-7.06z" fill="#2992b4"/>
<path d="M284.78,68.17h7.06v7.04h-7.06z" fill="#398aca"/>
<path d="M291.14,68.17h9.36v7.04h-9.36z" fill="#4982e0"/>
<path d="M167.3,74.51h10.06v7.04h-10.06z" fill="#4b82e2"/>
<path d="M176.66,74.51h7.06v7.04h-7.06z" fill="#3e88d0"/>
<path d="M183.02,74.51h7.06v7.04h-7.06z" fill="#318ebf"/>
<path d="M189.38,74.51h7.06v7.04h-7.06z" fill="#2594af"/>
<path d="M195.74,74.51h7.06v7.04h-7.06z" fill="#1d9d95"/>
<path d="M202.1,74.51h7.06v7.04h-7.06z" fill="#18a878"/>
<path d="M208.46,74.51h7.06v7.04h-7.06z" fill="#14b062"/>
<path d="M214.82,74.51h7.06v7.04h-7.06z" fill="#12b651"/>
<path d="M221.18,74.51h7.06v7.04h-7.06z" fill="#10ba46"/>
<path d="M227.54,74.51h7.06v7.04h-7.06z" fill="#0fbc41"/>
<path d="M233.9,74.51h7.06v7.04h-7.06z" fill="#0fbc41"/>
<path d="M240.26,74.51h7.06v7.04h-7.06z" fill="#10ba46"/>
<path d="M246.62,74.51h7.06v7.04h-7.06z" fill="#12b651"/>
<path d="M252.98,74.51h7.06v7.04h-7.06z" fill="#14b062"/>
<path d="M259.34,74.51h7.06v7.04h-7.06z" fill="#18a878"/>
<path d="M265.7,74.51h7.06v7.04h-7.06z" fill="#1d9d95"/>
<path d="M272.06,74.51h7.06v7.04h-7.06z" fill="#2594af"/>
<path d="M278.42,74.51h7.06v7.04h-7.06z" fill="#318ebf"/>
<path d="M284.78,74.51h7.06v7.04h-7.06z" fill="#3e88d0"/>
<path d="M291.14,74.51h9.36v7.04h-9.36z" fill="#4b82e2"/>
<path d="M167.3,80.86h10.06v7.04h-10.06z" fill="#4d80e5"/>
<path d="M176.66,80.86h7.06v7.04h-7.06z" fill="#4286d6"/>
<path d="M183.02,80.86h7.06v7.04h-7.06z" fill="#388bc8"/>
<path d="M189.38,80.86h7.06v7.04h-7.06z" fill="#2e8fba"/>
<path d="M195.74,80.86h7.06v7.04h-7.06z" fill="#2594af"/>
<path d="M202.1,80.86h7.06v7.04h-7.06z" fill="#1f999f"/>
<path d="M208.46,80.86h7.06v7.04h-7.06z" fill="#1ba18b"/>
<path d="M214.82,80.86h7.06v7.04h-7.06z" fill="#19a67c"/>
<path d="M221.18,80.86h7.06v7.04h-7.06z" fill="#17aa72"/>
<path d="M227.54,80.86h7.06v7.04h-7.06z" fill="#16ac6e"/>
<path d="M233.9,80.86h7.06v7.04h-7.06z" fill="#16ac6e"/>
<path d="M240.26,80.86h7.06v7.04h-7.06z" fill="#17aa72"/>
<path d="M246.62,80.86h7.06v7.04h-7.06z" fill="#19a67c"/>
<path d="M252.98,80.86h7.06v7.04h-7.06z" fill="#1ba18b"/>
<path d="M259.34,80.86h7.06v7.04h-7.06z" fill="#1f999f"/>
<path d="M265.7,80.86h7.06v7.04h-7.06z" fill="#2594af"/>
<path d="M272.06,80.86h7.06v7.04h-7.06z" fill="#2e8fba"/>
<path d="M278.42,80.86h7.06v7.04h-7.06z" fill="#388bc8"/>
<path d="M284.78,80.86h7.06v7.04h-7.06z" fill="#4286d6"/>
<path d="M291.14,80.86h9.36v7.04h-9.36z" fill="#4d80e5"/>
<path d="M167.3,87.2h10.06v7.04h-10.06z" fill="#5282e4"/>
<path d="M176.66,87.2h7.06v7.04h-7.06z" fill="#4784dc"/>
<path d="M183.02,87.2h7.06v7.04h-7.06z" fill="#3e88d0"/>
<path d="M189.38,87.2h7.06v7.04h-7.06z" fill="#358cc5"/>
<path d="M195.74,87.2h7.06v7.04h-7.06z" fill="#2e8fbb"/>
<path d="M202.1,87.2h7.06v7.04h-7.06z" fill="#2792b2"/>
<path d="M208.46,87.2h7.06v7.04h-7.06z" fill="#2295ab"/>
<path d="M214.82,87.2h7.06v7.04h-7.06z" fill="#1f98a2"/>
<path d="M221.18,87.2h7.06v7.04h-7.06z" fill="#1e9b99"/>
<path d="M227.54,87.2h7.06v7.04h-7.06z" fill="#1d9d95"/>
<path d="M233.9,87.2h7.06v7.04h-7.06z" fill="#1d9d95"/>
<path d="M240.26,87.2h7.06v7.04h-7.06z" fill="#1e9b99"/>
<path d="M246.62,87.2h7.06v7.04h-7.06z" fill="#1f98a2"/>
<path d="M252.98,87.2h7.06v7.04h-7.06z" fill="#2295ab"/>
<path d="M259.34,87.2h7.06v7.04h-7.06z" fill="#2792b2"/>
<path d="M265.7,87.2h7.06v7.04h-7.06z" fill="#2e8fbb"/>
<path d="M272.06,87.2h7.06v7.04h-7.06z" fill="#358cc5"/>
<path d="M278.42,87.2h7.06v7.04h-7.06z" fill="#3e88d0"/>
<path d="M284.78,87.2h7.06v7.04h-7.06z" fill="#4784dc"/>
<path d="M291.14,87.2h9.36v7.04h-9.36z" fill="#5282e4"/>
<path d="M167.3,93.54h10.06v7.04h-10.06z" fill="#5885e2"/>
<path d="M176.66,93.54h7.06v7.04h-7.06z" fill="#4b82e2"/>
<path d="M183.02,93.54h7.06v7.04h-7.06z" fill="#4385d7"/>
<path d="M189.38,93.54h7.06v7.04h-7.06z" fill="#3c89ce"/>
<path d="M195.74,93.54h7.06v7.04h-7.06z" fill="#368cc5"/>
<path d="M202.1,93.54h7.06v7.04h-7.06z" fill="#308ebe"/>
<path d="M208.46,93.54h7.06v7.04h-7.06z" fill="#2c90b8"/>
<path d="M214.82,93.54h7.06v7.04h-7.06z" fill="#2892b3"/>
<path d="M221.18,93.54h7.06v7.04h-7.06z" fill="#2693b0"/>
<path d="M227.54,93.54h7.06v7.04h-7.06z" fill="#2594ae"/>
<path d="M233.9,93.54h7.06v7.04h-7.06z" fill="#2594ae"/>
<path d="M240.26,93.54h7.06v7.04h-7.06z" fill="#2693b0"/>
<path d="M246.62,93.54h7.06v7.04h-7.06z" fill="#2892b3"/>
<path d="M252.98,93.54h7.06v7.04h-7.06z" fill="#2c90b8"/>
<path d="M259.34,93.54h7.06v7.04h-7.06z" fill="#308ebe"/>
<path d="M265.7,93.54h7.06v7.04h-7.06z" fill="#368cc5"/>
<path d="M272.06,93.54h7.06v7.04h-7.06z" fill="#3c89ce"/>
<path d="M278.42,93.54h7.06v7.04h-7.06z" fill="#4385d7"/>
<path d="M284.78,93.54h7.06v7.04h-7.06z" fill="#4b82e2"/>
<path d="M291.14,93.54h9.36v7.04h-9.36z" fill="#5885e2"/>
<path d="M167.3,99.89h10.06v7.04h-10.06z" fill="#5e89df"/>
<path d="M176.66,99.89h7.06v7.04h-7.06z" fill="#4f81e5"/>
<path d="M183.02,99.89h7.06v7.04h-7.06z" fill="#4883de"/>
<path d="M189.38,99.89h7.06v7.04h-7.06z" fill="#4286d6"/>
<path d="M195.74,99.89h7.06v7.04h-7.06z" fill="#3d88cf"/>
<path d="M202.1,99.89h7.06v7.04h-7.06z" fill="#388bc8"/>
<path d="M208.46,99.89h7.06v7.04h-7.06z" fill="#348cc3"/>
<path d="M214.82,99.89h7.06v7.04h-7.06z" fill="#318ebf"/>
<path d="M221.18,99.89h7.06v7.04h-7.06z" fill="#2f8fbc"/>
<path d="M227.54,99.89h7.06v7.04h-7.06z" fill="#2e8fbb"/>
<path d="M233.9,99.89h7.06v7.04h-7.06z" fill="#2e8fbb"/>
<path d="M240.26,99.89h7.06v7.04h-7.06z" fill="#2f8fbc"/>
<path d="M246.62,99.89h7.06v7.04h-7.06z" fill="#318ebf"/>
<path d="M252.98,99.89h7.06v7.04h-7.06z" fill="#348cc3"/>
<path d="M259.34,99.89h7.06v7.04h-7.06z" fill="#388bc8"/>
<path d="M265.7,99.89h7.06v7.04h-7.06z" fill="#3d88cf"/>
<path d="M272.06,99.89h7.06v7.04h-7.06z" fill="#4286d6"/>
<path d="M278.42,99.89h7.06v7.04h-7.06z" fill="#4883de"/>
<path d="M284.78,99.89h7.06v7.04h-7.06z" fill="#4f81e5"/>
<path d="M291.14,99.89h9.36v7.04h-9.36z" fill="#5e89df"/>
<path d="M167.3,106.23h10.06v7.04h-10.06z" fill="#658cdc"/>
<path d="M176.66,106.23h7.06v7.04h-7.06z" fill="#5885e2"/>
<path d="M183.02,106.23h7.06v7.04h-7.06z" fill="#4d81e4"/>
<path d="M189.38,106.23h7.06v7.04h-7.06z" fill="#4883dd"/>
<path d="M195.74,106.23h7.06v7.04h-7.06z" fill="#4385d7"/>
<path d="M202.1,106.23h7.06v7.04h-7.06z" fill="#3f87d1"/>
<path d="M208.46,106.23h7.06v7.04h-7.06z" fill="#3b89cd"/>
<path d="M214.82,106.23h7.06v7.04h-7.06z" fill="#398ac9"/>
<path d="M221.18,106.23h7.06v7.04h-7.06z" fill="#378bc7"/>
<path d="M227.54,106.23h7.06v7.04h-7.06z" fill="#368bc6"/>
<path d="M233.9,106.23h7.06v7.04h-7.06z" fill="#368bc6"/>
<path d="M240.26,106.23h7.06v7.04h-7.06z" fill="#378bc7"/>
<path d="M246.62,106.23h7.06v7.04h-7.06z" fill="#398ac9"/>
<path d="M252.98,106.23h7.06v7.04h-7.06z" fill="#3b89cd"/>
<path d="M259.34,106.23h7.06v7.04h-7.06z" fill="#3f87d1"/>
<path d="M265.7,106.23h7.06v7.04h-7.06z" fill="#4385d7"/>
<path d="M272.06,106.23h7.06v7.04h-7.06z" fill="#4883dd"/>
<path d="M278.42,106.23h7.06v7.04h-7.06z" fill="#4d81e4"/>
<path d="M284.78,106.23h7.06v7.04h-7.06z" fill="#5885e2"/>
<path d="M291.14,106.23h9.36v7.04h-9.36z" fill="#658cdc"/>
<path d="M167.3,112.57h10.06v7.04h-10.06z" fill="#6b8fd9"/>
<path d="M176.66,112.57h7.06v7.04h-7.06z" fill="#6089de"/>
<path d="M183.02,112.57h7.06v7.04h-7.06z" fill="#5584e3"/>
<path d="M189.38,112.57h7.06v7.04h-7.06z" fill="#4d81e4"/>
<path d="M195.74,112.57h7.06v7.04h-7.06z" fill="#4983df"/>
<path d="M202.1,112.57h7.06v7.04h-7.06z" fill="#4584da"/>
<path d="M208.46,112.57h7.06v7.04h-7.06z" fill="#4286d6"/>
<path d="M214.82,112.57h7.06v7.04h-7.06z" fill="#4087d3"/>
<path d="M221.18,112.57h7.06v7.04h-7.06z" fill="#3e88d1"/>
<path d="M227.54,112.57h7.06v7.04h-7.06z" fill="#3d88d0"/>
<path d="M233.9,112.57h7.06v7.04h-7.06z" fill="#3d88d0"/>
<path d="M240.26,112.57h7.06v7.04h-7.06z" fill="#3e88d1"/>
<path d="M246.62,112.57h7.06v7.04h-7.06z" fill="#4087d3"/>
<path d="M252.98,112.57h7.06v7.04h-7.06z" fill="#4286d6"/>
<path d="M259.34,112.57h7.06v7.04h-7.06z" fill="#4584da"/>
<path d="M265.7,112.57h7.06v7.04h-7.06z" fill="#4983df"/>
<path d="M272.06,112.57h7.06v7.04h-7.06z" fill="#4d81e4"/>
<path d="M278.42,112.57h7.06v7.04h-7.06z" fill="#5584e3"/>
<path d="M284.78,112.57h7.06v7.04h-7.06z" fill="#6089de"/>
<path d="M291.14,112.57h9.36v7.04h-9.36z" fill="#6b8fd9"/>
<path d="M167.3,118.91h10.06v7.04h-10.06z" fill="#7192d7"/>
<path d="M176.66,118.91h7.06v7.04h-7.06z" fill="#678ddb"/>
<path d="M183.02,118.91h7.06v7.04h-7.06z" fill="#5e88df"/>
<path d="M189.38,118.91h7.06v7.04h-7.06z" fill="#5584e3"/>
<path d="M195.74,118.91h7.06v7.04h-7.06z" fill="#4e80e5"/>
<path d="M202.1,118.91h7.06v7.04h-7.06z" fill="#4b82e1"/>
<path d="M208.46,118.91h7.06v7.04h-7.06z" fill="#4883de"/>
<path d="M214.82,118.91h7.06v7.04h-7.06z" fill="#4684db"/>
<path d="M221.18,118.91h7.06v7.04h-7.06z" fill="#4584d9"/>
<path d="M227.54,118.91h7.06v7.04h-7.06z" fill="#4485d9"/>
<path d="M233.9,118.91h7.06v7.04h-7.06z" fill="#4485d9"/>
<path d="M240.26,118.91h7.06v7.04h-7.06z" fill="#4584d9"/>
<path d="M246.62,118.91h7.06v7.04h-7.06z" fill="#4684db"/>
<path d="M252.98,118.91h7.06v7.04h-7.06z" fill="#4883de"/>
<path d="M259.34,118.91h7.06v7.04h-7.06z" fill="#4b82e1"/>
<path d="M265.7,118.91h7.06v7.04h-7.06z" fill="#4e80e5"/>
<path d="M272.06,118.91h7.06v7.04h-7.06z" fill="#5584e3"/>
<path d="M278.42,118.91h7.06v7.04h-7.06z" fill="#5e88df"/>
<path d="M284.78,118.91h7.06v7.04h-7.06z" fill="#678ddb"/>
<path d="M291.14,118.91h9.36v7.04h-9.36z" fill="#7192d7"/>
<path d="M167.3,125.26h10.06v9.34h-10.06z" fill="#7795d4"/>
<path d="M176.66,125.26h7.06v9.34h-7.06z" fill="#6f91d8"/>
<path d="M183.02,125.26h7.06v9.34h-7.06z" fill="#668ddb"/>
<path d="M189.38,125.26h7.06v9.34h-7.06z" fill="#5f89df"/>
<path d="M195.74,125.26h7.06v9.34h-7.06z" fill="#5885e2"/>
<path d="M202.1,125.26h7.06v9.34h-7.06z" fill="#5282e4"/>
<path d="M208.46,125.26h7.06v9.34h-7.06z" fill="#4d80e5"/>
<path d="M214.82,125.26h7.06v9.34h-7.06z" fill="#4c81e3"/>
<path d="M221.18,125.26h7.06v9.34h-7.06z" fill="#4b82e1"/>
<path d="M227.54,125.26h7.06v9.34h-7.06z" fill="#4a82e1"/>
<path d="M233.9,125.26h7.06v9.34h-7.06z" fill="#4a82e1"/>
<path d="M240.26,125.26h7.06v9.34h-7.06z" fill="#4b82e1"/>
<path d="M246.62,125.26h7.06v9.34h-7.06z" fill="#4c81e3"/>
<path d="M252.98,125.26h7.06v9.34h-7.06z" fill="#4d80e5"/>
<path d="M259.34,125.26h7.06v9.34h-7.06z" fill="#5282e4"/>
<path d="M265.7,125.26h7.06v9.34h-7.06z" fill="#5885e2"/>
<path d="M272.06,125.26h7.06v9.34h-7.06z" fill="#5f89df"/>
<path d="M278.42,125.26h7.06v9.34h-7.06z" fill="#668ddb"/>
<path d="M284.78,125.26h7.06v9.34h-7.06z" fill="#6f91d8"/>
<path d="M291.14,125.26h9.36v9.34h-9.36z" fill="#7795d4"/>
</g>
</g>
<path d="M177.10,42.80V131.60M183.90,42.80V131.60M190.70,42.80V131.60M197.50,42.80V131.60M204.30,42.80V131.60M211.10,42.80V131.60M217.90,42.80V131.60M224.70,42.80V131.60M231.50,42.80V131.60M238.30,42.80V131.60M245.10,42.80V131.60M251.90,42.80V131.60M258.70,42.80V131.60M265.50,42.80V131.60M272.30,42.80V131.60M279.10,42.80V131.60M285.90,42.80V131.60M292.70,42.80V131.60M170.30,49.63H297.50M170.30,56.46H297.50M170.30,63.29H297.50M170.30,70.12H297.50M170.30,76.95H297.50M170.30,83.78H297.50M170.30,90.62H297.50M170.30,97.45H297.50M170.30,104.28H297.50M170.30,111.11H297.50M170.30,117.94H297.50M170.30,124.77H297.50" stroke="#000" stroke-opacity="0.2" stroke-width="0.7" fill="none"/>
<rect x="170.30" y="42.80" width="127.20" height="88.80" fill="none" stroke="#000" stroke-opacity="0.3" stroke-width="0.6"/>
<rect x="180.30" y="38.10" width="105.70" height="3.7" fill="url(#wing)"/>
<g fill="none" stroke="#0c0c14" stroke-width="1.05" stroke-linejoin="round" stroke-linecap="round">
<path d="M294.7,42.8L296.3,48.2L297.5,54.1"/>
<path d="M170.3,54.1L171.4,48.5L173.1,42.8"/>
<path d="M297.5,86.2L295.8,92L293.7,97.5L291,102.9L287.8,108"/>
<path d="M281.9,115.5L279.5,118.1L276.9,120.5L274.1,122.8L271.2,125L268.3,127L265.2,128.8L262,130.4L259.3,131.6"/>
<path d="M208.5,131.6L205.8,130.4L202.6,128.8L199.5,127L196.6,125L193.7,122.8L190.9,120.5L188.3,118.1L185.9,115.5"/>
<path d="M180,108L176.8,102.9L174.1,97.5L172,92L170.3,86.2"/>
<path d="M290.1,42.8L289.5,47.3L288.6,51.8L287.3,56.2L285.6,60.5L283.5,64.6L281.2,68.6L278.5,72.3L275.5,75.8L272.3,79.1L268.8,82.1L265,84.8L261.1,87.2L257,89.2L252.1,91.2L247.7,92.5L243.3,93.5"/>
<path d="M230.3,94.3L225.8,93.8L220.7,92.7L215.7,91.2L210.8,89.2L206.2,86.8L201.7,84L197.6,80.8L194.2,77.7L190.6,73.8L187.3,69.7L184.5,65.3L182.4,61.2L180.4,56.3L179.1,51.9L178.3,47.3L177.8,42.8"/>
<path d="M285.9,42.8L285.5,44.1L284.9,45.2L284.2,46.2L282.9,47.6L274.9,55L271.9,57.3L268.2,59.9L265.5,61.5L262.6,63L256.8,65.6L250.7,67.5L244.4,68.9"/>
<path d="M227.2,69.4L224,69L220.9,68.4L217.7,67.7L214.1,66.6L211,65.5L207.5,64.1L204,62.4L201.2,60.8L195.9,57.4L193.3,55.4L190.9,53.3L184,46.7L182.6,44.7L181.9,42.8"/>
</g>
<g font-size="9.6" fill="#0c0c14" stroke="#0c0c14" stroke-width="0.25" text-anchor="middle">
<text x="235.9" y="72.3" textLength="15.2" lengthAdjust="spacingAndGlyphs">120</text>
<text x="236.9" y="97.8" textLength="10.1" lengthAdjust="spacingAndGlyphs">90</text>
<text x="184.0" y="115.3" textLength="10.1" lengthAdjust="spacingAndGlyphs">60</text>
<text x="283.6" y="115.3" textLength="10.1" lengthAdjust="spacingAndGlyphs">60</text>
</g>
<rect x="309.20" y="39.90" width="133.60" height="56.20" fill="#fff" stroke="#111" stroke-width="1.3"/>
<rect x="441.2" y="53.60" width="3" height="29.20" fill="#d2d2d2"/>
<clipPath id="c6"><rect x="313.90" y="53.90" width="124.50" height="28.50"/></clipPath>
<g clip-path="url(#c6)">
<g filter="url(#bl)">
<path d="M310.9,50.9h12.59v13.2h-12.59z" fill="#707071"/>
<path d="M322.79,50.9h9.59v13.2h-9.59z" fill="#747475"/>
<path d="M331.69,50.9h9.59v13.2h-9.59z" fill="#78787a"/>
<path d="M340.58,50.9h9.59v13.2h-9.59z" fill="#7e7e7f"/>
<path d="M349.47,50.9h9.59v13.2h-9.59z" fill="#848486"/>
<path d="M358.36,50.9h9.59v13.2h-9.59z" fill="#8b8b8d"/>
<path d="M367.26,50.9h9.59v13.2h-9.59z" fill="#959597"/>
<path d="M376.15,50.9h9.59v13.2h-9.59z" fill="#a1a1a3"/>
<path d="M385.04,50.9h9.59v13.2h-9.59z" fill="#b0b0b3"/>
<path d="M393.94,50.9h9.59v13.2h-9.59z" fill="#aab0be"/>
<path d="M402.83,50.9h9.59v13.2h-9.59z" fill="#92a3c9"/>
<path d="M411.72,50.9h9.59v13.2h-9.59z" fill="#6e91d8"/>
<path d="M420.61,50.9h9.59v13.2h-9.59z" fill="#4485d8"/>
<path d="M429.51,50.9h11.89v13.2h-11.89z" fill="#1ca08d"/>
<path d="M310.9,63.4h12.59v10.2h-12.59z" fill="#707071"/>
<path d="M322.79,63.4h9.59v10.2h-9.59z" fill="#747475"/>
<path d="M331.69,63.4h9.59v10.2h-9.59z" fill="#79797a"/>
<path d="M340.58,63.4h9.59v10.2h-9.59z" fill="#7e7e80"/>
<path d="M349.47,63.4h9.59v10.2h-9.59z" fill="#858586"/>
<path d="M358.36,63.4h9.59v10.2h-9.59z" fill="#8d8d8f"/>
<path d="M367.26,63.4h9.59v10.2h-9.59z" fill="#969699"/>
<path d="M376.15,63.4h9.59v10.2h-9.59z" fill="#a3a3a5"/>
<path d="M385.04,63.4h9.59v10.2h-9.59z" fill="#b3b3b6"/>
<path d="M393.94,63.4h9.59v10.2h-9.59z" fill="#a5adc0"/>
<path d="M402.83,63.4h9.59v10.2h-9.59z" fill="#8a9fcc"/>
<path d="M411.72,63.4h9.59v10.2h-9.59z" fill="#5f89df"/>
<path d="M420.61,63.4h9.59v10.2h-9.59z" fill="#368cc5"/>
<path d="M429.51,63.4h11.89v10.2h-11.89z" fill="#0bc52a"/>
<path d="M310.9,72.9h12.59v12.5h-12.59z" fill="#707071"/>
<path d="M322.79,72.9h9.59v12.5h-9.59z" fill="#747475"/>
<path d="M331.69,72.9h9.59v12.5h-9.59z" fill="#78787a"/>
<path d="M340.58,72.9h9.59v12.5h-9.59z" fill="#7e7e7f"/>
<path d="M349.47,72.9h9.59v12.5h-9.59z" fill="#848486"/>
<path d="M358.36,72.9h9.59v12.5h-9.59z" fill="#8b8b8d"/>
<path d="M367.26,72.9h9.59v12.5h-9.59z" fill="#959597"/>
<path d="M376.15,72.9h9.59v12.5h-9.59z" fill="#a1a1a3"/>
<path d="M385.04,72.9h9.59v12.5h-9.59z" fill="#b0b0b3"/>
<path d="M393.94,72.9h9.59v12.5h-9.59z" fill="#aab0be"/>
<path d="M402.83,72.9h9.59v12.5h-9.59z" fill="#91a3c9"/>
<path d="M411.72,72.9h9.59v12.5h-9.59z" fill="#6e91d8"/>
<path d="M420.61,72.9h9.59v12.5h-9.59z" fill="#4485d8"/>
<path d="M429.51,72.9h11.89v12.5h-11.89z" fill="#1ba18b"/>
</g>
</g>
<path d="M322.79,53.90V82.40M331.69,53.90V82.40M340.58,53.90V82.40M349.47,53.90V82.40M358.36,53.90V82.40M367.26,53.90V82.40M376.15,53.90V82.40M385.04,53.90V82.40M393.94,53.90V82.40M402.83,53.90V82.40M411.72,53.90V82.40M420.61,53.90V82.40M429.51,53.90V82.40M313.90,63.40H438.40M313.90,72.90H438.40" stroke="#000" stroke-opacity="0.13" stroke-width="0.7" fill="none"/>
<rect x="313.90" y="53.90" width="124.50" height="28.50" fill="none" stroke="#000" stroke-opacity="0.3" stroke-width="0.6"/>
<g fill="none" stroke="#0c0c14" stroke-width="1.05" stroke-linejoin="round" stroke-linecap="round">
<path d="M393.3,82.4L392.4,77.3L391.8,72.2"/>
<path d="M391.9,63.4L392.4,59L393.4,53.9"/>
<path d="M424.8,82.4L423.5,79.5L422.8,77.3L422.1,74.4L421.7,72.2"/>
<path d="M421.9,63.4L422.3,61.2L423.1,58.3L424.8,53.9"/>
<path d="M436.5,82.4L435,79.5L434,77.3L433.3,75.1L432.7,72.2"/>
<path d="M432.8,63.4L433.4,61.2L434.1,59L435.4,56.1L436.7,53.9"/>
</g>
<g font-size="9.6" fill="#0c0c14" stroke="#0c0c14" stroke-width="0.25" text-anchor="middle">
<text x="391.7" y="71.3" textLength="10.1" lengthAdjust="spacingAndGlyphs">30</text>
<text x="421.5" y="71.3" textLength="10.1" lengthAdjust="spacingAndGlyphs">60</text>
<text x="432.3" y="71.3" textLength="10.1" lengthAdjust="spacingAndGlyphs">90</text>
</g>
<path d="M450.9,55.7V81.2" stroke="#8a8a8a" stroke-width="0.8" stroke-dasharray="3 2.2" fill="none"/>
<path d="M448.3,54.2h5.6M448.3,82.2h5.6" stroke="#333" stroke-width="1" fill="none"/>
<text x="467" y="65.8" font-size="8.6" text-anchor="middle" fill="#111" textLength="28" lengthAdjust="spacingAndGlyphs">window</text>
<text x="467.2" y="76.4" font-size="8.6" text-anchor="middle" fill="#111" textLength="22.4" lengthAdjust="spacingAndGlyphs">height</text>
<text x="310.5" y="109.2" font-size="8.1" font-weight="bold" fill="#000" stroke="#000" stroke-width="0.2" textLength="41.1" lengthAdjust="spacingAndGlyphs">WWR=40%</text>
<path d="M310.5,110.7h41.1" stroke="#111" stroke-width="0.9"/>
<text x="310.5" y="120.0" font-size="8.1" fill="#111" textLength="43" lengthAdjust="spacingAndGlyphs">WFR=17.1%</text>
<text x="310.5" y="130.4" font-size="8.1" fill="#111" textLength="44" lengthAdjust="spacingAndGlyphs">WWLR=40%</text>
<text x="310.5" y="140.8" font-size="8.1" fill="#111" textLength="45.9" lengthAdjust="spacingAndGlyphs">WWHR=50%</text>
<path d="M378.5,122.7L409.7,104.6L431.2,117.3L400.3,135.6ZM378.5,122.7L378.5,132.7L400.3,145.2L431.2,127.0M400.3,135.6L400.3,145.2" fill="#fff" stroke="#505050" stroke-width="0.65" stroke-linejoin="round"/>
<path d="M431.2,117.3L431.2,127.0" fill="none" stroke="#505050" stroke-width="0.65"/>
<path d="M403.5,136.2L428.3,122.3L428.3,128.0L403.5,141.6Z" fill="#bebebe" stroke="#909090" stroke-width="0.5"/>
</g>
<g transform="translate(0,230.60)">
<text transform="translate(17.4,87.3) rotate(-90)" font-size="8.9" font-weight="bold" fill="#ee1c25" stroke="#ee1c25" stroke-width="0.25" text-anchor="middle" textLength="34.5" lengthAdjust="spacingAndGlyphs">Case a-6</text>
<text x="91.0" y="29.1" font-size="8.3" text-anchor="middle" fill="#111" textLength="53.2" lengthAdjust="spacingAndGlyphs">window length</text>
<path d="M39.4,33.0H143.4" stroke="#666" stroke-width="0.9" stroke-dasharray="3 2.2" fill="none"/>
<path d="M37.9,30.6v5.2M144.4,30.6v5.2" stroke="#333" stroke-width="1" fill="none"/>
<text x="233.6" y="29.1" font-size="8.3" text-anchor="middle" fill="#111" textLength="53.2" lengthAdjust="spacingAndGlyphs">window length</text>
<path d="M181.8,33.0H285.0" stroke="#666" stroke-width="0.9" stroke-dasharray="3 2.2" fill="none"/>
<path d="M180.3,30.6v5.2M286.0,30.6v5.2" stroke="#333" stroke-width="1" fill="none"/>
<rect x="24.60" y="39.80" width="133.00" height="94.80" fill="#fff" stroke="#111" stroke-width="1.3"/>
<clipPath id="c7"><rect x="27.20" y="42.80" width="127.30" height="88.80"/></clipPath>
<g clip-path="url(#c7)">
<g filter="url(#bl)">
<path d="M24.2,39.8h10.07v10.04h-10.07z" fill="#4186d5"/>
<path d="M33.56,39.8h7.07v10.04h-7.07z" fill="#14b15f"/>
<path d="M39.93,39.8h7.07v10.04h-7.07z" fill="#05d30a"/>
<path d="M46.3,39.8h7.06v10.04h-7.06z" fill="#04d508"/>
<path d="M52.66,39.8h7.07v10.04h-7.07z" fill="#04d507"/>
<path d="M59.03,39.8h7.06v10.04h-7.06z" fill="#04d607"/>
<path d="M65.39,39.8h7.06v10.04h-7.06z" fill="#04d607"/>
<path d="M71.75,39.8h7.07v10.04h-7.07z" fill="#03d607"/>
<path d="M78.12,39.8h7.06v10.04h-7.06z" fill="#03d607"/>
<path d="M84.48,39.8h7.07v10.04h-7.07z" fill="#03d607"/>
<path d="M90.85,39.8h7.06v10.04h-7.06z" fill="#03d607"/>
<path d="M97.22,39.8h7.06v10.04h-7.06z" fill="#03d607"/>
<path d="M103.58,39.8h7.07v10.04h-7.07z" fill="#03d607"/>
<path d="M109.95,39.8h7.06v10.04h-7.06z" fill="#04d607"/>
<path d="M116.31,39.8h7.07v10.04h-7.07z" fill="#04d607"/>
<path d="M122.68,39.8h7.06v10.04h-7.06z" fill="#04d507"/>
<path d="M129.04,39.8h7.06v10.04h-7.06z" fill="#04d508"/>
<path d="M135.41,39.8h7.06v10.04h-7.06z" fill="#05d30a"/>
<path d="M141.77,39.8h7.06v10.04h-7.06z" fill="#14b15f"/>
<path d="M148.13,39.8h9.37v10.04h-9.37z" fill="#4186d5"/>
<path d="M24.2,49.14h10.07v7.04h-10.07z" fill="#3a8acb"/>
<path d="M33.56,49.14h7.07v7.04h-7.07z" fill="#2097a5"/>
<path d="M39.93,49.14h7.07v7.04h-7.07z" fill="#14b160"/>
<path d="M46.3,49.14h7.06v7.04h-7.06z" fill="#0dbf39"/>
<path d="M52.66,49.14h7.07v7.04h-7.07z" fill="#0ac626"/>
<path d="M59.03,49.14h7.06v7.04h-7.06z" fill="#09ca1c"/>
<path d="M65.39,49.14h7.06v7.04h-7.06z" fill="#08cc16"/>
<path d="M71.75,49.14h7.07v7.04h-7.07z" fill="#07cd13"/>
<path d="M78.12,49.14h7.06v7.04h-7.06z" fill="#07ce12"/>
<path d="M84.48,49.14h7.07v7.04h-7.07z" fill="#07ce11"/>
<path d="M90.85,49.14h7.06v7.04h-7.06z" fill="#07ce11"/>
<path d="M97.22,49.14h7.06v7.04h-7.06z" fill="#07ce12"/>
<path d="M103.58,49.14h7.07v7.04h-7.07z" fill="#07cd13"/>
<path d="M109.95,49.14h7.06v7.04h-7.06z" fill="#08cc16"/>
<path d="M116.31,49.14h7.07v7.04h-7.07z" fill="#09ca1c"/>
<path d="M122.68,49.14h7.06v7.04h-7.06z" fill="#0ac626"/>
<path d="M129.04,49.14h7.06v7.04h-7.06z" fill="#0dbf39"/>
<path d="M135.41,49.14h7.06v7.04h-7.06z" fill="#14b160"/>
<path d="M141.77,49.14h7.06v7.04h-7.06z" fill="#2097a5"/>
<path d="M148.13,49.14h9.37v7.04h-9.37z" fill="#3a8acb"/>
<path d="M24.2,55.49h10.07v7.04h-10.07z" fill="#4286d5"/>
<path d="M33.56,55.49h7.07v7.04h-7.07z" fill="#338dc2"/>
<path d="M39.93,55.49h7.07v7.04h-7.07z" fill="#2693b0"/>
<path d="M46.3,55.49h7.06v7.04h-7.06z" fill="#1f999f"/>
<path d="M52.66,55.49h7.07v7.04h-7.07z" fill="#1ca08e"/>
<path d="M59.03,55.49h7.06v7.04h-7.06z" fill="#1aa384"/>
<path d="M65.39,55.49h7.06v7.04h-7.06z" fill="#19a67e"/>
<path d="M71.75,55.49h7.07v7.04h-7.07z" fill="#18a77a"/>
<path d="M78.12,55.49h7.06v7.04h-7.06z" fill="#18a878"/>
<path d="M84.48,55.49h7.07v7.04h-7.07z" fill="#18a877"/>
<path d="M90.85,55.49h7.06v7.04h-7.06z" fill="#18a877"/>
<path d="M97.22,55.49h7.06v7.04h-7.06z" fill="#18a878"/>
<path d="M103.58,55.49h7.07v7.04h-7.07z" fill="#18a77a"/>
<path d="M109.95,55.49h7.06v7.04h-7.06z" fill="#19a67e"/>
<path d="M116.31,55.49h7.07v7.04h-7.07z" fill="#1aa384"/>
<path d="M122.68,55.49h7.06v7.04h-7.06z" fill="#1ca08e"/>
<path d="M129.04,55.49h7.06v7.04h-7.06z" fill="#1f999f"/>
<path d="M135.41,55.49h7.06v7.04h-7.06z" fill="#2693b0"/>
<path d="M141.77,55.49h7.06v7.04h-7.06z" fill="#338dc2"/>
<path d="M148.13,55.49h9.37v7.04h-9.37z" fill="#4286d5"/>
<path d="M24.2,61.83h10.07v7.04h-10.07z" fill="#4a82e1"/>
<path d="M33.56,61.83h7.07v7.04h-7.07z" fill="#4286d5"/>
<path d="M39.93,61.83h7.07v7.04h-7.07z" fill="#3a8acb"/>
<path d="M46.3,61.83h7.06v7.04h-7.06z" fill="#338dc2"/>
<path d="M52.66,61.83h7.07v7.04h-7.07z" fill="#2f8fbc"/>
<path d="M59.03,61.83h7.06v7.04h-7.06z" fill="#2c90b8"/>
<path d="M65.39,61.83h7.06v7.04h-7.06z" fill="#2a91b5"/>
<path d="M71.75,61.83h7.07v7.04h-7.07z" fill="#2892b3"/>
<path d="M78.12,61.83h7.06v7.04h-7.06z" fill="#2792b2"/>
<path d="M84.48,61.83h7.07v7.04h-7.07z" fill="#2793b2"/>
<path d="M90.85,61.83h7.06v7.04h-7.06z" fill="#2793b2"/>
<path d="M97.22,61.83h7.06v7.04h-7.06z" fill="#2792b2"/>
<path d="M103.58,61.83h7.07v7.04h-7.07z" fill="#2892b3"/>
<path d="M109.95,61.83h7.06v7.04h-7.06z" fill="#2a91b5"/>
<path d="M116.31,61.83h7.07v7.04h-7.07z" fill="#2c90b8"/>
<path d="M122.68,61.83h7.06v7.04h-7.06z" fill="#2f8fbc"/>
<path d="M129.04,61.83h7.06v7.04h-7.06z" fill="#338dc2"/>
<path d="M135.41,61.83h7.06v7.04h-7.06z" fill="#3a8acb"/>
<path d="M141.77,61.83h7.06v7.04h-7.06z" fill="#4286d5"/>
<path d="M148.13,61.83h9.37v7.04h-9.37z" fill="#4a82e1"/>
<path d="M24.2,68.17h10.07v7.04h-10.07z" fill="#5b87e0"/>
<path d="M33.56,68.17h7.07v7.04h-7.07z" fill="#4c81e3"/>
<path d="M39.93,68.17h7.07v7.04h-7.07z" fill="#4783dc"/>
<path d="M46.3,68.17h7.06v7.04h-7.06z" fill="#4286d6"/>
<path d="M52.66,68.17h7.07v7.04h-7.07z" fill="#3f87d2"/>
<path d="M59.03,68.17h7.06v7.04h-7.06z" fill="#3c89ce"/>
<path d="M65.39,68.17h7.06v7.04h-7.06z" fill="#3a89cc"/>
<path d="M71.75,68.17h7.07v7.04h-7.07z" fill="#398aca"/>
<path d="M78.12,68.17h7.06v7.04h-7.06z" fill="#388ac9"/>
<path d="M84.48,68.17h7.07v7.04h-7.07z" fill="#388bc8"/>
<path d="M90.85,68.17h7.06v7.04h-7.06z" fill="#388bc8"/>
<path d="M97.22,68.17h7.06v7.04h-7.06z" fill="#388ac9"/>
<path d="M103.58,68.17h7.07v7.04h-7.07z" fill="#398aca"/>
<path d="M109.95,68.17h7.06v7.04h-7.06z" fill="#3a89cc"/>
<path d="M116.31,68.17h7.07v7.04h-7.07z" fill="#3c89ce"/>
<path d="M122.68,68.17h7.06v7.04h-7.06z" fill="#3f87d2"/>
<path d="M129.04,68.17h7.06v7.04h-7.06z" fill="#4286d6"/>
<path d="M135.41,68.17h7.06v7.04h-7.06z" fill="#4783dc"/>
<path d="M141.77,68.17h7.06v7.04h-7.06z" fill="#4c81e3"/>
<path d="M148.13,68.17h9.37v7.04h-9.37z" fill="#5b87e0"/>
<path d="M24.2,74.51h10.07v7.04h-10.07z" fill="#7092d7"/>
<path d="M33.56,74.51h7.07v7.04h-7.07z" fill="#628bdd"/>
<path d="M39.93,74.51h7.07v7.04h-7.07z" fill="#5584e3"/>
<path d="M46.3,74.51h7.06v7.04h-7.06z" fill="#4d81e4"/>
<path d="M52.66,74.51h7.07v7.04h-7.07z" fill="#4a82e1"/>
<path d="M59.03,74.51h7.06v7.04h-7.06z" fill="#4883de"/>
<path d="M65.39,74.51h7.06v7.04h-7.06z" fill="#4684dc"/>
<path d="M71.75,74.51h7.07v7.04h-7.07z" fill="#4584da"/>
<path d="M78.12,74.51h7.06v7.04h-7.06z" fill="#4584d9"/>
<path d="M84.48,74.51h7.07v7.04h-7.07z" fill="#4485d9"/>
<path d="M90.85,74.51h7.06v7.04h-7.06z" fill="#4485d9"/>
<path d="M97.22,74.51h7.06v7.04h-7.06z" fill="#4584d9"/>
<path d="M103.58,74.51h7.07v7.04h-7.07z" fill="#4584da"/>
<path d="M109.95,74.51h7.06v7.04h-7.06z" fill="#4684dc"/>
<path d="M116.31,74.51h7.07v7.04h-7.07z" fill="#4883de"/>
<path d="M122.68,74.51h7.06v7.04h-7.06z" fill="#4a82e1"/>
<path d="M129.04,74.51h7.06v7.04h-7.06z" fill="#4d81e4"/>
<path d="M135.41,74.51h7.06v7.04h-7.06z" fill="#5584e3"/>
<path d="M141.77,74.51h7.06v7.04h-7.06z" fill="#628bdd"/>
<path d="M148.13,74.51h9.37v7.04h-9.37z" fill="#7092d7"/>
<path d="M24.2,80.86h10.07v7.04h-10.07z" fill="#819bd0"/>
<path d="M33.56,80.86h7.07v7.04h-7.07z" fill="#7795d4"/>
<path d="M39.93,80.86h7.07v7.04h-7.07z" fill="#6d90d9"/>
<path d="M46.3,80.86h7.06v7.04h-7.06z" fill="#658cdc"/>
<path d="M52.66,80.86h7.07v7.04h-7.07z" fill="#5d88df"/>
<path d="M59.03,80.86h7.06v7.04h-7.06z" fill="#5785e2"/>
<path d="M65.39,80.86h7.06v7.04h-7.06z" fill="#5382e4"/>
<path d="M71.75,80.86h7.07v7.04h-7.07z" fill="#4f81e5"/>
<path d="M78.12,80.86h7.06v7.04h-7.06z" fill="#4e80e6"/>
<path d="M84.48,80.86h7.07v7.04h-7.07z" fill="#4d80e5"/>
<path d="M90.85,80.86h7.06v7.04h-7.06z" fill="#4d80e5"/>
<path d="M97.22,80.86h7.06v7.04h-7.06z" fill="#4e80e6"/>
<path d="M103.58,80.86h7.07v7.04h-7.07z" fill="#4f81e5"/>
<path d="M109.95,80.86h7.06v7.04h-7.06z" fill="#5382e4"/>
<path d="M116.31,80.86h7.07v7.04h-7.07z" fill="#5785e2"/>
<path d="M122.68,80.86h7.06v7.04h-7.06z" fill="#5d88df"/>
<path d="M129.04,80.86h7.06v7.04h-7.06z" fill="#658cdc"/>
<path d="M135.41,80.86h7.06v7.04h-7.06z" fill="#6d90d9"/>
<path d="M141.77,80.86h7.06v7.04h-7.06z" fill="#7795d4"/>
<path d="M148.13,80.86h9.37v7.04h-9.37z" fill="#819bd0"/>
<path d="M24.2,87.2h10.07v7.04h-10.07z" fill="#8ea1ca"/>
<path d="M33.56,87.2h7.07v7.04h-7.07z" fill="#879dcd"/>
<path d="M39.93,87.2h7.07v7.04h-7.07z" fill="#7f9ad1"/>
<path d="M46.3,87.2h7.06v7.04h-7.06z" fill="#7996d3"/>
<path d="M52.66,87.2h7.07v7.04h-7.07z" fill="#7393d6"/>
<path d="M59.03,87.2h7.06v7.04h-7.06z" fill="#6e91d8"/>
<path d="M65.39,87.2h7.06v7.04h-7.06z" fill="#6b8fda"/>
<path d="M71.75,87.2h7.07v7.04h-7.07z" fill="#688ddb"/>
<path d="M78.12,87.2h7.06v7.04h-7.06z" fill="#668ddc"/>
<path d="M84.48,87.2h7.07v7.04h-7.07z" fill="#658cdc"/>
<path d="M90.85,87.2h7.06v7.04h-7.06z" fill="#658cdc"/>
<path d="M97.22,87.2h7.06v7.04h-7.06z" fill="#668ddc"/>
<path d="M103.58,87.2h7.07v7.04h-7.07z" fill="#688ddb"/>
<path d="M109.95,87.2h7.06v7.04h-7.06z" fill="#6b8fda"/>
<path d="M116.31,87.2h7.07v7.04h-7.07z" fill="#6e91d8"/>
<path d="M122.68,87.2h7.06v7.04h-7.06z" fill="#7393d6"/>
<path d="M129.04,87.2h7.06v7.04h-7.06z" fill="#7996d3"/>
<path d="M135.41,87.2h7.06v7.04h-7.06z" fill="#7f9ad1"/>
<path d="M141.77,87.2h7.06v7.04h-7.06z" fill="#879dcd"/>
<path d="M148.13,87.2h9.37v7.04h-9.37z" fill="#8ea1ca"/>
<path d="M24.2,93.54h10.07v7.04h-10.07z" fill="#99a7c5"/>
<path d="M33.56,93.54h7.07v7.04h-7.07z" fill="#93a4c8"/>
<path d="M39.93,93.54h7.07v7.04h-7.07z" fill="#8ea1ca"/>
<path d="M46.3,93.54h7.06v7.04h-7.06z" fill="#899ecd"/>
<path d="M52.66,93.54h7.07v7.04h-7.07z" fill="#849ccf"/>
<path d="M59.03,93.54h7.06v7.04h-7.06z" fill="#809ad0"/>
<path d="M65.39,93.54h7.06v7.04h-7.06z" fill="#7d99d2"/>
<path d="M71.75,93.54h7.07v7.04h-7.07z" fill="#7b97d3"/>
<path d="M78.12,93.54h7.06v7.04h-7.06z" fill="#7997d3"/>
<path d="M84.48,93.54h7.07v7.04h-7.07z" fill="#7996d4"/>
<path d="M90.85,93.54h7.06v7.04h-7.06z" fill="#7996d4"/>
<path d="M97.22,93.54h7.06v7.04h-7.06z" fill="#7997d3"/>
<path d="M103.58,93.54h7.07v7.04h-7.07z" fill="#7b97d3"/>
<path d="M109.95,93.54h7.06v7.04h-7.06z" fill="#7d99d2"/>
<path d="M116.31,93.54h7.07v7.04h-7.07z" fill="#809ad0"/>
<path d="M122.68,93.54h7.06v7.04h-7.06z" fill="#849ccf"/>
<path d="M129.04,93.54h7.06v7.04h-7.06z" fill="#899ecd"/>
<path d="M135.41,93.54h7.06v7.04h-7.06z" fill="#8ea1ca"/>
<path d="M141.77,93.54h7.06v7.04h-7.06z" fill="#93a4c8"/>
<path d="M148.13,93.54h9.37v7.04h-9.37z" fill="#99a7c5"/>
<path d="M24.2,99.89h10.07v7.04h-10.07z" fill="#a2acc2"/>
<path d="M33.56,99.89h7.07v7.04h-7.07z" fill="#9ea9c4"/>
<path d="M39.93,99.89h7.07v7.04h-7.07z" fill="#99a7c5"/>
<path d="M46.3,99.89h7.06v7.04h-7.06z" fill="#95a5c7"/>
<path d="M52.66,99.89h7.07v7.04h-7.07z" fill="#91a3c9"/>
<path d="M59.03,99.89h7.06v7.04h-7.06z" fill="#8ea1ca"/>
<path d="M65.39,99.89h7.06v7.04h-7.06z" fill="#8ca0cb"/>
<path d="M71.75,99.89h7.07v7.04h-7.07z" fill="#8a9fcc"/>
<path d="M78.12,99.89h7.06v7.04h-7.06z" fill="#899fcd"/>
<path d="M84.48,99.89h7.07v7.04h-7.07z" fill="#889ecd"/>
<path d="M90.85,99.89h7.06v7.04h-7.06z" fill="#889ecd"/>
<path d="M97.22,99.89h7.06v7.04h-7.06z" fill="#899fcd"/>
<path d="M103.58,99.89h7.07v7.04h-7.07z" fill="#8a9fcc"/>
<path d="M109.95,99.89h7.06v7.04h-7.06z" fill="#8ca0cb"/>
<path d="M116.31,99.89h7.07v7.04h-7.07z" fill="#8ea1ca"/>
<path d="M122.68,99.89h7.06v7.04h-7.06z" fill="#91a3c9"/>
<path d="M129.04,99.89h7.06v7.04h-7.06z" fill="#95a5c7"/>
<path d="M135.41,99.89h7.06v7.04h-7.06z" fill="#99a7c5"/>
<path d="M141.77,99.89h7.06v7.04h-7.06z" fill="#9ea9c4"/>
<path d="M148.13,99.89h9.37v7.04h-9.37z" fill="#a2acc2"/>
<path d="M24.2,106.23h10.07v7.04h-10.07z" fill="#aab0be"/>
<path d="M33.56,106.23h7.07v7.04h-7.07z" fill="#a6aec0"/>
<path d="M39.93,106.23h7.07v7.04h-7.07z" fill="#a2acc1"/>
<path d="M46.3,106.23h7.06v7.04h-7.06z" fill="#9faac3"/>
<path d="M52.66,106.23h7.07v7.04h-7.07z" fill="#9ca9c4"/>
<path d="M59.03,106.23h7.06v7.04h-7.06z" fill="#9aa7c5"/>
<path d="M65.39,106.23h7.06v7.04h-7.06z" fill="#98a6c6"/>
<path d="M71.75,106.23h7.07v7.04h-7.07z" fill="#96a6c7"/>
<path d="M78.12,106.23h7.06v7.04h-7.06z" fill="#95a5c7"/>
<path d="M84.48,106.23h7.07v7.04h-7.07z" fill="#95a5c7"/>
<path d="M90.85,106.23h7.06v7.04h-7.06z" fill="#95a5c7"/>
<path d="M97.22,106.23h7.06v7.04h-7.06z" fill="#95a5c7"/>
<path d="M103.58,106.23h7.07v7.04h-7.07z" fill="#96a6c7"/>
<path d="M109.95,106.23h7.06v7.04h-7.06z" fill="#98a6c6"/>
<path d="M116.31,106.23h7.07v7.04h-7.07z" fill="#9aa7c5"/>
<path d="M122.68,106.23h7.06v7.04h-7.06z" fill="#9ca9c4"/>
<path d="M129.04,106.23h7.06v7.04h-7.06z" fill="#9faac3"/>
<path d="M135.41,106.23h7.06v7.04h-7.06z" fill="#a2acc1"/>
<path d="M141.77,106.23h7.06v7.04h-7.06z" fill="#a6aec0"/>
<path d="M148.13,106.23h9.37v7.04h-9.37z" fill="#aab0be"/>
<path d="M24.2,112.57h10.07v7.04h-10.07z" fill="#b0b3bc"/>
<path d="M33.56,112.57h7.07v7.04h-7.07z" fill="#adb1bd"/>
<path d="M39.93,112.57h7.07v7.04h-7.07z" fill="#aab0be"/>
<path d="M46.3,112.57h7.06v7.04h-7.06z" fill="#a7aebf"/>
<path d="M52.66,112.57h7.07v7.04h-7.07z" fill="#a5adc0"/>
<path d="M59.03,112.57h7.06v7.04h-7.06z" fill="#a3acc1"/>
<path d="M65.39,112.57h7.06v7.04h-7.06z" fill="#a1abc2"/>
<path d="M71.75,112.57h7.07v7.04h-7.07z" fill="#a0abc2"/>
<path d="M78.12,112.57h7.06v7.04h-7.06z" fill="#9faac3"/>
<path d="M84.48,112.57h7.07v7.04h-7.07z" fill="#9faac3"/>
<path d="M90.85,112.57h7.06v7.04h-7.06z" fill="#9faac3"/>
<path d="M97.22,112.57h7.06v7.04h-7.06z" fill="#9faac3"/>
<path d="M103.58,112.57h7.07v7.04h-7.07z" fill="#a0abc2"/>
<path d="M109.95,112.57h7.06v7.04h-7.06z" fill="#a1abc2"/>
<path d="M116.31,112.57h7.07v7.04h-7.07z" fill="#a3acc1"/>
<path d="M122.68,112.57h7.06v7.04h-7.06z" fill="#a5adc0"/>
<path d="M129.04,112.57h7.06v7.04h-7.06z" fill="#a7aebf"/>
<path d="M135.41,112.57h7.06v7.04h-7.06z" fill="#aab0be"/>
<path d="M141.77,112.57h7.06v7.04h-7.06z" fill="#adb1bd"/>
<path d="M148.13,112.57h9.37v7.04h-9.37z" fill="#b0b3bc"/>
<path d="M24.2,118.91h10.07v7.04h-10.07z" fill="#b5b6b9"/>
<path d="M33.56,118.91h7.07v7.04h-7.07z" fill="#b3b4ba"/>
<path d="M39.93,118.91h7.07v7.04h-7.07z" fill="#b0b3bb"/>
<path d="M46.3,118.91h7.06v7.04h-7.06z" fill="#aeb2bc"/>
<path d="M52.66,118.91h7.07v7.04h-7.07z" fill="#acb1bd"/>
<path d="M59.03,118.91h7.06v7.04h-7.06z" fill="#abb0be"/>
<path d="M65.39,118.91h7.06v7.04h-7.06z" fill="#a9afbe"/>
<path d="M71.75,118.91h7.07v7.04h-7.07z" fill="#a8afbf"/>
<path d="M78.12,118.91h7.06v7.04h-7.06z" fill="#a8afbf"/>
<path d="M84.48,118.91h7.07v7.04h-7.07z" fill="#a7aebf"/>
<path d="M90.85,118.91h7.06v7.04h-7.06z" fill="#a7aebf"/>
<path d="M97.22,118.91h7.06v7.04h-7.06z" fill="#a8afbf"/>
<path d="M103.58,118.91h7.07v7.04h-7.07z" fill="#a8afbf"/>
<path d="M109.95,118.91h7.06v7.04h-7.06z" fill="#a9afbe"/>
<path d="M116.31,118.91h7.07v7.04h-7.07z" fill="#abb0be"/>
<path d="M122.68,118.91h7.06v7.04h-7.06z" fill="#acb1bd"/>
<path d="M129.04,118.91h7.06v7.04h-7.06z" fill="#aeb2bc"/>
<path d="M135.41,118.91h7.06v7.04h-7.06z" fill="#b0b3bb"/>
<path d="M141.77,118.91h7.06v7.04h-7.06z" fill="#b3b4ba"/>
<path d="M148.13,118.91h9.37v7.04h-9.37z" fill="#b5b6b9"/>
<path d="M24.2,125.26h10.07v9.34h-10.07z" fill="#acacaf"/>
<path d="M33.56,125.26h7.07v9.34h-7.07z" fill="#b2b2b4"/>
<path d="M39.93,125.26h7.07v9.34h-7.07z" fill="#b6b6b9"/>
<path d="M46.3,125.26h7.06v9.34h-7.06z" fill="#b4b5ba"/>
<path d="M52.66,125.26h7.07v9.34h-7.07z" fill="#b2b4bb"/>
<path d="M59.03,125.26h7.06v9.34h-7.06z" fill="#b1b3bb"/>
<path d="M65.39,125.26h7.06v9.34h-7.06z" fill="#b0b3bc"/>
<path d="M71.75,125.26h7.07v9.34h-7.07z" fill="#afb2bc"/>
<path d="M78.12,125.26h7.06v9.34h-7.06z" fill="#afb2bc"/>
<path d="M84.48,125.26h7.07v9.34h-7.07z" fill="#aeb2bc"/>
<path d="M90.85,125.26h7.06v9.34h-7.06z" fill="#aeb2bc"/>
<path d="M97.22,125.26h7.06v9.34h-7.06z" fill="#afb2bc"/>
<path d="M103.58,125.26h7.07v9.34h-7.07z" fill="#afb2bc"/>
<path d="M109.95,125.26h7.06v9.34h-7.06z" fill="#b0b3bc"/>
<path d="M116.31,125.26h7.07v9.34h-7.07z" fill="#b1b3bb"/>
<path d="M122.68,125.26h7.06v9.34h-7.06z" fill="#b2b4bb"/>
<path d="M129.04,125.26h7.06v9.34h-7.06z" fill="#b4b5ba"/>
<path d="M135.41,125.26h7.06v9.34h-7.06z" fill="#b6b6b9"/>
<path d="M141.77,125.26h7.06v9.34h-7.06z" fill="#b2b2b4"/>
<path d="M148.13,125.26h9.37v9.34h-9.37z" fill="#acacaf"/>
</g>
</g>
<path d="M34.00,42.80V131.60M40.80,42.80V131.60M47.60,42.80V131.60M54.40,42.80V131.60M61.20,42.80V131.60M68.00,42.80V131.60M74.80,42.80V131.60M81.60,42.80V131.60M88.40,42.80V131.60M95.20,42.80V131.60M102.00,42.80V131.60M108.80,42.80V131.60M115.60,42.80V131.60M122.40,42.80V131.60M129.20,42.80V131.60M136.00,42.80V131.60M142.80,42.80V131.60M149.60,42.80V131.60M27.20,49.63H154.50M27.20,56.46H154.50M27.20,63.29H154.50M27.20,70.12H154.50M27.20,76.95H154.50M27.20,83.78H154.50M27.20,90.62H154.50M27.20,97.45H154.50M27.20,104.28H154.50M27.20,111.11H154.50M27.20,117.94H154.50M27.20,124.77H154.50" stroke="#000" stroke-opacity="0.2" stroke-width="0.7" fill="none"/>
<rect x="27.20" y="42.80" width="127.30" height="88.80" fill="none" stroke="#000" stroke-opacity="0.3" stroke-width="0.6"/>
<rect x="37.90" y="38.10" width="106.50" height="3.7" fill="url(#wing)"/>
<g fill="none" stroke="#0c0c14" stroke-width="1.05" stroke-linejoin="round" stroke-linecap="round">
<path d="M39.7,131.6L33.5,129.2L27.2,126.1"/>
<path d="M154.5,126.1L148.2,129.2L142,131.6"/>
<path d="M154.5,66.8L153.6,67.6L150.4,70L145.4,73.1L139.6,76L133.6,78.3L126.8,80.3L119.8,81.9L112.1,83.1L104.3,83.9"/>
<path d="M84,84.2L74.8,83.7L66.3,82.7L58.7,81.3L51.2,79.3L44.5,76.9L41,75.4L38.1,74L34.6,72.1L31.9,70.3L28,67.6L27.2,66.8"/>
<path d="M150.9,42.8L150.3,45.1L149.5,47.1L148.4,48.9L147.2,50.5L145.7,51.9L143.5,53.5L141.1,54.9L138.6,56L135.9,57L132.5,57.9L128.3,58.8L124.1,59.6L115,60.6L104.5,61.1"/>
<path d="M84.2,61.2L70.8,60.9L65.9,60.6L61,60.1L56.2,59.4L52,58.6L47.9,57.5L44.5,56.5L41.2,55.1L38.7,53.9L36.5,52.3L35,51L33.2,48.9L32.2,47.1L31.4,45.1L30.9,42.8"/>
<path d="M144.3,42.9L142.6,44.5L140.1,46.1L137.3,47.2L133.6,48L129.7,48.5L123.5,48.8L104.3,49.3"/>
<path d="M84.3,49.4L58.1,48.9L53.5,48.6L49.6,48.2L45.9,47.6L42.3,46.4L39.7,45L38.5,44L37.4,42.9"/>
</g>
<g font-size="9.6" fill="#0c0c14" stroke="#0c0c14" stroke-width="0.25" text-anchor="middle">
<text x="94.1" y="52.2" textLength="17.6" lengthAdjust="spacingAndGlyphs">3.40</text>
<text x="94.1" y="64.4" textLength="17.6" lengthAdjust="spacingAndGlyphs">2.10</text>
<text x="94.1" y="87.0" textLength="17.6" lengthAdjust="spacingAndGlyphs">1.00</text>
</g>
<rect x="167.00" y="39.80" width="133.40" height="94.80" fill="#fff" stroke="#111" stroke-width="1.3"/>
<clipPath id="c8"><rect x="170.30" y="42.80" width="127.20" height="88.80"/></clipPath>
<g clip-path="url(#c8)">
<g filter="url(#bl)">
<path d="M167.3,39.8h10.06v10.04h-10.06z" fill="#91a3c9"/>
<path d="M176.66,39.8h7.06v10.04h-7.06z" fill="#2693b0"/>
<path d="M183.02,39.8h7.06v10.04h-7.06z" fill="#05d30a"/>
<path d="M189.38,39.8h7.06v10.04h-7.06z" fill="#03d706"/>
<path d="M195.74,39.8h7.06v10.04h-7.06z" fill="#02d904"/>
<path d="M202.1,39.8h7.06v10.04h-7.06z" fill="#02da04"/>
<path d="M208.46,39.8h7.06v10.04h-7.06z" fill="#02da03"/>
<path d="M214.82,39.8h7.06v10.04h-7.06z" fill="#01db03"/>
<path d="M221.18,39.8h7.06v10.04h-7.06z" fill="#01db03"/>
<path d="M227.54,39.8h7.06v10.04h-7.06z" fill="#01db03"/>
<path d="M233.9,39.8h7.06v10.04h-7.06z" fill="#01db03"/>
<path d="M240.26,39.8h7.06v10.04h-7.06z" fill="#01db03"/>
<path d="M246.62,39.8h7.06v10.04h-7.06z" fill="#01db03"/>
<path d="M252.98,39.8h7.06v10.04h-7.06z" fill="#02da03"/>
<path d="M259.34,39.8h7.06v10.04h-7.06z" fill="#02da04"/>
<path d="M265.7,39.8h7.06v10.04h-7.06z" fill="#02d904"/>
<path d="M272.06,39.8h7.06v10.04h-7.06z" fill="#03d706"/>
<path d="M278.42,39.8h7.06v10.04h-7.06z" fill="#05d30a"/>
<path d="M284.78,39.8h7.06v10.04h-7.06z" fill="#2693b0"/>
<path d="M291.14,39.8h9.36v10.04h-9.36z" fill="#91a3c9"/>
<path d="M167.3,49.14h10.06v7.04h-10.06z" fill="#5a86e1"/>
<path d="M176.66,49.14h7.06v7.04h-7.06z" fill="#2b91b6"/>
<path d="M183.02,49.14h7.06v7.04h-7.06z" fill="#0fbc42"/>
<path d="M189.38,49.14h7.06v7.04h-7.06z" fill="#05d20a"/>
<path d="M195.74,49.14h7.06v7.04h-7.06z" fill="#04d408"/>
<path d="M202.1,49.14h7.06v7.04h-7.06z" fill="#03d607"/>
<path d="M208.46,49.14h7.06v7.04h-7.06z" fill="#03d706"/>
<path d="M214.82,49.14h7.06v7.04h-7.06z" fill="#03d706"/>
<path d="M221.18,49.14h7.06v7.04h-7.06z" fill="#03d805"/>
<path d="M227.54,49.14h7.06v7.04h-7.06z" fill="#03d805"/>
<path d="M233.9,49.14h7.06v7.04h-7.06z" fill="#03d805"/>
<path d="M240.26,49.14h7.06v7.04h-7.06z" fill="#03d805"/>
<path d="M246.62,49.14h7.06v7.04h-7.06z" fill="#03d706"/>
<path d="M252.98,49.14h7.06v7.04h-7.06z" fill="#03d706"/>
<path d="M259.34,49.14h7.06v7.04h-7.06z" fill="#03d607"/>
<path d="M265.7,49.14h7.06v7.04h-7.06z" fill="#04d408"/>
<path d="M272.06,49.14h7.06v7.04h-7.06z" fill="#05d20a"/>
<path d="M278.42,49.14h7.06v7.04h-7.06z" fill="#0fbc42"/>
<path d="M284.78,49.14h7.06v7.04h-7.06z" fill="#2b91b6"/>
<path d="M291.14,49.14h9.36v7.04h-9.36z" fill="#5a86e1"/>
<path d="M167.3,55.49h10.06v7.04h-10.06z" fill="#4b81e2"/>
<path d="M176.66,55.49h7.06v7.04h-7.06z" fill="#2f8fbd"/>
<path d="M183.02,55.49h7.06v7.04h-7.06z" fill="#19a57f"/>
<path d="M189.38,55.49h7.06v7.04h-7.06z" fill="#0cc232"/>
<path d="M195.74,55.49h7.06v7.04h-7.06z" fill="#06d10b"/>
<path d="M202.1,55.49h7.06v7.04h-7.06z" fill="#05d20a"/>
<path d="M208.46,55.49h7.06v7.04h-7.06z" fill="#04d409"/>
<path d="M214.82,55.49h7.06v7.04h-7.06z" fill="#04d408"/>
<path d="M221.18,55.49h7.06v7.04h-7.06z" fill="#04d508"/>
<path d="M227.54,55.49h7.06v7.04h-7.06z" fill="#04d508"/>
<path d="M233.9,55.49h7.06v7.04h-7.06z" fill="#04d508"/>
<path d="M240.26,55.49h7.06v7.04h-7.06z" fill="#04d508"/>
<path d="M246.62,55.49h7.06v7.04h-7.06z" fill="#04d408"/>
<path d="M252.98,55.49h7.06v7.04h-7.06z" fill="#04d409"/>
<path d="M259.34,55.49h7.06v7.04h-7.06z" fill="#05d20a"/>
<path d="M265.7,55.49h7.06v7.04h-7.06z" fill="#06d10b"/>
<path d="M272.06,55.49h7.06v7.04h-7.06z" fill="#0cc232"/>
<path d="M278.42,55.49h7.06v7.04h-7.06z" fill="#19a57f"/>
<path d="M284.78,55.49h7.06v7.04h-7.06z" fill="#2f8fbd"/>
<path d="M291.14,55.49h9.36v7.04h-9.36z" fill="#4b81e2"/>
<path d="M167.3,61.83h10.06v7.04h-10.06z" fill="#4982df"/>
<path d="M176.66,61.83h7.06v7.04h-7.06z" fill="#348cc3"/>
<path d="M183.02,61.83h7.06v7.04h-7.06z" fill="#2096a7"/>
<path d="M189.38,61.83h7.06v7.04h-7.06z" fill="#16ad6a"/>
<path d="M195.74,61.83h7.06v7.04h-7.06z" fill="#0ebf3a"/>
<path d="M202.1,61.83h7.06v7.04h-7.06z" fill="#08cd15"/>
<path d="M208.46,61.83h7.06v7.04h-7.06z" fill="#06d10b"/>
<path d="M214.82,61.83h7.06v7.04h-7.06z" fill="#05d20b"/>
<path d="M221.18,61.83h7.06v7.04h-7.06z" fill="#05d20a"/>
<path d="M227.54,61.83h7.06v7.04h-7.06z" fill="#05d20a"/>
<path d="M233.9,61.83h7.06v7.04h-7.06z" fill="#05d20a"/>
<path d="M240.26,61.83h7.06v7.04h-7.06z" fill="#05d20a"/>
<path d="M246.62,61.83h7.06v7.04h-7.06z" fill="#05d20b"/>
<path d="M252.98,61.83h7.06v7.04h-7.06z" fill="#06d10b"/>
<path d="M259.34,61.83h7.06v7.04h-7.06z" fill="#08cd15"/>
<path d="M265.7,61.83h7.06v7.04h-7.06z" fill="#0ebf3a"/>
<path d="M272.06,61.83h7.06v7.04h-7.06z" fill="#16ad6a"/>
<path d="M278.42,61.83h7.06v7.04h-7.06z" fill="#2096a7"/>
<path d="M284.78,61.83h7.06v7.04h-7.06z" fill="#348cc3"/>
<path d="M291.14,61.83h9.36v7.04h-9.36z" fill="#4982df"/>
<path d="M167.3,68.17h10.06v7.04h-10.06z" fill="#4982e0"/>
<path d="M176.66,68.17h7.06v7.04h-7.06z" fill="#398aca"/>
<path d="M183.02,68.17h7.06v7.04h-7.06z" fill="#2992b4"/>
<path d="M189.38,68.17h7.06v7.04h-7.06z" fill="#1d9d95"/>
<path d="M195.74,68.17h7.06v7.04h-7.06z" fill="#16ac6c"/>
<path d="M202.1,68.17h7.06v7.04h-7.06z" fill="#10b94b"/>
<path d="M208.46,68.17h7.06v7.04h-7.06z" fill="#0cc232"/>
<path d="M214.82,68.17h7.06v7.04h-7.06z" fill="#09c820"/>
<path d="M221.18,68.17h7.06v7.04h-7.06z" fill="#08cd15"/>
<path d="M227.54,68.17h7.06v7.04h-7.06z" fill="#07cf10"/>
<path d="M233.9,68.17h7.06v7.04h-7.06z" fill="#07cf10"/>
<path d="M240.26,68.17h7.06v7.04h-7.06z" fill="#08cd15"/>
<path d="M246.62,68.17h7.06v7.04h-7.06z" fill="#09c820"/>
<path d="M252.98,68.17h7.06v7.04h-7.06z" fill="#0cc232"/>
<path d="M259.34,68.17h7.06v7.04h-7.06z" fill="#10b94b"/>
<path d="M265.7,68.17h7.06v7.04h-7.06z" fill="#16ac6c"/>
<path d="M272.06,68.17h7.06v7.04h-7.06z" fill="#1d9d95"/>
<path d="M278.42,68.17h7.06v7.04h-7.06z" fill="#2992b4"/>
<path d="M284.78,68.17h7.06v7.04h-7.06z" fill="#398aca"/>
<path d="M291.14,68.17h9.36v7.04h-9.36z" fill="#4982e0"/>
<path d="M167.3,74.51h10.06v7.04h-10.06z" fill="#4b82e2"/>
<path d="M176.66,74.51h7.06v7.04h-7.06z" fill="#3e88d0"/>
<path d="M183.02,74.51h7.06v7.04h-7.06z" fill="#318ebf"/>
<path d="M189.38,74.51h7.06v7.04h-7.06z" fill="#2594af"/>
<path d="M195.74,74.51h7.06v7.04h-7.06z" fill="#1d9d95"/>
<path d="M202.1,74.51h7.06v7.04h-7.06z" fill="#18a878"/>
<path d="M208.46,74.51h7.06v7.04h-7.06z" fill="#14b062"/>
<path d="M214.82,74.51h7.06v7.04h-7.06z" fill="#12b651"/>
<path d="M221.18,74.51h7.06v7.04h-7.06z" fill="#10ba46"/>
<path d="M227.54,74.51h7.06v7.04h-7.06z" fill="#0fbc41"/>
<path d="M233.9,74.51h7.06v7.04h-7.06z" fill="#0fbc41"/>
<path d="M240.26,74.51h7.06v7.04h-7.06z" fill="#10ba46"/>
<path d="M246.62,74.51h7.06v7.04h-7.06z" fill="#12b651"/>
<path d="M252.98,74.51h7.06v7.04h-7.06z" fill="#14b062"/>
<path d="M259.34,74.51h7.06v7.04h-7.06z" fill="#18a878"/>
<path d="M265.7,74.51h7.06v7.04h-7.06z" fill="#1d9d95"/>
<path d="M272.06,74.51h7.06v7.04h-7.06z" fill="#2594af"/>
<path d="M278.42,74.51h7.06v7.04h-7.06z" fill="#318ebf"/>
<path d="M284.78,74.51h7.06v7.04h-7.06z" fill="#3e88d0"/>
<path d="M291.14,74.51h9.36v7.04h-9.36z" fill="#4b82e2"/>
<path d="M167.3,80.86h10.06v7.04h-10.06z" fill="#4d80e5"/>
<path d="M176.66,80.86h7.06v7.04h-7.06z" fill="#4286d6"/>
<path d="M183.02,80.86h7.06v7.04h-7.06z" fill="#388bc8"/>
<path d="M189.38,80.86h7.06v7.04h-7.06z" fill="#2e8fba"/>
<path d="M195.74,80.86h7.06v7.04h-7.06z" fill="#2594af"/>
<path d="M202.1,80.86h7.06v7.04h-7.06z" fill="#1f999f"/>
<path d="M208.46,80.86h7.06v7.04h-7.06z" fill="#1ba18b"/>
<path d="M214.82,80.86h7.06v7.04h-7.06z" fill="#19a67c"/>
<path d="M221.18,80.86h7.06v7.04h-7.06z" fill="#17aa72"/>
<path d="M227.54,80.86h7.06v7.04h-7.06z" fill="#16ac6e"/>
<path d="M233.9,80.86h7.06v7.04h-7.06z" fill="#16ac6e"/>
<path d="M240.26,80.86h7.06v7.04h-7.06z" fill="#17aa72"/>
<path d="M246.62,80.86h7.06v7.04h-7.06z" fill="#19a67c"/>
<path d="M252.98,80.86h7.06v7.04h-7.06z" fill="#1ba18b"/>
<path d="M259.34,80.86h7.06v7.04h-7.06z" fill="#1f999f"/>
<path d="M265.7,80.86h7.06v7.04h-7.06z" fill="#2594af"/>
<path d="M272.06,80.86h7.06v7.04h-7.06z" fill="#2e8fba"/>
<path d="M278.42,80.86h7.06v7.04h-7.06z" fill="#388bc8"/>
<path d="M284.78,80.86h7.06v7.04h-7.06z" fill="#4286d6"/>
<path d="M291.14,80.86h9.36v7.04h-9.36z" fill="#4d80e5"/>
<path d="M167.3,87.2h10.06v7.04h-10.06z" fill="#5282e4"/>
<path d="M176.66,87.2h7.06v7.04h-7.06z" fill="#4784dc"/>
<path d="M183.02,87.2h7.06v7.04h-7.06z" fill="#3e88d0"/>
<path d="M189.38,87.2h7.06v7.04h-7.06z" fill="#358cc5"/>
<path d="M195.74,87.2h7.06v7.04h-7.06z" fill="#2e8fbb"/>
<path d="M202.1,87.2h7.06v7.04h-7.06z" fill="#2792b2"/>
<path d="M208.46,87.2h7.06v7.04h-7.06z" fill="#2295ab"/>
<path d="M214.82,87.2h7.06v7.04h-7.06z" fill="#1f98a2"/>
<path d="M221.18,87.2h7.06v7.04h-7.06z" fill="#1e9b99"/>
<path d="M227.54,87.2h7.06v7.04h-7.06z" fill="#1d9d95"/>
<path d="M233.9,87.2h7.06v7.04h-7.06z" fill="#1d9d95"/>
<path d="M240.26,87.2h7.06v7.04h-7.06z" fill="#1e9b99"/>
<path d="M246.62,87.2h7.06v7.04h-7.06z" fill="#1f98a2"/>
<path d="M252.98,87.2h7.06v7.04h-7.06z" fill="#2295ab"/>
<path d="M259.34,87.2h7.06v7.04h-7.06z" fill="#2792b2"/>
<path d="M265.7,87.2h7.06v7.04h-7.06z" fill="#2e8fbb"/>
<path d="M272.06,87.2h7.06v7.04h-7.06z" fill="#358cc5"/>
<path d="M278.42,87.2h7.06v7.04h-7.06z" fill="#3e88d0"/>
<path d="M284.78,87.2h7.06v7.04h-7.06z" fill="#4784dc"/>
<path d="M291.14,87.2h9.36v7.04h-9.36z" fill="#5282e4"/>
<path d="M167.3,93.54h10.06v7.04h-10.06z" fill="#5885e2"/>
<path d="M176.66,93.54h7.06v7.04h-7.06z" fill="#4b82e2"/>
<path d="M183.02,93.54h7.06v7.04h-7.06z" fill="#4385d7"/>
<path d="M189.38,93.54h7.06v7.04h-7.06z" fill="#3c89ce"/>
<path d="M195.74,93.54h7.06v7.04h-7.06z" fill="#368cc5"/>
<path d="M202.1,93.54h7.06v7.04h-7.06z" fill="#308ebe"/>
<path d="M208.46,93.54h7.06v7.04h-7.06z" fill="#2c90b8"/>
<path d="M214.82,93.54h7.06v7.04h-7.06z" fill="#2892b3"/>
<path d="M221.18,93.54h7.06v7.04h-7.06z" fill="#2693b0"/>
<path d="M227.54,93.54h7.06v7.04h-7.06z" fill="#2594ae"/>
<path d="M233.9,93.54h7.06v7.04h-7.06z" fill="#2594ae"/>
<path d="M240.26,93.54h7.06v7.04h-7.06z" fill="#2693b0"/>
<path d="M246.62,93.54h7.06v7.04h-7.06z" fill="#2892b3"/>
<path d="M252.98,93.54h7.06v7.04h-7.06z" fill="#2c90b8"/>
<path d="M259.34,93.54h7.06v7.04h-7.06z" fill="#308ebe"/>
<path d="M265.7,93.54h7.06v7.04h-7.06z" fill="#368cc5"/>
<path d="M272.06,93.54h7.06v7.04h-7.06z" fill="#3c89ce"/>
<path d="M278.42,93.54h7.06v7.04h-7.06z" fill="#4385d7"/>
<path d="M284.78,93.54h7.06v7.04h-7.06z" fill="#4b82e2"/>
<path d="M291.14,93.54h9.36v7.04h-9.36z" fill="#5885e2"/>
<path d="M167.3,99.89h10.06v7.04h-10.06z" fill="#5e89df"/>
<path d="M176.66,99.89h7.06v7.04h-7.06z" fill="#4f81e5"/>
<path d="M183.02,99.89h7.06v7.04h-7.06z" fill="#4883de"/>
<path d="M189.38,99.89h7.06v7.04h-7.06z" fill="#4286d6"/>
<path d="M195.74,99.89h7.06v7.04h-7.06z" fill="#3d88cf"/>
<path d="M202.1,99.89h7.06v7.04h-7.06z" fill="#388bc8"/>
<path d="M208.46,99.89h7.06v7.04h-7.06z" fill="#348cc3"/>
<path d="M214.82,99.89h7.06v7.04h-7.06z" fill="#318ebf"/>
<path d="M221.18,99.89h7.06v7.04h-7.06z" fill="#2f8fbc"/>
<path d="M227.54,99.89h7.06v7.04h-7.06z" fill="#2e8fbb"/>
<path d="M233.9,99.89h7.06v7.04h-7.06z" fill="#2e8fbb"/>
<path d="M240.26,99.89h7.06v7.04h-7.06z" fill="#2f8fbc"/>
<path d="M246.62,99.89h7.06v7.04h-7.06z" fill="#318ebf"/>
<path d="M252.98,99.89h7.06v7.04h-7.06z" fill="#348cc3"/>
<path d="M259.34,99.89h7.06v7.04h-7.06z" fill="#388bc8"/>
<path d="M265.7,99.89h7.06v7.04h-7.06z" fill="#3d88cf"/>
<path d="M272.06,99.89h7.06v7.04h-7.06z" fill="#4286d6"/>
<path d="M278.42,99.89h7.06v7.04h-7.06z" fill="#4883de"/>
<path d="M284.78,99.89h7.06v7.04h-7.06z" fill="#4f81e5"/>
<path d="M291.14,99.89h9.36v7.04h-9.36z" fill="#5e89df"/>
<path d="M167.3,106.23h10.06v7.04h-10.06z" fill="#658cdc"/>
<path d="M176.66,106.23h7.06v7.04h-7.06z" fill="#5885e2"/>
<path d="M183.02,106.23h7.06v7.04h-7.06z" fill="#4d81e4"/>
<path d="M189.38,106.23h7.06v7.04h-7.06z" fill="#4883dd"/>
<path d="M195.74,106.23h7.06v7.04h-7.06z" fill="#4385d7"/>
<path d="M202.1,106.23h7.06v7.04h-7.06z" fill="#3f87d1"/>
<path d="M208.46,106.23h7.06v7.04h-7.06z" fill="#3b89cd"/>
<path d="M214.82,106.23h7.06v7.04h-7.06z" fill="#398ac9"/>
<path d="M221.18,106.23h7.06v7.04h-7.06z" fill="#378bc7"/>
<path d="M227.54,106.23h7.06v7.04h-7.06z" fill="#368bc6"/>
<path d="M233.9,106.23h7.06v7.04h-7.06z" fill="#368bc6"/>
<path d="M240.26,106.23h7.06v7.04h-7.06z" fill="#378bc7"/>
<path d="M246.62,106.23h7.06v7.04h-7.06z" fill="#398ac9"/>
<path d="M252.98,106.23h7.06v7.04h-7.06z" fill="#3b89cd"/>
<path d="M259.34,106.23h7.06v7.04h-7.06z" fill="#3f87d1"/>
<path d="M265.7,106.23h7.06v7.04h-7.06z" fill="#4385d7"/>
<path d="M272.06,106.23h7.06v7.04h-7.06z" fill="#4883dd"/>
<path d="M278.42,106.23h7.06v7.04h-7.06z" fill="#4d81e4"/>
<path d="M284.78,106.23h7.06v7.04h-7.06z" fill="#5885e2"/>
<path d="M291.14,106.23h9.36v7.04h-9.36z" fill="#658cdc"/>
<path d="M167.3,112.57h10.06v7.04h-10.06z" fill="#6b8fd9"/>
<path d="M176.66,112.57h7.06v7.04h-7.06z" fill="#6089de"/>
<path d="M183.02,112.57h7.06v7.04h-7.06z" fill="#5584e3"/>
<path d="M189.38,112.57h7.06v7.04h-7.06z" fill="#4d81e4"/>
<path d="M195.74,112.57h7.06v7.04h-7.06z" fill="#4983df"/>
<path d="M202.1,112.57h7.06v7.04h-7.06z" fill="#4584da"/>
<path d="M208.46,112.57h7.06v7.04h-7.06z" fill="#4286d6"/>
<path d="M214.82,112.57h7.06v7.04h-7.06z" fill="#4087d3"/>
<path d="M221.18,112.57h7.06v7.04h-7.06z" fill="#3e88d1"/>
<path d="M227.54,112.57h7.06v7.04h-7.06z" fill="#3d88d0"/>
<path d="M233.9,112.57h7.06v7.04h-7.06z" fill="#3d88d0"/>
<path d="M240.26,112.57h7.06v7.04h-7.06z" fill="#3e88d1"/>
<path d="M246.62,112.57h7.06v7.04h-7.06z" fill="#4087d3"/>
<path d="M252.98,112.57h7.06v7.04h-7.06z" fill="#4286d6"/>
<path d="M259.34,112.57h7.06v7.04h-7.06z" fill="#4584da"/>
<path d="M265.7,112.57h7.06v7.04h-7.06z" fill="#4983df"/>
<path d="M272.06,112.57h7.06v7.04h-7.06z" fill="#4d81e4"/>
<path d="M278.42,112.57h7.06v7.04h-7.06z" fill="#5584e3"/>
<path d="M284.78,112.57h7.06v7.04h-7.06z" fill="#6089de"/>
<path d="M291.14,112.57h9.36v7.04h-9.36z" fill="#6b8fd9"/>
<path d="M167.3,118.91h10.06v7.04h-10.06z" fill="#7192d7"/>
<path d="M176.66,118.91h7.06v7.04h-7.06z" fill="#678ddb"/>
<path d="M183.02,118.91h7.06v7.04h-7.06z" fill="#5e88df"/>
<path d="M189.38,118.91h7.06v7.04h-7.06z" fill="#5584e3"/>
<path d="M195.74,118.91h7.06v7.04h-7.06z" fill="#4e80e5"/>
<path d="M202.1,118.91h7.06v7.04h-7.06z" fill="#4b82e1"/>
<path d="M208.46,118.91h7.06v7.04h-7.06z" fill="#4883de"/>
<path d="M214.82,118.91h7.06v7.04h-7.06z" fill="#4684db"/>
<path d="M221.18,118.91h7.06v7.04h-7.06z" fill="#4584d9"/>
<path d="M227.54,118.91h7.06v7.04h-7.06z" fill="#4485d9"/>
<path d="M233.9,118.91h7.06v7.04h-7.06z" fill="#4485d9"/>
<path d="M240.26,118.91h7.06v7.04h-7.06z" fill="#4584d9"/>
<path d="M246.62,118.91h7.06v7.04h-7.06z" fill="#4684db"/>
<path d="M252.98,118.91h7.06v7.04h-7.06z" fill="#4883de"/>
<path d="M259.34,118.91h7.06v7.04h-7.06z" fill="#4b82e1"/>
<path d="M265.7,118.91h7.06v7.04h-7.06z" fill="#4e80e5"/>
<path d="M272.06,118.91h7.06v7.04h-7.06z" fill="#5584e3"/>
<path d="M278.42,118.91h7.06v7.04h-7.06z" fill="#5e88df"/>
<path d="M284.78,118.91h7.06v7.04h-7.06z" fill="#678ddb"/>
<path d="M291.14,118.91h9.36v7.04h-9.36z" fill="#7192d7"/>
<path d="M167.3,125.26h10.06v9.34h-10.06z" fill="#7795d4"/>
<path d="M176.66,125.26h7.06v9.34h-7.06z" fill="#6f91d8"/>
<path d="M183.02,125.26h7.06v9.34h-7.06z" fill="#668ddb"/>
<path d="M189.38,125.26h7.06v9.34h-7.06z" fill="#5f89df"/>
<path d="M195.74,125.26h7.06v9.34h-7.06z" fill="#5885e2"/>
<path d="M202.1,125.26h7.06v9.34h-7.06z" fill="#5282e4"/>
<path d="M208.46,125.26h7.06v9.34h-7.06z" fill="#4d80e5"/>
<path d="M214.82,125.26h7.06v9.34h-7.06z" fill="#4c81e3"/>
<path d="M221.18,125.26h7.06v9.34h-7.06z" fill="#4b82e1"/>
<path d="M227.54,125.26h7.06v9.34h-7.06z" fill="#4a82e1"/>
<path d="M233.9,125.26h7.06v9.34h-7.06z" fill="#4a82e1"/>
<path d="M240.26,125.26h7.06v9.34h-7.06z" fill="#4b82e1"/>
<path d="M246.62,125.26h7.06v9.34h-7.06z" fill="#4c81e3"/>
<path d="M252.98,125.26h7.06v9.34h-7.06z" fill="#4d80e5"/>
<path d="M259.34,125.26h7.06v9.34h-7.06z" fill="#5282e4"/>
<path d="M265.7,125.26h7.06v9.34h-7.06z" fill="#5885e2"/>
<path d="M272.06,125.26h7.06v9.34h-7.06z" fill="#5f89df"/>
<path d="M278.42,125.26h7.06v9.34h-7.06z" fill="#668ddb"/>
<path d="M284.78,125.26h7.06v9.34h-7.06z" fill="#6f91d8"/>
<path d="M291.14,125.26h9.36v9.34h-9.36z" fill="#7795d4"/>
</g>
</g>
<path d="M177.10,42.80V131.60M183.90,42.80V131.60M190.70,42.80V131.60M197.50,42.80V131.60M204.30,42.80V131.60M211.10,42.80V131.60M217.90,42.80V131.60M224.70,42.80V131.60M231.50,42.80V131.60M238.30,42.80V131.60M245.10,42.80V131.60M251.90,42.80V131.60M258.70,42.80V131.60M265.50,42.80V131.60M272.30,42.80V131.60M279.10,42.80V131.60M285.90,42.80V131.60M292.70,42.80V131.60M170.30,49.63H297.50M170.30,56.46H297.50M170.30,63.29H297.50M170.30,70.12H297.50M170.30,76.95H297.50M170.30,83.78H297.50M170.30,90.62H297.50M170.30,97.45H297.50M170.30,104.28H297.50M170.30,111.11H297.50M170.30,117.94H297.50M170.30,124.77H297.50" stroke="#000" stroke-opacity="0.2" stroke-width="0.7" fill="none"/>
<rect x="170.30" y="42.80" width="127.20" height="88.80" fill="none" stroke="#000" stroke-opacity="0.3" stroke-width="0.6"/>
<rect x="180.30" y="38.10" width="105.70" height="3.7" fill="url(#wing)"/>
<g fill="none" stroke="#0c0c14" stroke-width="1.05" stroke-linejoin="round" stroke-linecap="round">
<path d="M294.7,42.8L296.3,48.2L297.5,54.1"/>
<path d="M170.3,54.1L171.4,48.5L173.1,42.8"/>
<path d="M297.5,86.2L295.8,92L293.7,97.5L291,102.9L287.8,108"/>
<path d="M281.9,115.5L279.5,118.1L276.9,120.5L274.1,122.8L271.2,125L268.3,127L265.2,128.8L262,130.4L259.3,131.6"/>
<path d="M208.5,131.6L205.8,130.4L202.6,128.8L199.5,127L196.6,125L193.7,122.8L190.9,120.5L188.3,118.1L185.9,115.5"/>
<path d="M180,108L176.8,102.9L174.1,97.5L172,92L170.3,86.2"/>
<path d="M290.1,42.8L289.5,47.3L288.6,51.8L287.3,56.2L285.6,60.5L283.5,64.6L281.2,68.6L278.5,72.3L275.5,75.8L272.3,79.1L268.8,82.1L265,84.8L261.1,87.2L257,89.2L252.1,91.2L247.7,92.5L243.3,93.5"/>
<path d="M230.3,94.3L225.8,93.8L220.7,92.7L215.7,91.2L210.8,89.2L206.2,86.8L201.7,84L197.6,80.8L194.2,77.7L190.6,73.8L187.3,69.7L184.5,65.3L182.4,61.2L180.4,56.3L179.1,51.9L178.3,47.3L177.8,42.8"/>
<path d="M285.9,42.8L285.5,44.1L284.9,45.2L284.2,46.2L282.9,47.6L274.9,55L271.9,57.3L268.2,59.9L265.5,61.5L262.6,63L256.8,65.6L250.7,67.5L244.4,68.9"/>
<path d="M227.2,69.4L224,69L220.9,68.4L217.7,67.7L214.1,66.6L211,65.5L207.5,64.1L204,62.4L201.2,60.8L195.9,57.4L193.3,55.4L190.9,53.3L184,46.7L182.6,44.7L181.9,42.8"/>
</g>
<g font-size="9.6" fill="#0c0c14" stroke="#0c0c14" stroke-width="0.25" text-anchor="middle">
<text x="235.9" y="72.3" textLength="15.2" lengthAdjust="spacingAndGlyphs">120</text>
<text x="236.9" y="97.8" textLength="10.1" lengthAdjust="spacingAndGlyphs">90</text>
<text x="184.0" y="115.3" textLength="10.1" lengthAdjust="spacingAndGlyphs">60</text>
<text x="283.6" y="115.3" textLength="10.1" lengthAdjust="spacingAndGlyphs">60</text>
</g>
<rect x="309.20" y="39.90" width="133.60" height="56.20" fill="#fff" stroke="#111" stroke-width="1.3"/>
<rect x="441.2" y="46.40" width="3" height="44.50" fill="#d2d2d2"/>
<clipPath id="c9"><rect x="313.90" y="53.90" width="124.50" height="28.50"/></clipPath>
<g clip-path="url(#c9)">
<g filter="url(#bl)">
<path d="M310.9,50.9h12.59v13.2h-12.59z" fill="#8c8c8e"/>
<path d="M322.79,50.9h9.59v13.2h-9.59z" fill="#929294"/>
<path d="M331.69,50.9h9.59v13.2h-9.59z" fill="#98989b"/>
<path d="M340.58,50.9h9.59v13.2h-9.59z" fill="#a0a0a3"/>
<path d="M349.47,50.9h9.59v13.2h-9.59z" fill="#aaaaad"/>
<path d="M358.36,50.9h9.59v13.2h-9.59z" fill="#b5b5b8"/>
<path d="M367.26,50.9h9.59v13.2h-9.59z" fill="#abb0be"/>
<path d="M376.15,50.9h9.59v13.2h-9.59z" fill="#9ca9c4"/>
<path d="M385.04,50.9h9.59v13.2h-9.59z" fill="#899fcc"/>
<path d="M393.94,50.9h9.59v13.2h-9.59z" fill="#7192d7"/>
<path d="M402.83,50.9h9.59v13.2h-9.59z" fill="#4f81e5"/>
<path d="M411.72,50.9h9.59v13.2h-9.59z" fill="#3a8acb"/>
<path d="M420.61,50.9h9.59v13.2h-9.59z" fill="#1d9d96"/>
<path d="M429.51,50.9h11.89v13.2h-11.89z" fill="#05d10b"/>
<path d="M310.9,63.4h12.59v10.2h-12.59z" fill="#8c8c8e"/>
<path d="M322.79,63.4h9.59v10.2h-9.59z" fill="#929294"/>
<path d="M331.69,63.4h9.59v10.2h-9.59z" fill="#99999b"/>
<path d="M340.58,63.4h9.59v10.2h-9.59z" fill="#a1a1a4"/>
<path d="M349.47,63.4h9.59v10.2h-9.59z" fill="#ababae"/>
<path d="M358.36,63.4h9.59v10.2h-9.59z" fill="#b5b6b9"/>
<path d="M367.26,63.4h9.59v10.2h-9.59z" fill="#a9afbf"/>
<path d="M376.15,63.4h9.59v10.2h-9.59z" fill="#99a7c5"/>
<path d="M385.04,63.4h9.59v10.2h-9.59z" fill="#859dce"/>
<path d="M393.94,63.4h9.59v10.2h-9.59z" fill="#6b8fda"/>
<path d="M402.83,63.4h9.59v10.2h-9.59z" fill="#4a82e1"/>
<path d="M411.72,63.4h9.59v10.2h-9.59z" fill="#338dc1"/>
<path d="M420.61,63.4h9.59v10.2h-9.59z" fill="#17ab70"/>
<path d="M429.51,63.4h11.89v10.2h-11.89z" fill="#05d309"/>
<path d="M310.9,72.9h12.59v12.5h-12.59z" fill="#8c8c8e"/>
<path d="M322.79,72.9h9.59v12.5h-9.59z" fill="#929294"/>
<path d="M331.69,72.9h9.59v12.5h-9.59z" fill="#99999b"/>
<path d="M340.58,72.9h9.59v12.5h-9.59z" fill="#a1a1a3"/>
<path d="M349.47,72.9h9.59v12.5h-9.59z" fill="#aaaaad"/>
<path d="M358.36,72.9h9.59v12.5h-9.59z" fill="#b6b6b9"/>
<path d="M367.26,72.9h9.59v12.5h-9.59z" fill="#aab0be"/>
<path d="M376.15,72.9h9.59v12.5h-9.59z" fill="#9ca8c4"/>
<path d="M385.04,72.9h9.59v12.5h-9.59z" fill="#899ecd"/>
<path d="M393.94,72.9h9.59v12.5h-9.59z" fill="#7091d7"/>
<path d="M402.83,72.9h9.59v12.5h-9.59z" fill="#4e80e6"/>
<path d="M411.72,72.9h9.59v12.5h-9.59z" fill="#388ac9"/>
<path d="M420.61,72.9h9.59v12.5h-9.59z" fill="#1c9f8f"/>
<path d="M429.51,72.9h11.89v12.5h-11.89z" fill="#05d20a"/>
</g>
</g>
<path d="M322.79,53.90V82.40M331.69,53.90V82.40M340.58,53.90V82.40M349.47,53.90V82.40M358.36,53.90V82.40M367.26,53.90V82.40M376.15,53.90V82.40M385.04,53.90V82.40M393.94,53.90V82.40M402.83,53.90V82.40M411.72,53.90V82.40M420.61,53.90V82.40M429.51,53.90V82.40M313.90,63.40H438.40M313.90,72.90H438.40" stroke="#000" stroke-opacity="0.13" stroke-width="0.7" fill="none"/>
<rect x="313.90" y="53.90" width="124.50" height="28.50" fill="none" stroke="#000" stroke-opacity="0.3" stroke-width="0.6"/>
<g fill="none" stroke="#0c0c14" stroke-width="1.05" stroke-linejoin="round" stroke-linecap="round">
<path d="M362.2,82.4L361.6,77.3L361.3,72.2"/>
<path d="M361.4,63.4L361.8,59L362.4,53.9"/>
<path d="M409.5,82.4L408.6,80.2L407.7,77.2L407.4,75L407.2,72.1"/>
<path d="M408.3,63.4L409.4,57.6L410,53.9"/>
<path d="M426.6,82.4L425.2,77.3L424.5,72.1"/>
<path d="M424.6,64.1L425.6,59L427.2,53.9"/>
<path d="M436.1,82.4L435,77.3L434.4,72.1"/>
<path d="M434.5,64.1L435.3,59L436.6,53.9"/>
</g>
<g font-size="9.6" fill="#0c0c14" stroke="#0c0c14" stroke-width="0.25" text-anchor="middle">
<text x="361.1" y="71.3" textLength="10.1" lengthAdjust="spacingAndGlyphs">30</text>
<text x="407.5" y="71.3" textLength="10.1" lengthAdjust="spacingAndGlyphs">60</text>
<text x="424.4" y="71.3" textLength="10.1" lengthAdjust="spacingAndGlyphs">90</text>
<text x="435.7" y="71.3" textLength="15.2" lengthAdjust="spacingAndGlyphs">120</text>
</g>
<path d="M450.9,48.5V89.3" stroke="#8a8a8a" stroke-width="0.8" stroke-dasharray="3 2.2" fill="none"/>
<path d="M448.3,47.0h5.6M448.3,90.3h5.6" stroke="#333" stroke-width="1" fill="none"/>
<text x="467" y="65.8" font-size="8.6" text-anchor="middle" fill="#111" textLength="28" lengthAdjust="spacingAndGlyphs">window</text>
<text x="467.2" y="76.4" font-size="8.6" text-anchor="middle" fill="#111" textLength="22.4" lengthAdjust="spacingAndGlyphs">height</text>
<text x="310.5" y="109.2" font-size="8.1" font-weight="bold" fill="#000" stroke="#000" stroke-width="0.2" textLength="41.1" lengthAdjust="spacingAndGlyphs">WWR=60%</text>
<path d="M310.5,110.7h41.1" stroke="#111" stroke-width="0.9"/>
<text x="310.5" y="120.0" font-size="8.1" fill="#111" textLength="43" lengthAdjust="spacingAndGlyphs">WFR=25.7%</text>
<text x="310.5" y="130.4" font-size="8.1" fill="#111" textLength="44" lengthAdjust="spacingAndGlyphs">WWLR=80%</text>
<text x="310.5" y="140.8" font-size="8.1" fill="#111" textLength="45.9" lengthAdjust="spacingAndGlyphs">WWHR=75%</text>
<path d="M378.5,123.3L409.7,105.2L431.2,117.9L400.3,136.2ZM378.5,123.3L378.5,133.3L400.3,145.8L431.2,127.6M400.3,136.2L400.3,145.8" fill="#fff" stroke="#505050" stroke-width="0.65" stroke-linejoin="round"/>
<path d="M431.2,117.9L431.2,127.6" fill="none" stroke="#505050" stroke-width="0.65"/>
<path d="M403.5,136.8L428.3,121.9L428.3,130.0L403.5,144.8Z" fill="#bebebe" stroke="#909090" stroke-width="0.5"/>
</g>
<g transform="translate(0,345.90)">
<text transform="translate(17.4,87.3) rotate(-90)" font-size="8.9" font-weight="bold" fill="#ee1c25" stroke="#ee1c25" stroke-width="0.25" text-anchor="middle" textLength="34.5" lengthAdjust="spacingAndGlyphs">Case a-8</text>
<text x="91.0" y="29.1" font-size="8.3" text-anchor="middle" fill="#111" textLength="53.2" lengthAdjust="spacingAndGlyphs">window length</text>
<path d="M32.6,33.0H149.8" stroke="#666" stroke-width="0.9" stroke-dasharray="3 2.2" fill="none"/>
<path d="M31.1,30.6v5.2M150.8,30.6v5.2" stroke="#333" stroke-width="1" fill="none"/>
<text x="233.6" y="29.1" font-size="8.3" text-anchor="middle" fill="#111" textLength="53.2" lengthAdjust="spacingAndGlyphs">window length</text>
<path d="M175.3,33.0H292.1" stroke="#666" stroke-width="0.9" stroke-dasharray="3 2.2" fill="none"/>
<path d="M173.8,30.6v5.2M293.1,30.6v5.2" stroke="#333" stroke-width="1" fill="none"/>
<rect x="24.60" y="39.80" width="133.00" height="94.80" fill="#fff" stroke="#111" stroke-width="1.3"/>
<clipPath id="c10"><rect x="27.20" y="42.80" width="127.30" height="88.80"/></clipPath>
<g clip-path="url(#c10)">
<g filter="url(#bl)">
<path d="M24.2,39.8h10.07v10.04h-10.07z" fill="#0fbb45"/>
<path d="M33.56,39.8h7.07v10.04h-7.07z" fill="#04d409"/>
<path d="M39.93,39.8h7.07v10.04h-7.07z" fill="#04d508"/>
<path d="M46.3,39.8h7.06v10.04h-7.06z" fill="#04d607"/>
<path d="M52.66,39.8h7.07v10.04h-7.07z" fill="#03d607"/>
<path d="M59.03,39.8h7.06v10.04h-7.06z" fill="#03d607"/>
<path d="M65.39,39.8h7.06v10.04h-7.06z" fill="#03d607"/>
<path d="M71.75,39.8h7.07v10.04h-7.07z" fill="#03d607"/>
<path d="M78.12,39.8h7.06v10.04h-7.06z" fill="#03d607"/>
<path d="M84.48,39.8h7.07v10.04h-7.07z" fill="#03d607"/>
<path d="M90.85,39.8h7.06v10.04h-7.06z" fill="#03d607"/>
<path d="M97.22,39.8h7.06v10.04h-7.06z" fill="#03d607"/>
<path d="M103.58,39.8h7.07v10.04h-7.07z" fill="#03d607"/>
<path d="M109.95,39.8h7.06v10.04h-7.06z" fill="#03d607"/>
<path d="M116.31,39.8h7.07v10.04h-7.07z" fill="#03d607"/>
<path d="M122.68,39.8h7.06v10.04h-7.06z" fill="#03d607"/>
<path d="M129.04,39.8h7.06v10.04h-7.06z" fill="#04d607"/>
<path d="M135.41,39.8h7.06v10.04h-7.06z" fill="#04d508"/>
<path d="M141.77,39.8h7.06v10.04h-7.06z" fill="#04d409"/>
<path d="M148.13,39.8h9.37v10.04h-9.37z" fill="#0fbb45"/>
<path d="M24.2,49.14h10.07v7.04h-10.07z" fill="#1c9f91"/>
<path d="M33.56,49.14h7.07v7.04h-7.07z" fill="#10b94b"/>
<path d="M39.93,49.14h7.07v7.04h-7.07z" fill="#0ac724"/>
<path d="M46.3,49.14h7.06v7.04h-7.06z" fill="#07ce11"/>
<path d="M52.66,49.14h7.07v7.04h-7.07z" fill="#06d00c"/>
<path d="M59.03,49.14h7.06v7.04h-7.06z" fill="#06d00c"/>
<path d="M65.39,49.14h7.06v7.04h-7.06z" fill="#06d10c"/>
<path d="M71.75,49.14h7.07v7.04h-7.07z" fill="#06d10b"/>
<path d="M78.12,49.14h7.06v7.04h-7.06z" fill="#06d10b"/>
<path d="M84.48,49.14h7.07v7.04h-7.07z" fill="#06d10b"/>
<path d="M90.85,49.14h7.06v7.04h-7.06z" fill="#06d10b"/>
<path d="M97.22,49.14h7.06v7.04h-7.06z" fill="#06d10b"/>
<path d="M103.58,49.14h7.07v7.04h-7.07z" fill="#06d10b"/>
<path d="M109.95,49.14h7.06v7.04h-7.06z" fill="#06d10c"/>
<path d="M116.31,49.14h7.07v7.04h-7.07z" fill="#06d00c"/>
<path d="M122.68,49.14h7.06v7.04h-7.06z" fill="#06d00c"/>
<path d="M129.04,49.14h7.06v7.04h-7.06z" fill="#07ce11"/>
<path d="M135.41,49.14h7.06v7.04h-7.06z" fill="#0ac724"/>
<path d="M141.77,49.14h7.06v7.04h-7.06z" fill="#10b94b"/>
<path d="M148.13,49.14h9.37v7.04h-9.37z" fill="#1c9f91"/>
<path d="M24.2,55.49h10.07v7.04h-10.07z" fill="#2c90b8"/>
<path d="M33.56,55.49h7.07v7.04h-7.07z" fill="#1f98a1"/>
<path d="M39.93,55.49h7.07v7.04h-7.07z" fill="#1aa385"/>
<path d="M46.3,55.49h7.06v7.04h-7.06z" fill="#17aa73"/>
<path d="M52.66,55.49h7.07v7.04h-7.07z" fill="#15ae69"/>
<path d="M59.03,55.49h7.06v7.04h-7.06z" fill="#14b062"/>
<path d="M65.39,55.49h7.06v7.04h-7.06z" fill="#14b25e"/>
<path d="M71.75,55.49h7.07v7.04h-7.07z" fill="#13b35b"/>
<path d="M78.12,55.49h7.06v7.04h-7.06z" fill="#13b35a"/>
<path d="M84.48,55.49h7.07v7.04h-7.07z" fill="#13b359"/>
<path d="M90.85,55.49h7.06v7.04h-7.06z" fill="#13b359"/>
<path d="M97.22,55.49h7.06v7.04h-7.06z" fill="#13b35a"/>
<path d="M103.58,55.49h7.07v7.04h-7.07z" fill="#13b35b"/>
<path d="M109.95,55.49h7.06v7.04h-7.06z" fill="#14b25e"/>
<path d="M116.31,55.49h7.07v7.04h-7.07z" fill="#14b062"/>
<path d="M122.68,55.49h7.06v7.04h-7.06z" fill="#15ae69"/>
<path d="M129.04,55.49h7.06v7.04h-7.06z" fill="#17aa73"/>
<path d="M135.41,55.49h7.06v7.04h-7.06z" fill="#1aa385"/>
<path d="M141.77,55.49h7.06v7.04h-7.06z" fill="#1f98a1"/>
<path d="M148.13,55.49h9.37v7.04h-9.37z" fill="#2c90b8"/>
<path d="M24.2,61.83h10.07v7.04h-10.07z" fill="#3a8acb"/>
<path d="M33.56,61.83h7.07v7.04h-7.07z" fill="#318ebf"/>
<path d="M39.93,61.83h7.07v7.04h-7.07z" fill="#2a91b6"/>
<path d="M46.3,61.83h7.06v7.04h-7.06z" fill="#2594af"/>
<path d="M52.66,61.83h7.07v7.04h-7.07z" fill="#2295aa"/>
<path d="M59.03,61.83h7.06v7.04h-7.06z" fill="#2097a6"/>
<path d="M65.39,61.83h7.06v7.04h-7.06z" fill="#1f98a2"/>
<path d="M71.75,61.83h7.07v7.04h-7.07z" fill="#1e999f"/>
<path d="M78.12,61.83h7.06v7.04h-7.06z" fill="#1e9a9d"/>
<path d="M84.48,61.83h7.07v7.04h-7.07z" fill="#1e9a9c"/>
<path d="M90.85,61.83h7.06v7.04h-7.06z" fill="#1e9a9c"/>
<path d="M97.22,61.83h7.06v7.04h-7.06z" fill="#1e9a9d"/>
<path d="M103.58,61.83h7.07v7.04h-7.07z" fill="#1e999f"/>
<path d="M109.95,61.83h7.06v7.04h-7.06z" fill="#1f98a2"/>
<path d="M116.31,61.83h7.07v7.04h-7.07z" fill="#2097a6"/>
<path d="M122.68,61.83h7.06v7.04h-7.06z" fill="#2295aa"/>
<path d="M129.04,61.83h7.06v7.04h-7.06z" fill="#2594af"/>
<path d="M135.41,61.83h7.06v7.04h-7.06z" fill="#2a91b6"/>
<path d="M141.77,61.83h7.06v7.04h-7.06z" fill="#318ebf"/>
<path d="M148.13,61.83h9.37v7.04h-9.37z" fill="#3a8acb"/>
<path d="M24.2,68.17h10.07v7.04h-10.07z" fill="#4584d9"/>
<path d="M33.56,68.17h7.07v7.04h-7.07z" fill="#3f87d1"/>
<path d="M39.93,68.17h7.07v7.04h-7.07z" fill="#3a8acb"/>
<path d="M46.3,68.17h7.06v7.04h-7.06z" fill="#368cc5"/>
<path d="M52.66,68.17h7.07v7.04h-7.07z" fill="#338dc1"/>
<path d="M59.03,68.17h7.06v7.04h-7.06z" fill="#318ebe"/>
<path d="M65.39,68.17h7.06v7.04h-7.06z" fill="#2f8fbc"/>
<path d="M71.75,68.17h7.07v7.04h-7.07z" fill="#2e8fbb"/>
<path d="M78.12,68.17h7.06v7.04h-7.06z" fill="#2d90ba"/>
<path d="M84.48,68.17h7.07v7.04h-7.07z" fill="#2d90ba"/>
<path d="M90.85,68.17h7.06v7.04h-7.06z" fill="#2d90ba"/>
<path d="M97.22,68.17h7.06v7.04h-7.06z" fill="#2d90ba"/>
<path d="M103.58,68.17h7.07v7.04h-7.07z" fill="#2e8fbb"/>
<path d="M109.95,68.17h7.06v7.04h-7.06z" fill="#2f8fbc"/>
<path d="M116.31,68.17h7.07v7.04h-7.07z" fill="#318ebe"/>
<path d="M122.68,68.17h7.06v7.04h-7.06z" fill="#338dc1"/>
<path d="M129.04,68.17h7.06v7.04h-7.06z" fill="#368cc5"/>
<path d="M135.41,68.17h7.06v7.04h-7.06z" fill="#3a8acb"/>
<path d="M141.77,68.17h7.06v7.04h-7.06z" fill="#3f87d1"/>
<path d="M148.13,68.17h9.37v7.04h-9.37z" fill="#4584d9"/>
<path d="M24.2,74.51h10.07v7.04h-10.07z" fill="#4d81e4"/>
<path d="M33.56,74.51h7.07v7.04h-7.07z" fill="#4983df"/>
<path d="M39.93,74.51h7.07v7.04h-7.07z" fill="#4584da"/>
<path d="M46.3,74.51h7.06v7.04h-7.06z" fill="#4286d5"/>
<path d="M52.66,74.51h7.07v7.04h-7.07z" fill="#3f87d2"/>
<path d="M59.03,74.51h7.06v7.04h-7.06z" fill="#3d88d0"/>
<path d="M65.39,74.51h7.06v7.04h-7.06z" fill="#3c89ce"/>
<path d="M71.75,74.51h7.07v7.04h-7.07z" fill="#3b89cc"/>
<path d="M78.12,74.51h7.06v7.04h-7.06z" fill="#3a89cc"/>
<path d="M84.48,74.51h7.07v7.04h-7.07z" fill="#3a8acb"/>
<path d="M90.85,74.51h7.06v7.04h-7.06z" fill="#3a8acb"/>
<path d="M97.22,74.51h7.06v7.04h-7.06z" fill="#3a89cc"/>
<path d="M103.58,74.51h7.07v7.04h-7.07z" fill="#3b89cc"/>
<path d="M109.95,74.51h7.06v7.04h-7.06z" fill="#3c89ce"/>
<path d="M116.31,74.51h7.07v7.04h-7.07z" fill="#3d88d0"/>
<path d="M122.68,74.51h7.06v7.04h-7.06z" fill="#3f87d2"/>
<path d="M129.04,74.51h7.06v7.04h-7.06z" fill="#4286d5"/>
<path d="M135.41,74.51h7.06v7.04h-7.06z" fill="#4584da"/>
<path d="M141.77,74.51h7.06v7.04h-7.06z" fill="#4983df"/>
<path d="M148.13,74.51h9.37v7.04h-9.37z" fill="#4d81e4"/>
<path d="M24.2,80.86h10.07v7.04h-10.07z" fill="#618ade"/>
<path d="M33.56,80.86h7.07v7.04h-7.07z" fill="#5584e3"/>
<path d="M39.93,80.86h7.07v7.04h-7.07z" fill="#4d80e5"/>
<path d="M46.3,80.86h7.06v7.04h-7.06z" fill="#4b82e2"/>
<path d="M52.66,80.86h7.07v7.04h-7.07z" fill="#4983df"/>
<path d="M59.03,80.86h7.06v7.04h-7.06z" fill="#4783dd"/>
<path d="M65.39,80.86h7.06v7.04h-7.06z" fill="#4684db"/>
<path d="M71.75,80.86h7.07v7.04h-7.07z" fill="#4584da"/>
<path d="M78.12,80.86h7.06v7.04h-7.06z" fill="#4485d9"/>
<path d="M84.48,80.86h7.07v7.04h-7.07z" fill="#4485d9"/>
<path d="M90.85,80.86h7.06v7.04h-7.06z" fill="#4485d9"/>
<path d="M97.22,80.86h7.06v7.04h-7.06z" fill="#4485d9"/>
<path d="M103.58,80.86h7.07v7.04h-7.07z" fill="#4584da"/>
<path d="M109.95,80.86h7.06v7.04h-7.06z" fill="#4684db"/>
<path d="M116.31,80.86h7.07v7.04h-7.07z" fill="#4783dd"/>
<path d="M122.68,80.86h7.06v7.04h-7.06z" fill="#4983df"/>
<path d="M129.04,80.86h7.06v7.04h-7.06z" fill="#4b82e2"/>
<path d="M135.41,80.86h7.06v7.04h-7.06z" fill="#4d80e5"/>
<path d="M141.77,80.86h7.06v7.04h-7.06z" fill="#5584e3"/>
<path d="M148.13,80.86h9.37v7.04h-9.37z" fill="#618ade"/>
<path d="M24.2,87.2h10.07v7.04h-10.07z" fill="#7293d6"/>
<path d="M33.56,87.2h7.07v7.04h-7.07z" fill="#6a8eda"/>
<path d="M39.93,87.2h7.07v7.04h-7.07z" fill="#628add"/>
<path d="M46.3,87.2h7.06v7.04h-7.06z" fill="#5b87e0"/>
<path d="M52.66,87.2h7.07v7.04h-7.07z" fill="#5584e3"/>
<path d="M59.03,87.2h7.06v7.04h-7.06z" fill="#5081e5"/>
<path d="M65.39,87.2h7.06v7.04h-7.06z" fill="#4e80e5"/>
<path d="M71.75,87.2h7.07v7.04h-7.07z" fill="#4d81e4"/>
<path d="M78.12,87.2h7.06v7.04h-7.06z" fill="#4c81e4"/>
<path d="M84.48,87.2h7.07v7.04h-7.07z" fill="#4c81e4"/>
<path d="M90.85,87.2h7.06v7.04h-7.06z" fill="#4c81e4"/>
<path d="M97.22,87.2h7.06v7.04h-7.06z" fill="#4c81e4"/>
<path d="M103.58,87.2h7.07v7.04h-7.07z" fill="#4d81e4"/>
<path d="M109.95,87.2h7.06v7.04h-7.06z" fill="#4e80e5"/>
<path d="M116.31,87.2h7.07v7.04h-7.07z" fill="#5081e5"/>
<path d="M122.68,87.2h7.06v7.04h-7.06z" fill="#5584e3"/>
<path d="M129.04,87.2h7.06v7.04h-7.06z" fill="#5b87e0"/>
<path d="M135.41,87.2h7.06v7.04h-7.06z" fill="#628add"/>
<path d="M141.77,87.2h7.06v7.04h-7.06z" fill="#6a8eda"/>
<path d="M148.13,87.2h9.37v7.04h-9.37z" fill="#7293d6"/>
<path d="M24.2,93.54h10.07v7.04h-10.07z" fill="#819ad0"/>
<path d="M33.56,93.54h7.07v7.04h-7.07z" fill="#7a97d3"/>
<path d="M39.93,93.54h7.07v7.04h-7.07z" fill="#7494d6"/>
<path d="M46.3,93.54h7.06v7.04h-7.06z" fill="#6e91d8"/>
<path d="M52.66,93.54h7.07v7.04h-7.07z" fill="#698eda"/>
<path d="M59.03,93.54h7.06v7.04h-7.06z" fill="#668cdc"/>
<path d="M65.39,93.54h7.06v7.04h-7.06z" fill="#638bdd"/>
<path d="M71.75,93.54h7.07v7.04h-7.07z" fill="#6089de"/>
<path d="M78.12,93.54h7.06v7.04h-7.06z" fill="#5f89df"/>
<path d="M84.48,93.54h7.07v7.04h-7.07z" fill="#5e88df"/>
<path d="M90.85,93.54h7.06v7.04h-7.06z" fill="#5e88df"/>
<path d="M97.22,93.54h7.06v7.04h-7.06z" fill="#5f89df"/>
<path d="M103.58,93.54h7.07v7.04h-7.07z" fill="#6089de"/>
<path d="M109.95,93.54h7.06v7.04h-7.06z" fill="#638bdd"/>
<path d="M116.31,93.54h7.07v7.04h-7.07z" fill="#668cdc"/>
<path d="M122.68,93.54h7.06v7.04h-7.06z" fill="#698eda"/>
<path d="M129.04,93.54h7.06v7.04h-7.06z" fill="#6e91d8"/>
<path d="M135.41,93.54h7.06v7.04h-7.06z" fill="#7494d6"/>
<path d="M141.77,93.54h7.06v7.04h-7.06z" fill="#7a97d3"/>
<path d="M148.13,93.54h9.37v7.04h-9.37z" fill="#819ad0"/>
<path d="M24.2,99.89h10.07v7.04h-10.07z" fill="#8da1cb"/>
<path d="M33.56,99.89h7.07v7.04h-7.07z" fill="#879ecd"/>
<path d="M39.93,99.89h7.07v7.04h-7.07z" fill="#829bcf"/>
<path d="M46.3,99.89h7.06v7.04h-7.06z" fill="#7e99d1"/>
<path d="M52.66,99.89h7.07v7.04h-7.07z" fill="#7a97d3"/>
<path d="M59.03,99.89h7.06v7.04h-7.06z" fill="#7795d4"/>
<path d="M65.39,99.89h7.06v7.04h-7.06z" fill="#7494d6"/>
<path d="M71.75,99.89h7.07v7.04h-7.07z" fill="#7293d6"/>
<path d="M78.12,99.89h7.06v7.04h-7.06z" fill="#7192d7"/>
<path d="M84.48,99.89h7.07v7.04h-7.07z" fill="#7092d7"/>
<path d="M90.85,99.89h7.06v7.04h-7.06z" fill="#7092d7"/>
<path d="M97.22,99.89h7.06v7.04h-7.06z" fill="#7192d7"/>
<path d="M103.58,99.89h7.07v7.04h-7.07z" fill="#7293d6"/>
<path d="M109.95,99.89h7.06v7.04h-7.06z" fill="#7494d6"/>
<path d="M116.31,99.89h7.07v7.04h-7.07z" fill="#7795d4"/>
<path d="M122.68,99.89h7.06v7.04h-7.06z" fill="#7a97d3"/>
<path d="M129.04,99.89h7.06v7.04h-7.06z" fill="#7e99d1"/>
<path d="M135.41,99.89h7.06v7.04h-7.06z" fill="#829bcf"/>
<path d="M141.77,99.89h7.06v7.04h-7.06z" fill="#879ecd"/>
<path d="M148.13,99.89h9.37v7.04h-9.37z" fill="#8da1cb"/>
<path d="M24.2,106.23h10.07v7.04h-10.07z" fill="#97a6c7"/>
<path d="M33.56,106.23h7.07v7.04h-7.07z" fill="#92a3c8"/>
<path d="M39.93,106.23h7.07v7.04h-7.07z" fill="#8ea1ca"/>
<path d="M46.3,106.23h7.06v7.04h-7.06z" fill="#8b9fcc"/>
<path d="M52.66,106.23h7.07v7.04h-7.07z" fill="#879ecd"/>
<path d="M59.03,106.23h7.06v7.04h-7.06z" fill="#859cce"/>
<path d="M65.39,106.23h7.06v7.04h-7.06z" fill="#829bcf"/>
<path d="M71.75,106.23h7.07v7.04h-7.07z" fill="#819ad0"/>
<path d="M78.12,106.23h7.06v7.04h-7.06z" fill="#809ad0"/>
<path d="M84.48,106.23h7.07v7.04h-7.07z" fill="#7f9ad1"/>
<path d="M90.85,106.23h7.06v7.04h-7.06z" fill="#7f9ad1"/>
<path d="M97.22,106.23h7.06v7.04h-7.06z" fill="#809ad0"/>
<path d="M103.58,106.23h7.07v7.04h-7.07z" fill="#819ad0"/>
<path d="M109.95,106.23h7.06v7.04h-7.06z" fill="#829bcf"/>
<path d="M116.31,106.23h7.07v7.04h-7.07z" fill="#859cce"/>
<path d="M122.68,106.23h7.06v7.04h-7.06z" fill="#879ecd"/>
<path d="M129.04,106.23h7.06v7.04h-7.06z" fill="#8b9fcc"/>
<path d="M135.41,106.23h7.06v7.04h-7.06z" fill="#8ea1ca"/>
<path d="M141.77,106.23h7.06v7.04h-7.06z" fill="#92a3c8"/>
<path d="M148.13,106.23h9.37v7.04h-9.37z" fill="#97a6c7"/>
<path d="M24.2,112.57h10.07v7.04h-10.07z" fill="#9faac3"/>
<path d="M33.56,112.57h7.07v7.04h-7.07z" fill="#9ba8c5"/>
<path d="M39.93,112.57h7.07v7.04h-7.07z" fill="#98a6c6"/>
<path d="M46.3,112.57h7.06v7.04h-7.06z" fill="#95a5c7"/>
<path d="M52.66,112.57h7.07v7.04h-7.07z" fill="#92a3c8"/>
<path d="M59.03,112.57h7.06v7.04h-7.06z" fill="#90a2c9"/>
<path d="M65.39,112.57h7.06v7.04h-7.06z" fill="#8ea1ca"/>
<path d="M71.75,112.57h7.07v7.04h-7.07z" fill="#8da1cb"/>
<path d="M78.12,112.57h7.06v7.04h-7.06z" fill="#8ca0cb"/>
<path d="M84.48,112.57h7.07v7.04h-7.07z" fill="#8ca0cb"/>
<path d="M90.85,112.57h7.06v7.04h-7.06z" fill="#8ca0cb"/>
<path d="M97.22,112.57h7.06v7.04h-7.06z" fill="#8ca0cb"/>
<path d="M103.58,112.57h7.07v7.04h-7.07z" fill="#8da1cb"/>
<path d="M109.95,112.57h7.06v7.04h-7.06z" fill="#8ea1ca"/>
<path d="M116.31,112.57h7.07v7.04h-7.07z" fill="#90a2c9"/>
<path d="M122.68,112.57h7.06v7.04h-7.06z" fill="#92a3c8"/>
<path d="M129.04,112.57h7.06v7.04h-7.06z" fill="#95a5c7"/>
<path d="M135.41,112.57h7.06v7.04h-7.06z" fill="#98a6c6"/>
<path d="M141.77,112.57h7.06v7.04h-7.06z" fill="#9ba8c5"/>
<path d="M148.13,112.57h9.37v7.04h-9.37z" fill="#9faac3"/>
<path d="M24.2,118.91h10.07v7.04h-10.07z" fill="#a6aec0"/>
<path d="M33.56,118.91h7.07v7.04h-7.07z" fill="#a3acc1"/>
<path d="M39.93,118.91h7.07v7.04h-7.07z" fill="#a0abc2"/>
<path d="M46.3,118.91h7.06v7.04h-7.06z" fill="#9ea9c4"/>
<path d="M52.66,118.91h7.07v7.04h-7.07z" fill="#9ca8c4"/>
<path d="M59.03,118.91h7.06v7.04h-7.06z" fill="#9aa7c5"/>
<path d="M65.39,118.91h7.06v7.04h-7.06z" fill="#98a7c6"/>
<path d="M71.75,118.91h7.07v7.04h-7.07z" fill="#97a6c6"/>
<path d="M78.12,118.91h7.06v7.04h-7.06z" fill="#96a6c7"/>
<path d="M84.48,118.91h7.07v7.04h-7.07z" fill="#96a5c7"/>
<path d="M90.85,118.91h7.06v7.04h-7.06z" fill="#96a5c7"/>
<path d="M97.22,118.91h7.06v7.04h-7.06z" fill="#96a6c7"/>
<path d="M103.58,118.91h7.07v7.04h-7.07z" fill="#97a6c6"/>
<path d="M109.95,118.91h7.06v7.04h-7.06z" fill="#98a7c6"/>
<path d="M116.31,118.91h7.07v7.04h-7.07z" fill="#9aa7c5"/>
<path d="M122.68,118.91h7.06v7.04h-7.06z" fill="#9ca8c4"/>
<path d="M129.04,118.91h7.06v7.04h-7.06z" fill="#9ea9c4"/>
<path d="M135.41,118.91h7.06v7.04h-7.06z" fill="#a0abc2"/>
<path d="M141.77,118.91h7.06v7.04h-7.06z" fill="#a3acc1"/>
<path d="M148.13,118.91h9.37v7.04h-9.37z" fill="#a6aec0"/>
<path d="M24.2,125.26h10.07v9.34h-10.07z" fill="#acb1bd"/>
<path d="M33.56,125.26h7.07v9.34h-7.07z" fill="#a9afbe"/>
<path d="M39.93,125.26h7.07v9.34h-7.07z" fill="#a7aebf"/>
<path d="M46.3,125.26h7.06v9.34h-7.06z" fill="#a5adc0"/>
<path d="M52.66,125.26h7.07v9.34h-7.07z" fill="#a3acc1"/>
<path d="M59.03,125.26h7.06v9.34h-7.06z" fill="#a2abc2"/>
<path d="M65.39,125.26h7.06v9.34h-7.06z" fill="#a0abc2"/>
<path d="M71.75,125.26h7.07v9.34h-7.07z" fill="#9faac3"/>
<path d="M78.12,125.26h7.06v9.34h-7.06z" fill="#9faac3"/>
<path d="M84.48,125.26h7.07v9.34h-7.07z" fill="#9faac3"/>
<path d="M90.85,125.26h7.06v9.34h-7.06z" fill="#9faac3"/>
<path d="M97.22,125.26h7.06v9.34h-7.06z" fill="#9faac3"/>
<path d="M103.58,125.26h7.07v9.34h-7.07z" fill="#9faac3"/>
<path d="M109.95,125.26h7.06v9.34h-7.06z" fill="#a0abc2"/>
<path d="M116.31,125.26h7.07v9.34h-7.07z" fill="#a2abc2"/>
<path d="M122.68,125.26h7.06v9.34h-7.06z" fill="#a3acc1"/>
<path d="M129.04,125.26h7.06v9.34h-7.06z" fill="#a5adc0"/>
<path d="M135.41,125.26h7.06v9.34h-7.06z" fill="#a7aebf"/>
<path d="M141.77,125.26h7.06v9.34h-7.06z" fill="#a9afbe"/>
<path d="M148.13,125.26h9.37v9.34h-9.37z" fill="#acb1bd"/>
</g>
</g>
<path d="M34.00,42.80V131.60M40.80,42.80V131.60M47.60,42.80V131.60M54.40,42.80V131.60M61.20,42.80V131.60M68.00,42.80V131.60M74.80,42.80V131.60M81.60,42.80V131.60M88.40,42.80V131.60M95.20,42.80V131.60M102.00,42.80V131.60M108.80,42.80V131.60M115.60,42.80V131.60M122.40,42.80V131.60M129.20,42.80V131.60M136.00,42.80V131.60M142.80,42.80V131.60M149.60,42.80V131.60M27.20,49.63H154.50M27.20,56.46H154.50M27.20,63.29H154.50M27.20,70.12H154.50M27.20,76.95H154.50M27.20,83.78H154.50M27.20,90.62H154.50M27.20,97.45H154.50M27.20,104.28H154.50M27.20,111.11H154.50M27.20,117.94H154.50M27.20,124.77H154.50" stroke="#000" stroke-opacity="0.2" stroke-width="0.7" fill="none"/>
<rect x="27.20" y="42.80" width="127.30" height="88.80" fill="none" stroke="#000" stroke-opacity="0.3" stroke-width="0.6"/>
<rect x="31.10" y="38.10" width="119.70" height="3.7" fill="url(#wing)"/>
<g fill="none" stroke="#0c0c14" stroke-width="1.05" stroke-linejoin="round" stroke-linecap="round">
<path d="M154.5,78.4L149.7,80.9L144,83.4L138.2,85.6L131.6,87.6L124.9,89.3L118.1,90.6L111.3,91.5L104.4,92.2"/>
<path d="M84.3,92.5L75.9,92L67.7,91.2L60.2,89.9L52.8,88.3L45.5,86.3L39,84L32.7,81.2L28.9,79.4L27.2,78.4"/>
<path d="M154.5,52.6L153.5,53.5L151.2,55.1L148.8,56.5L146.4,57.8L141.3,59.8L136,61.4L129.9,62.6L122.3,63.5L114.1,64.2L104.4,64.7"/>
<path d="M84.3,64.8L73.2,64.5L63.5,64L55.2,63.1L47.7,61.8L41.7,60.2L38.5,59.1L35.9,58.1L33.5,56.9L31.1,55.5L28.7,53.9L27.2,52.6"/>
<path d="M151.9,42.9L150.9,44L149.9,45L147.6,46.6L146.3,47.2L144.4,48L140.9,48.8L136.6,49.3L122.1,50.3L113.5,50.7L104.2,50.9"/>
<path d="M84,50.9L75.3,50.9L68.2,50.7L47.3,49.6L42.9,49.1L38.7,48.3L35.4,47.1L33.6,46.1L32.4,45.4L30.8,44L29.7,42.9"/>
<path d="M146.5,43L138.8,44.4L134.2,44.9L129.5,45.3L119.4,45.7L104.5,45.8"/>
<path d="M84.2,45.8L66.2,45.8L53.7,45.4L48.3,45L43.7,44.5L39,43.8L35.2,43.1"/>
</g>
<g font-size="9.6" fill="#0c0c14" stroke="#0c0c14" stroke-width="0.25" text-anchor="middle">
<text x="94.1" y="47.2" textLength="17.6" lengthAdjust="spacingAndGlyphs">4.20</text>
<text x="94.1" y="56.0" textLength="17.6" lengthAdjust="spacingAndGlyphs">3.40</text>
<text x="94.1" y="68.1" textLength="17.6" lengthAdjust="spacingAndGlyphs">2.10</text>
<text x="94.1" y="95.2" textLength="17.6" lengthAdjust="spacingAndGlyphs">1.00</text>
</g>
<rect x="167.00" y="39.80" width="133.40" height="94.80" fill="#fff" stroke="#111" stroke-width="1.3"/>
<clipPath id="c11"><rect x="170.30" y="42.80" width="127.20" height="88.80"/></clipPath>
<g clip-path="url(#c11)">
<g filter="url(#bl)">
<path d="M167.3,39.8h10.06v10.04h-10.06z" fill="#1e9b9b"/>
<path d="M176.66,39.8h7.06v10.04h-7.06z" fill="#04d409"/>
<path d="M183.02,39.8h7.06v10.04h-7.06z" fill="#03d706"/>
<path d="M189.38,39.8h7.06v10.04h-7.06z" fill="#02d904"/>
<path d="M195.74,39.8h7.06v10.04h-7.06z" fill="#02da03"/>
<path d="M202.1,39.8h7.06v10.04h-7.06z" fill="#01db03"/>
<path d="M208.46,39.8h7.06v10.04h-7.06z" fill="#01db03"/>
<path d="M214.82,39.8h7.06v10.04h-7.06z" fill="#01db02"/>
<path d="M221.18,39.8h7.06v10.04h-7.06z" fill="#01db02"/>
<path d="M227.54,39.8h7.06v10.04h-7.06z" fill="#01db02"/>
<path d="M233.9,39.8h7.06v10.04h-7.06z" fill="#01db02"/>
<path d="M240.26,39.8h7.06v10.04h-7.06z" fill="#01db02"/>
<path d="M246.62,39.8h7.06v10.04h-7.06z" fill="#01db02"/>
<path d="M252.98,39.8h7.06v10.04h-7.06z" fill="#01db03"/>
<path d="M259.34,39.8h7.06v10.04h-7.06z" fill="#01db03"/>
<path d="M265.7,39.8h7.06v10.04h-7.06z" fill="#02da03"/>
<path d="M272.06,39.8h7.06v10.04h-7.06z" fill="#02d904"/>
<path d="M278.42,39.8h7.06v10.04h-7.06z" fill="#03d706"/>
<path d="M284.78,39.8h7.06v10.04h-7.06z" fill="#04d409"/>
<path d="M291.14,39.8h9.36v10.04h-9.36z" fill="#1e9b9b"/>
<path d="M167.3,49.14h10.06v7.04h-10.06z" fill="#2594af"/>
<path d="M176.66,49.14h7.06v7.04h-7.06z" fill="#0cc231"/>
<path d="M183.02,49.14h7.06v7.04h-7.06z" fill="#05d20a"/>
<path d="M189.38,49.14h7.06v7.04h-7.06z" fill="#04d508"/>
<path d="M195.74,49.14h7.06v7.04h-7.06z" fill="#03d607"/>
<path d="M202.1,49.14h7.06v7.04h-7.06z" fill="#03d706"/>
<path d="M208.46,49.14h7.06v7.04h-7.06z" fill="#03d805"/>
<path d="M214.82,49.14h7.06v7.04h-7.06z" fill="#02d805"/>
<path d="M221.18,49.14h7.06v7.04h-7.06z" fill="#02d805"/>
<path d="M227.54,49.14h7.06v7.04h-7.06z" fill="#02d905"/>
<path d="M233.9,49.14h7.06v7.04h-7.06z" fill="#02d905"/>
<path d="M240.26,49.14h7.06v7.04h-7.06z" fill="#02d805"/>
<path d="M246.62,49.14h7.06v7.04h-7.06z" fill="#02d805"/>
<path d="M252.98,49.14h7.06v7.04h-7.06z" fill="#03d805"/>
<path d="M259.34,49.14h7.06v7.04h-7.06z" fill="#03d706"/>
<path d="M265.7,49.14h7.06v7.04h-7.06z" fill="#03d607"/>
<path d="M272.06,49.14h7.06v7.04h-7.06z" fill="#04d508"/>
<path d="M278.42,49.14h7.06v7.04h-7.06z" fill="#05d20a"/>
<path d="M284.78,49.14h7.06v7.04h-7.06z" fill="#0cc231"/>
<path d="M291.14,49.14h9.36v7.04h-9.36z" fill="#2594af"/>
<path d="M167.3,55.49h10.06v7.04h-10.06z" fill="#2b91b7"/>
<path d="M176.66,55.49h7.06v7.04h-7.06z" fill="#17ab6f"/>
<path d="M183.02,55.49h7.06v7.04h-7.06z" fill="#0ac724"/>
<path d="M189.38,55.49h7.06v7.04h-7.06z" fill="#05d10b"/>
<path d="M195.74,55.49h7.06v7.04h-7.06z" fill="#05d309"/>
<path d="M202.1,55.49h7.06v7.04h-7.06z" fill="#04d408"/>
<path d="M208.46,55.49h7.06v7.04h-7.06z" fill="#04d508"/>
<path d="M214.82,55.49h7.06v7.04h-7.06z" fill="#04d507"/>
<path d="M221.18,55.49h7.06v7.04h-7.06z" fill="#04d607"/>
<path d="M227.54,55.49h7.06v7.04h-7.06z" fill="#03d607"/>
<path d="M233.9,55.49h7.06v7.04h-7.06z" fill="#03d607"/>
<path d="M240.26,55.49h7.06v7.04h-7.06z" fill="#04d607"/>
<path d="M246.62,55.49h7.06v7.04h-7.06z" fill="#04d507"/>
<path d="M252.98,55.49h7.06v7.04h-7.06z" fill="#04d508"/>
<path d="M259.34,55.49h7.06v7.04h-7.06z" fill="#04d408"/>
<path d="M265.7,55.49h7.06v7.04h-7.06z" fill="#05d309"/>
<path d="M272.06,55.49h7.06v7.04h-7.06z" fill="#05d10b"/>
<path d="M278.42,55.49h7.06v7.04h-7.06z" fill="#0ac724"/>
<path d="M284.78,55.49h7.06v7.04h-7.06z" fill="#17ab6f"/>
<path d="M291.14,55.49h9.36v7.04h-9.36z" fill="#2b91b7"/>
<path d="M167.3,61.83h10.06v7.04h-10.06z" fill="#308ebe"/>
<path d="M176.66,61.83h7.06v7.04h-7.06z" fill="#1d9c98"/>
<path d="M183.02,61.83h7.06v7.04h-7.06z" fill="#13b35b"/>
<path d="M189.38,61.83h7.06v7.04h-7.06z" fill="#0bc52b"/>
<path d="M195.74,61.83h7.06v7.04h-7.06z" fill="#06d00c"/>
<path d="M202.1,61.83h7.06v7.04h-7.06z" fill="#05d10b"/>
<path d="M208.46,61.83h7.06v7.04h-7.06z" fill="#05d20a"/>
<path d="M214.82,61.83h7.06v7.04h-7.06z" fill="#05d309"/>
<path d="M221.18,61.83h7.06v7.04h-7.06z" fill="#05d309"/>
<path d="M227.54,61.83h7.06v7.04h-7.06z" fill="#04d409"/>
<path d="M233.9,61.83h7.06v7.04h-7.06z" fill="#04d409"/>
<path d="M240.26,61.83h7.06v7.04h-7.06z" fill="#05d309"/>
<path d="M246.62,61.83h7.06v7.04h-7.06z" fill="#05d309"/>
<path d="M252.98,61.83h7.06v7.04h-7.06z" fill="#05d20a"/>
<path d="M259.34,61.83h7.06v7.04h-7.06z" fill="#05d10b"/>
<path d="M265.7,61.83h7.06v7.04h-7.06z" fill="#06d00c"/>
<path d="M272.06,61.83h7.06v7.04h-7.06z" fill="#0bc52b"/>
<path d="M278.42,61.83h7.06v7.04h-7.06z" fill="#13b35b"/>
<path d="M284.78,61.83h7.06v7.04h-7.06z" fill="#1d9c98"/>
<path d="M291.14,61.83h9.36v7.04h-9.36z" fill="#308ebe"/>
<path d="M167.3,68.17h10.06v7.04h-10.06z" fill="#358cc4"/>
<path d="M176.66,68.17h7.06v7.04h-7.06z" fill="#2494ae"/>
<path d="M183.02,68.17h7.06v7.04h-7.06z" fill="#1aa385"/>
<path d="M189.38,68.17h7.06v7.04h-7.06z" fill="#13b35b"/>
<path d="M195.74,68.17h7.06v7.04h-7.06z" fill="#0ebf39"/>
<path d="M202.1,68.17h7.06v7.04h-7.06z" fill="#09c91f"/>
<path d="M208.46,68.17h7.06v7.04h-7.06z" fill="#06d00c"/>
<path d="M214.82,68.17h7.06v7.04h-7.06z" fill="#06d10b"/>
<path d="M221.18,68.17h7.06v7.04h-7.06z" fill="#06d10b"/>
<path d="M227.54,68.17h7.06v7.04h-7.06z" fill="#05d10b"/>
<path d="M233.9,68.17h7.06v7.04h-7.06z" fill="#05d10b"/>
<path d="M240.26,68.17h7.06v7.04h-7.06z" fill="#06d10b"/>
<path d="M246.62,68.17h7.06v7.04h-7.06z" fill="#06d10b"/>
<path d="M252.98,68.17h7.06v7.04h-7.06z" fill="#06d00c"/>
<path d="M259.34,68.17h7.06v7.04h-7.06z" fill="#09c91f"/>
<path d="M265.7,68.17h7.06v7.04h-7.06z" fill="#0ebf39"/>
<path d="M272.06,68.17h7.06v7.04h-7.06z" fill="#13b35b"/>
<path d="M278.42,68.17h7.06v7.04h-7.06z" fill="#1aa385"/>
<path d="M284.78,68.17h7.06v7.04h-7.06z" fill="#2494ae"/>
<path d="M291.14,68.17h9.36v7.04h-9.36z" fill="#358cc4"/>
<path d="M167.3,74.51h10.06v7.04h-10.06z" fill="#398aca"/>
<path d="M176.66,74.51h7.06v7.04h-7.06z" fill="#2c90b8"/>
<path d="M183.02,74.51h7.06v7.04h-7.06z" fill="#2096a7"/>
<path d="M189.38,74.51h7.06v7.04h-7.06z" fill="#1aa483"/>
<path d="M195.74,74.51h7.06v7.04h-7.06z" fill="#15af65"/>
<path d="M202.1,74.51h7.06v7.04h-7.06z" fill="#11b84c"/>
<path d="M208.46,74.51h7.06v7.04h-7.06z" fill="#0ebf3a"/>
<path d="M214.82,74.51h7.06v7.04h-7.06z" fill="#0bc42d"/>
<path d="M221.18,74.51h7.06v7.04h-7.06z" fill="#0ac724"/>
<path d="M227.54,74.51h7.06v7.04h-7.06z" fill="#09c920"/>
<path d="M233.9,74.51h7.06v7.04h-7.06z" fill="#09c920"/>
<path d="M240.26,74.51h7.06v7.04h-7.06z" fill="#0ac724"/>
<path d="M246.62,74.51h7.06v7.04h-7.06z" fill="#0bc42d"/>
<path d="M252.98,74.51h7.06v7.04h-7.06z" fill="#0ebf3a"/>
<path d="M259.34,74.51h7.06v7.04h-7.06z" fill="#11b84c"/>
<path d="M265.7,74.51h7.06v7.04h-7.06z" fill="#15af65"/>
<path d="M272.06,74.51h7.06v7.04h-7.06z" fill="#1aa483"/>
<path d="M278.42,74.51h7.06v7.04h-7.06z" fill="#2096a7"/>
<path d="M284.78,74.51h7.06v7.04h-7.06z" fill="#2c90b8"/>
<path d="M291.14,74.51h9.36v7.04h-9.36z" fill="#398aca"/>
<path d="M167.3,80.86h10.06v7.04h-10.06z" fill="#3e88d0"/>
<path d="M176.66,80.86h7.06v7.04h-7.06z" fill="#338dc1"/>
<path d="M183.02,80.86h7.06v7.04h-7.06z" fill="#2892b3"/>
<path d="M189.38,80.86h7.06v7.04h-7.06z" fill="#1f97a5"/>
<path d="M195.74,80.86h7.06v7.04h-7.06z" fill="#1ba18a"/>
<path d="M202.1,80.86h7.06v7.04h-7.06z" fill="#17a974"/>
<path d="M208.46,80.86h7.06v7.04h-7.06z" fill="#15b063"/>
<path d="M214.82,80.86h7.06v7.04h-7.06z" fill="#12b457"/>
<path d="M221.18,80.86h7.06v7.04h-7.06z" fill="#11b74e"/>
<path d="M227.54,80.86h7.06v7.04h-7.06z" fill="#10b94a"/>
<path d="M233.9,80.86h7.06v7.04h-7.06z" fill="#10b94a"/>
<path d="M240.26,80.86h7.06v7.04h-7.06z" fill="#11b74e"/>
<path d="M246.62,80.86h7.06v7.04h-7.06z" fill="#12b457"/>
<path d="M252.98,80.86h7.06v7.04h-7.06z" fill="#15b063"/>
<path d="M259.34,80.86h7.06v7.04h-7.06z" fill="#17a974"/>
<path d="M265.7,80.86h7.06v7.04h-7.06z" fill="#1ba18a"/>
<path d="M272.06,80.86h7.06v7.04h-7.06z" fill="#1f97a5"/>
<path d="M278.42,80.86h7.06v7.04h-7.06z" fill="#2892b3"/>
<path d="M284.78,80.86h7.06v7.04h-7.06z" fill="#338dc1"/>
<path d="M291.14,80.86h9.36v7.04h-9.36z" fill="#3e88d0"/>
<path d="M167.3,87.2h10.06v7.04h-10.06z" fill="#4286d5"/>
<path d="M176.66,87.2h7.06v7.04h-7.06z" fill="#388ac9"/>
<path d="M183.02,87.2h7.06v7.04h-7.06z" fill="#308fbd"/>
<path d="M189.38,87.2h7.06v7.04h-7.06z" fill="#2892b2"/>
<path d="M195.74,87.2h7.06v7.04h-7.06z" fill="#2196a9"/>
<path d="M202.1,87.2h7.06v7.04h-7.06z" fill="#1d9c97"/>
<path d="M208.46,87.2h7.06v7.04h-7.06z" fill="#1ba288"/>
<path d="M214.82,87.2h7.06v7.04h-7.06z" fill="#19a67c"/>
<path d="M221.18,87.2h7.06v7.04h-7.06z" fill="#17a975"/>
<path d="M227.54,87.2h7.06v7.04h-7.06z" fill="#17aa71"/>
<path d="M233.9,87.2h7.06v7.04h-7.06z" fill="#17aa71"/>
<path d="M240.26,87.2h7.06v7.04h-7.06z" fill="#17a975"/>
<path d="M246.62,87.2h7.06v7.04h-7.06z" fill="#19a67c"/>
<path d="M252.98,87.2h7.06v7.04h-7.06z" fill="#1ba288"/>
<path d="M259.34,87.2h7.06v7.04h-7.06z" fill="#1d9c97"/>
<path d="M265.7,87.2h7.06v7.04h-7.06z" fill="#2196a9"/>
<path d="M272.06,87.2h7.06v7.04h-7.06z" fill="#2892b2"/>
<path d="M278.42,87.2h7.06v7.04h-7.06z" fill="#308fbd"/>
<path d="M284.78,87.2h7.06v7.04h-7.06z" fill="#388ac9"/>
<path d="M291.14,87.2h9.36v7.04h-9.36z" fill="#4286d5"/>
<path d="M167.3,93.54h10.06v7.04h-10.06z" fill="#4684db"/>
<path d="M176.66,93.54h7.06v7.04h-7.06z" fill="#3e88d0"/>
<path d="M183.02,93.54h7.06v7.04h-7.06z" fill="#368bc6"/>
<path d="M189.38,93.54h7.06v7.04h-7.06z" fill="#2f8fbd"/>
<path d="M195.74,93.54h7.06v7.04h-7.06z" fill="#2992b5"/>
<path d="M202.1,93.54h7.06v7.04h-7.06z" fill="#2494ae"/>
<path d="M208.46,93.54h7.06v7.04h-7.06z" fill="#2096a8"/>
<path d="M214.82,93.54h7.06v7.04h-7.06z" fill="#1e9a9e"/>
<path d="M221.18,93.54h7.06v7.04h-7.06z" fill="#1d9c97"/>
<path d="M227.54,93.54h7.06v7.04h-7.06z" fill="#1d9e94"/>
<path d="M233.9,93.54h7.06v7.04h-7.06z" fill="#1d9e94"/>
<path d="M240.26,93.54h7.06v7.04h-7.06z" fill="#1d9c97"/>
<path d="M246.62,93.54h7.06v7.04h-7.06z" fill="#1e9a9e"/>
<path d="M252.98,93.54h7.06v7.04h-7.06z" fill="#2096a8"/>
<path d="M259.34,93.54h7.06v7.04h-7.06z" fill="#2494ae"/>
<path d="M265.7,93.54h7.06v7.04h-7.06z" fill="#2992b5"/>
<path d="M272.06,93.54h7.06v7.04h-7.06z" fill="#2f8fbd"/>
<path d="M278.42,93.54h7.06v7.04h-7.06z" fill="#368bc6"/>
<path d="M284.78,93.54h7.06v7.04h-7.06z" fill="#3e88d0"/>
<path d="M291.14,93.54h9.36v7.04h-9.36z" fill="#4684db"/>
<path d="M167.3,99.89h10.06v7.04h-10.06z" fill="#4982e0"/>
<path d="M176.66,99.89h7.06v7.04h-7.06z" fill="#4385d7"/>
<path d="M183.02,99.89h7.06v7.04h-7.06z" fill="#3c89ce"/>
<path d="M189.38,99.89h7.06v7.04h-7.06z" fill="#368bc6"/>
<path d="M195.74,99.89h7.06v7.04h-7.06z" fill="#318ebf"/>
<path d="M202.1,99.89h7.06v7.04h-7.06z" fill="#2c90b9"/>
<path d="M208.46,99.89h7.06v7.04h-7.06z" fill="#2992b4"/>
<path d="M214.82,99.89h7.06v7.04h-7.06z" fill="#2693b0"/>
<path d="M221.18,99.89h7.06v7.04h-7.06z" fill="#2494ae"/>
<path d="M227.54,99.89h7.06v7.04h-7.06z" fill="#2394ac"/>
<path d="M233.9,99.89h7.06v7.04h-7.06z" fill="#2394ac"/>
<path d="M240.26,99.89h7.06v7.04h-7.06z" fill="#2494ae"/>
<path d="M246.62,99.89h7.06v7.04h-7.06z" fill="#2693b0"/>
<path d="M252.98,99.89h7.06v7.04h-7.06z" fill="#2992b4"/>
<path d="M259.34,99.89h7.06v7.04h-7.06z" fill="#2c90b9"/>
<path d="M265.7,99.89h7.06v7.04h-7.06z" fill="#318ebf"/>
<path d="M272.06,99.89h7.06v7.04h-7.06z" fill="#368bc6"/>
<path d="M278.42,99.89h7.06v7.04h-7.06z" fill="#3c89ce"/>
<path d="M284.78,99.89h7.06v7.04h-7.06z" fill="#4385d7"/>
<path d="M291.14,99.89h9.36v7.04h-9.36z" fill="#4982e0"/>
<path d="M167.3,106.23h10.06v7.04h-10.06z" fill="#4d80e5"/>
<path d="M176.66,106.23h7.06v7.04h-7.06z" fill="#4783dd"/>
<path d="M183.02,106.23h7.06v7.04h-7.06z" fill="#4186d5"/>
<path d="M189.38,106.23h7.06v7.04h-7.06z" fill="#3c88ce"/>
<path d="M195.74,106.23h7.06v7.04h-7.06z" fill="#388bc8"/>
<path d="M202.1,106.23h7.06v7.04h-7.06z" fill="#348dc3"/>
<path d="M208.46,106.23h7.06v7.04h-7.06z" fill="#318ebe"/>
<path d="M214.82,106.23h7.06v7.04h-7.06z" fill="#2e8fbb"/>
<path d="M221.18,106.23h7.06v7.04h-7.06z" fill="#2c90b9"/>
<path d="M227.54,106.23h7.06v7.04h-7.06z" fill="#2c90b8"/>
<path d="M233.9,106.23h7.06v7.04h-7.06z" fill="#2c90b8"/>
<path d="M240.26,106.23h7.06v7.04h-7.06z" fill="#2c90b9"/>
<path d="M246.62,106.23h7.06v7.04h-7.06z" fill="#2e8fbb"/>
<path d="M252.98,106.23h7.06v7.04h-7.06z" fill="#318ebe"/>
<path d="M259.34,106.23h7.06v7.04h-7.06z" fill="#348dc3"/>
<path d="M265.7,106.23h7.06v7.04h-7.06z" fill="#388bc8"/>
<path d="M272.06,106.23h7.06v7.04h-7.06z" fill="#3c88ce"/>
<path d="M278.42,106.23h7.06v7.04h-7.06z" fill="#4186d5"/>
<path d="M284.78,106.23h7.06v7.04h-7.06z" fill="#4783dd"/>
<path d="M291.14,106.23h9.36v7.04h-9.36z" fill="#4d80e5"/>
<path d="M167.3,112.57h10.06v7.04h-10.06z" fill="#5483e4"/>
<path d="M176.66,112.57h7.06v7.04h-7.06z" fill="#4b81e2"/>
<path d="M183.02,112.57h7.06v7.04h-7.06z" fill="#4684dc"/>
<path d="M189.38,112.57h7.06v7.04h-7.06z" fill="#4286d6"/>
<path d="M195.74,112.57h7.06v7.04h-7.06z" fill="#3e88d0"/>
<path d="M202.1,112.57h7.06v7.04h-7.06z" fill="#3a89cc"/>
<path d="M208.46,112.57h7.06v7.04h-7.06z" fill="#388bc8"/>
<path d="M214.82,112.57h7.06v7.04h-7.06z" fill="#358cc5"/>
<path d="M221.18,112.57h7.06v7.04h-7.06z" fill="#348cc3"/>
<path d="M227.54,112.57h7.06v7.04h-7.06z" fill="#338dc2"/>
<path d="M233.9,112.57h7.06v7.04h-7.06z" fill="#338dc2"/>
<path d="M240.26,112.57h7.06v7.04h-7.06z" fill="#348cc3"/>
<path d="M246.62,112.57h7.06v7.04h-7.06z" fill="#358cc5"/>
<path d="M252.98,112.57h7.06v7.04h-7.06z" fill="#388bc8"/>
<path d="M259.34,112.57h7.06v7.04h-7.06z" fill="#3a89cc"/>
<path d="M265.7,112.57h7.06v7.04h-7.06z" fill="#3e88d0"/>
<path d="M272.06,112.57h7.06v7.04h-7.06z" fill="#4286d6"/>
<path d="M278.42,112.57h7.06v7.04h-7.06z" fill="#4684dc"/>
<path d="M284.78,112.57h7.06v7.04h-7.06z" fill="#4b81e2"/>
<path d="M291.14,112.57h9.36v7.04h-9.36z" fill="#5483e4"/>
<path d="M167.3,118.91h10.06v7.04h-10.06z" fill="#5b87e0"/>
<path d="M176.66,118.91h7.06v7.04h-7.06z" fill="#5181e5"/>
<path d="M183.02,118.91h7.06v7.04h-7.06z" fill="#4b82e2"/>
<path d="M189.38,118.91h7.06v7.04h-7.06z" fill="#4783dc"/>
<path d="M195.74,118.91h7.06v7.04h-7.06z" fill="#4385d8"/>
<path d="M202.1,118.91h7.06v7.04h-7.06z" fill="#4087d4"/>
<path d="M208.46,118.91h7.06v7.04h-7.06z" fill="#3e88d0"/>
<path d="M214.82,118.91h7.06v7.04h-7.06z" fill="#3c89ce"/>
<path d="M221.18,118.91h7.06v7.04h-7.06z" fill="#3b89cc"/>
<path d="M227.54,118.91h7.06v7.04h-7.06z" fill="#3a8acb"/>
<path d="M233.9,118.91h7.06v7.04h-7.06z" fill="#3a8acb"/>
<path d="M240.26,118.91h7.06v7.04h-7.06z" fill="#3b89cc"/>
<path d="M246.62,118.91h7.06v7.04h-7.06z" fill="#3c89ce"/>
<path d="M252.98,118.91h7.06v7.04h-7.06z" fill="#3e88d0"/>
<path d="M259.34,118.91h7.06v7.04h-7.06z" fill="#4087d4"/>
<path d="M265.7,118.91h7.06v7.04h-7.06z" fill="#4385d8"/>
<path d="M272.06,118.91h7.06v7.04h-7.06z" fill="#4783dc"/>
<path d="M278.42,118.91h7.06v7.04h-7.06z" fill="#4b82e2"/>
<path d="M284.78,118.91h7.06v7.04h-7.06z" fill="#5181e5"/>
<path d="M291.14,118.91h9.36v7.04h-9.36z" fill="#5b87e0"/>
<path d="M167.3,125.26h10.06v9.34h-10.06z" fill="#628add"/>
<path d="M176.66,125.26h7.06v9.34h-7.06z" fill="#5986e1"/>
<path d="M183.02,125.26h7.06v9.34h-7.06z" fill="#5081e5"/>
<path d="M189.38,125.26h7.06v9.34h-7.06z" fill="#4c81e3"/>
<path d="M195.74,125.26h7.06v9.34h-7.06z" fill="#4883de"/>
<path d="M202.1,125.26h7.06v9.34h-7.06z" fill="#4684db"/>
<path d="M208.46,125.26h7.06v9.34h-7.06z" fill="#4485d8"/>
<path d="M214.82,125.26h7.06v9.34h-7.06z" fill="#4286d6"/>
<path d="M221.18,125.26h7.06v9.34h-7.06z" fill="#4186d4"/>
<path d="M227.54,125.26h7.06v9.34h-7.06z" fill="#4087d3"/>
<path d="M233.9,125.26h7.06v9.34h-7.06z" fill="#4087d3"/>
<path d="M240.26,125.26h7.06v9.34h-7.06z" fill="#4186d4"/>
<path d="M246.62,125.26h7.06v9.34h-7.06z" fill="#4286d6"/>
<path d="M252.98,125.26h7.06v9.34h-7.06z" fill="#4485d8"/>
<path d="M259.34,125.26h7.06v9.34h-7.06z" fill="#4684db"/>
<path d="M265.7,125.26h7.06v9.34h-7.06z" fill="#4883de"/>
<path d="M272.06,125.26h7.06v9.34h-7.06z" fill="#4c81e3"/>
<path d="M278.42,125.26h7.06v9.34h-7.06z" fill="#5081e5"/>
<path d="M284.78,125.26h7.06v9.34h-7.06z" fill="#5986e1"/>
<path d="M291.14,125.26h9.36v9.34h-9.36z" fill="#628add"/>
</g>
</g>
<path d="M177.10,42.80V131.60M183.90,42.80V131.60M190.70,42.80V131.60M197.50,42.80V131.60M204.30,42.80V131.60M211.10,42.80V131.60M217.90,42.80V131.60M224.70,42.80V131.60M231.50,42.80V131.60M238.30,42.80V131.60M245.10,42.80V131.60M251.90,42.80V131.60M258.70,42.80V131.60M265.50,42.80V131.60M272.30,42.80V131.60M279.10,42.80V131.60M285.90,42.80V131.60M292.70,42.80V131.60M170.30,49.63H297.50M170.30,56.46H297.50M170.30,63.29H297.50M170.30,70.12H297.50M170.30,76.95H297.50M170.30,83.78H297.50M170.30,90.62H297.50M170.30,97.45H297.50M170.30,104.28H297.50M170.30,111.11H297.50M170.30,117.94H297.50M170.30,124.77H297.50" stroke="#000" stroke-opacity="0.2" stroke-width="0.7" fill="none"/>
<rect x="170.30" y="42.80" width="127.20" height="88.80" fill="none" stroke="#000" stroke-opacity="0.3" stroke-width="0.6"/>
<rect x="173.80" y="38.10" width="119.30" height="3.7" fill="url(#wing)"/>
<g fill="none" stroke="#0c0c14" stroke-width="1.05" stroke-linejoin="round" stroke-linecap="round">
<path d="M297.5,113.1L294.1,118.3"/>
<path d="M288.1,125.9L285.2,128.9L282.2,131.6"/>
<path d="M185.6,131.6L181.8,128.1"/>
<path d="M175.5,120.8L172.8,117L170.3,113.1"/>
<path d="M297.3,45.7L296.4,50.8L295.2,55.8L293.5,60.7L291.5,65.4L289,70L286.3,74.3L283.2,78.4L279.7,82.3L276,85.8L272,89.1L267.7,92L263.2,94.5L257.9,97L253.1,98.8L248.1,100.2L243.1,101.2"/>
<path d="M230.3,101.9L225.3,101.4L219.6,100.3L214.1,98.6L208.7,96.5L204.1,94.2L199.1,91.2L194.4,87.8L190,84L185.9,79.9L182.3,75.4L179,70.6L176.5,66.1L174.2,60.8L172.5,55.8L171.3,50.8L170.6,45.6"/>
<path d="M293.2,42.8L292.8,44.1L292,45.7L290.8,47.2L283.3,54.7L280.5,57.2L277.1,60L272.9,62.8L269.7,64.7L266.4,66.5L262.9,68.1L259.4,69.5L255.9,70.7L252.2,71.8L248.6,72.6L244.9,73.3"/>
<path d="M227.3,73.9L223.6,73.4L219.9,72.8L216.2,71.9L211.9,70.7L208.4,69.5L204.3,67.8L200.3,65.9L197,64.1L193.3,61.7L190.2,59.6L187.3,57.2L184,54.3L180,50.3L176.6,46.7L175.2,44.7L174.6,42.8"/>
</g>
<g font-size="9.6" fill="#0c0c14" stroke="#0c0c14" stroke-width="0.25" text-anchor="middle">
<text x="235.9" y="77.2" textLength="15.2" lengthAdjust="spacingAndGlyphs">120</text>
<text x="236.9" y="104.9" textLength="10.1" lengthAdjust="spacingAndGlyphs">90</text>
<text x="179.0" y="127.9" textLength="10.1" lengthAdjust="spacingAndGlyphs">60</text>
<text x="290.6" y="125.5" textLength="10.1" lengthAdjust="spacingAndGlyphs">60</text>
</g>
<rect x="309.20" y="39.90" width="133.60" height="56.20" fill="#fff" stroke="#111" stroke-width="1.3"/>
<rect x="441.2" y="41.40" width="3" height="52.50" fill="#d2d2d2"/>
<clipPath id="c12"><rect x="313.90" y="53.90" width="124.50" height="28.50"/></clipPath>
<g clip-path="url(#c12)">
<g filter="url(#bl)">
<path d="M310.9,50.9h12.59v13.2h-12.59z" fill="#9a9a9c"/>
<path d="M322.79,50.9h9.59v13.2h-9.59z" fill="#a1a1a4"/>
<path d="M331.69,50.9h9.59v13.2h-9.59z" fill="#a9a9ac"/>
<path d="M340.58,50.9h9.59v13.2h-9.59z" fill="#b2b2b5"/>
<path d="M349.47,50.9h9.59v13.2h-9.59z" fill="#b0b3bc"/>
<path d="M358.36,50.9h9.59v13.2h-9.59z" fill="#a4adc1"/>
<path d="M367.26,50.9h9.59v13.2h-9.59z" fill="#97a6c7"/>
<path d="M376.15,50.9h9.59v13.2h-9.59z" fill="#869dce"/>
<path d="M385.04,50.9h9.59v13.2h-9.59z" fill="#7092d7"/>
<path d="M393.94,50.9h9.59v13.2h-9.59z" fill="#5483e3"/>
<path d="M402.83,50.9h9.59v13.2h-9.59z" fill="#4087d3"/>
<path d="M411.72,50.9h9.59v13.2h-9.59z" fill="#2992b4"/>
<path d="M420.61,50.9h9.59v13.2h-9.59z" fill="#13b457"/>
<path d="M429.51,50.9h11.89v13.2h-11.89z" fill="#04d409"/>
<path d="M310.9,63.4h12.59v10.2h-12.59z" fill="#9b9b9d"/>
<path d="M322.79,63.4h9.59v10.2h-9.59z" fill="#a2a2a4"/>
<path d="M331.69,63.4h9.59v10.2h-9.59z" fill="#aaaaac"/>
<path d="M340.58,63.4h9.59v10.2h-9.59z" fill="#b3b3b6"/>
<path d="M349.47,63.4h9.59v10.2h-9.59z" fill="#afb2bc"/>
<path d="M358.36,63.4h9.59v10.2h-9.59z" fill="#a3acc1"/>
<path d="M367.26,63.4h9.59v10.2h-9.59z" fill="#95a5c7"/>
<path d="M376.15,63.4h9.59v10.2h-9.59z" fill="#839ccf"/>
<path d="M385.04,63.4h9.59v10.2h-9.59z" fill="#6c90d9"/>
<path d="M393.94,63.4h9.59v10.2h-9.59z" fill="#4f80e6"/>
<path d="M402.83,63.4h9.59v10.2h-9.59z" fill="#3d88cf"/>
<path d="M411.72,63.4h9.59v10.2h-9.59z" fill="#2494ad"/>
<path d="M420.61,63.4h9.59v10.2h-9.59z" fill="#0fbd40"/>
<path d="M429.51,63.4h11.89v10.2h-11.89z" fill="#04d508"/>
<path d="M310.9,72.9h12.59v12.5h-12.59z" fill="#9a9a9c"/>
<path d="M322.79,72.9h9.59v12.5h-9.59z" fill="#a1a1a3"/>
<path d="M331.69,72.9h9.59v12.5h-9.59z" fill="#a9a9ac"/>
<path d="M340.58,72.9h9.59v12.5h-9.59z" fill="#b2b2b5"/>
<path d="M349.47,72.9h9.59v12.5h-9.59z" fill="#b0b3bc"/>
<path d="M358.36,72.9h9.59v12.5h-9.59z" fill="#a5adc1"/>
<path d="M367.26,72.9h9.59v12.5h-9.59z" fill="#97a6c6"/>
<path d="M376.15,72.9h9.59v12.5h-9.59z" fill="#869dce"/>
<path d="M385.04,72.9h9.59v12.5h-9.59z" fill="#7192d7"/>
<path d="M393.94,72.9h9.59v12.5h-9.59z" fill="#5584e3"/>
<path d="M402.83,72.9h9.59v12.5h-9.59z" fill="#4186d4"/>
<path d="M411.72,72.9h9.59v12.5h-9.59z" fill="#2a91b6"/>
<path d="M420.61,72.9h9.59v12.5h-9.59z" fill="#14b25d"/>
<path d="M429.51,72.9h11.89v12.5h-11.89z" fill="#04d409"/>
</g>
</g>
<path d="M322.79,53.90V82.40M331.69,53.90V82.40M340.58,53.90V82.40M349.47,53.90V82.40M358.36,53.90V82.40M367.26,53.90V82.40M376.15,53.90V82.40M385.04,53.90V82.40M393.94,53.90V82.40M402.83,53.90V82.40M411.72,53.90V82.40M420.61,53.90V82.40M429.51,53.90V82.40M313.90,63.40H438.40M313.90,72.90H438.40" stroke="#000" stroke-opacity="0.13" stroke-width="0.7" fill="none"/>
<rect x="313.90" y="53.90" width="124.50" height="28.50" fill="none" stroke="#000" stroke-opacity="0.3" stroke-width="0.6"/>
<g fill="none" stroke="#0c0c14" stroke-width="1.05" stroke-linejoin="round" stroke-linecap="round">
<path d="M345.9,82.4L345.3,77.3L345,72.2"/>
<path d="M345,63.4L345.2,59L345.7,53.9"/>
<path d="M401.9,82.4L401,77.3L400.4,72.2"/>
<path d="M400.4,63.4L400.9,58.3L401.6,53.9"/>
<path d="M422.3,82.4L421.2,77.3L420.5,72.2"/>
<path d="M420.5,63.4L420.9,59L421.9,53.9"/>
<path d="M433.6,82.4L432.6,77.3L432.1,72.2"/>
<path d="M432,63.4L432.5,58.3L433.3,53.9"/>
</g>
<g font-size="9.6" fill="#0c0c14" stroke="#0c0c14" stroke-width="0.25" text-anchor="middle">
<text x="344.9" y="71.3" textLength="10.1" lengthAdjust="spacingAndGlyphs">30</text>
<text x="400.3" y="71.3" textLength="10.1" lengthAdjust="spacingAndGlyphs">60</text>
<text x="421.2" y="71.3" textLength="10.1" lengthAdjust="spacingAndGlyphs">90</text>
<text x="432.6" y="71.3" textLength="15.2" lengthAdjust="spacingAndGlyphs">120</text>
</g>
<path d="M450.9,43.5V92.3" stroke="#8a8a8a" stroke-width="0.8" stroke-dasharray="3 2.2" fill="none"/>
<path d="M448.3,42.0h5.6M448.3,93.3h5.6" stroke="#333" stroke-width="1" fill="none"/>
<text x="467" y="65.8" font-size="8.6" text-anchor="middle" fill="#111" textLength="28" lengthAdjust="spacingAndGlyphs">window</text>
<text x="467.2" y="76.4" font-size="8.6" text-anchor="middle" fill="#111" textLength="22.4" lengthAdjust="spacingAndGlyphs">height</text>
<text x="310.5" y="109.2" font-size="8.1" font-weight="bold" fill="#000" stroke="#000" stroke-width="0.2" textLength="41.1" lengthAdjust="spacingAndGlyphs">WWR=80%</text>
<path d="M310.5,110.7h41.1" stroke="#111" stroke-width="0.9"/>
<text x="310.5" y="120.0" font-size="8.1" fill="#111" textLength="43" lengthAdjust="spacingAndGlyphs">WFR=34.1%</text>
<text x="310.5" y="130.4" font-size="8.1" fill="#111" textLength="44" lengthAdjust="spacingAndGlyphs">WWLR=90%</text>
<text x="310.5" y="140.8" font-size="8.1" fill="#111" textLength="45.9" lengthAdjust="spacingAndGlyphs">WWHR=88%</text>
<path d="M378.5,123.3L409.7,105.2L431.2,117.9L400.3,136.2ZM378.5,123.3L378.5,133.3L400.3,145.8L431.2,127.6M400.3,136.2L400.3,145.8" fill="#fff" stroke="#505050" stroke-width="0.65" stroke-linejoin="round"/>
<path d="M431.2,117.9L431.2,127.6" fill="none" stroke="#505050" stroke-width="0.65"/>
<path d="M401.8,137.6L430.2,120.7L430.2,129.0L401.8,145.8Z" fill="#bebebe" stroke="#909090" stroke-width="0.5"/>
</g>
<path d="M3.2,497.1H483.8M3.2,546.7H483.8" stroke="#555" stroke-width="1.5"/>
<rect x="25.5" y="513.3" width="170" height="6.4" fill="url(#gang)"/>
<path d="M194.8,511.8L204.4,516.5L194.8,521.2Z" fill="#00de00"/>
<rect x="246.1" y="513.3" width="169.6" height="6.4" fill="url(#gov)"/>
<path d="M415.2,511.8L424.4,516.5L415.2,521.2Z" fill="#00de00"/>
<path d="M25.5,513.3V521.6M53.9,513.3V521.6M82.3,513.3V521.6M110.6,513.3V521.6M139.0,513.3V521.6M195.4,513.3V521.6M246.1,513.3V521.6M254.2,513.3V521.6M273.0,513.3V521.6M302.6,513.3V521.6M337.6,513.3V521.6M359.1,513.3V521.6M415.6,513.3V521.6" stroke="#222" stroke-opacity="0.6" stroke-width="0.6" fill="none"/>
<g font-size="6.2" fill="#111" text-anchor="middle">
<text x="25.5" y="530.8">0</text>
<text x="53.9" y="530.8">30</text>
<text x="82.3" y="530.8">60</text>
<text x="110.2" y="530.8">90</text>
<text x="138.4" y="530.8">120</text>
<text x="195.4" y="530.8">180</text>
<text x="244.9" y="530.8">0</text>
<text x="255.7" y="530.8">0.3</text>
<text x="273.0" y="530.8">1.0</text>
<text x="302.6" y="530.8">2.1</text>
<text x="337.6" y="530.8">3.4</text>
<text x="359.1" y="530.8">4.2</text>
<text x="415.6" y="530.8">6.3</text>
</g>
<g font-size="9" font-weight="bold" fill="#000" stroke="#000" stroke-width="0.15">
<text x="25.3" y="509" textLength="18.7" lengthAdjust="spacingAndGlyphs">block</text>
<text x="54.1" y="509" textLength="16.5" lengthAdjust="spacingAndGlyphs">poor</text>
<text x="81.8" y="509" textLength="17.7" lengthAdjust="spacingAndGlyphs">good</text>
<text x="111.0" y="509" textLength="16.6" lengthAdjust="spacingAndGlyphs">wide</text>
<text x="139.2" y="509" textLength="36.9" lengthAdjust="spacingAndGlyphs">immersive</text>
<text x="233.5" y="509" textLength="18.7" lengthAdjust="spacingAndGlyphs">block</text>
<text x="254.2" y="509" textLength="16.5" lengthAdjust="spacingAndGlyphs">poor</text>
<text x="273.4" y="509" textLength="17.7" lengthAdjust="spacingAndGlyphs">good</text>
<text x="303.1" y="509" textLength="16.6" lengthAdjust="spacingAndGlyphs">wide</text>
<text x="338.2" y="509" textLength="36.9" lengthAdjust="spacingAndGlyphs">immersive</text>
</g>
<text x="79.8" y="542" font-size="9.3" font-weight="bold" fill="#000" stroke="#000" stroke-width="0.15" textLength="73.2" lengthAdjust="spacingAndGlyphs">View angle (degree)</text>
<text x="303.4" y="542" font-size="9.3" font-weight="bold" fill="#000" stroke="#000" stroke-width="0.15" textLength="63.9" lengthAdjust="spacingAndGlyphs">FOV (normalized)</text>
</svg></body></html>
